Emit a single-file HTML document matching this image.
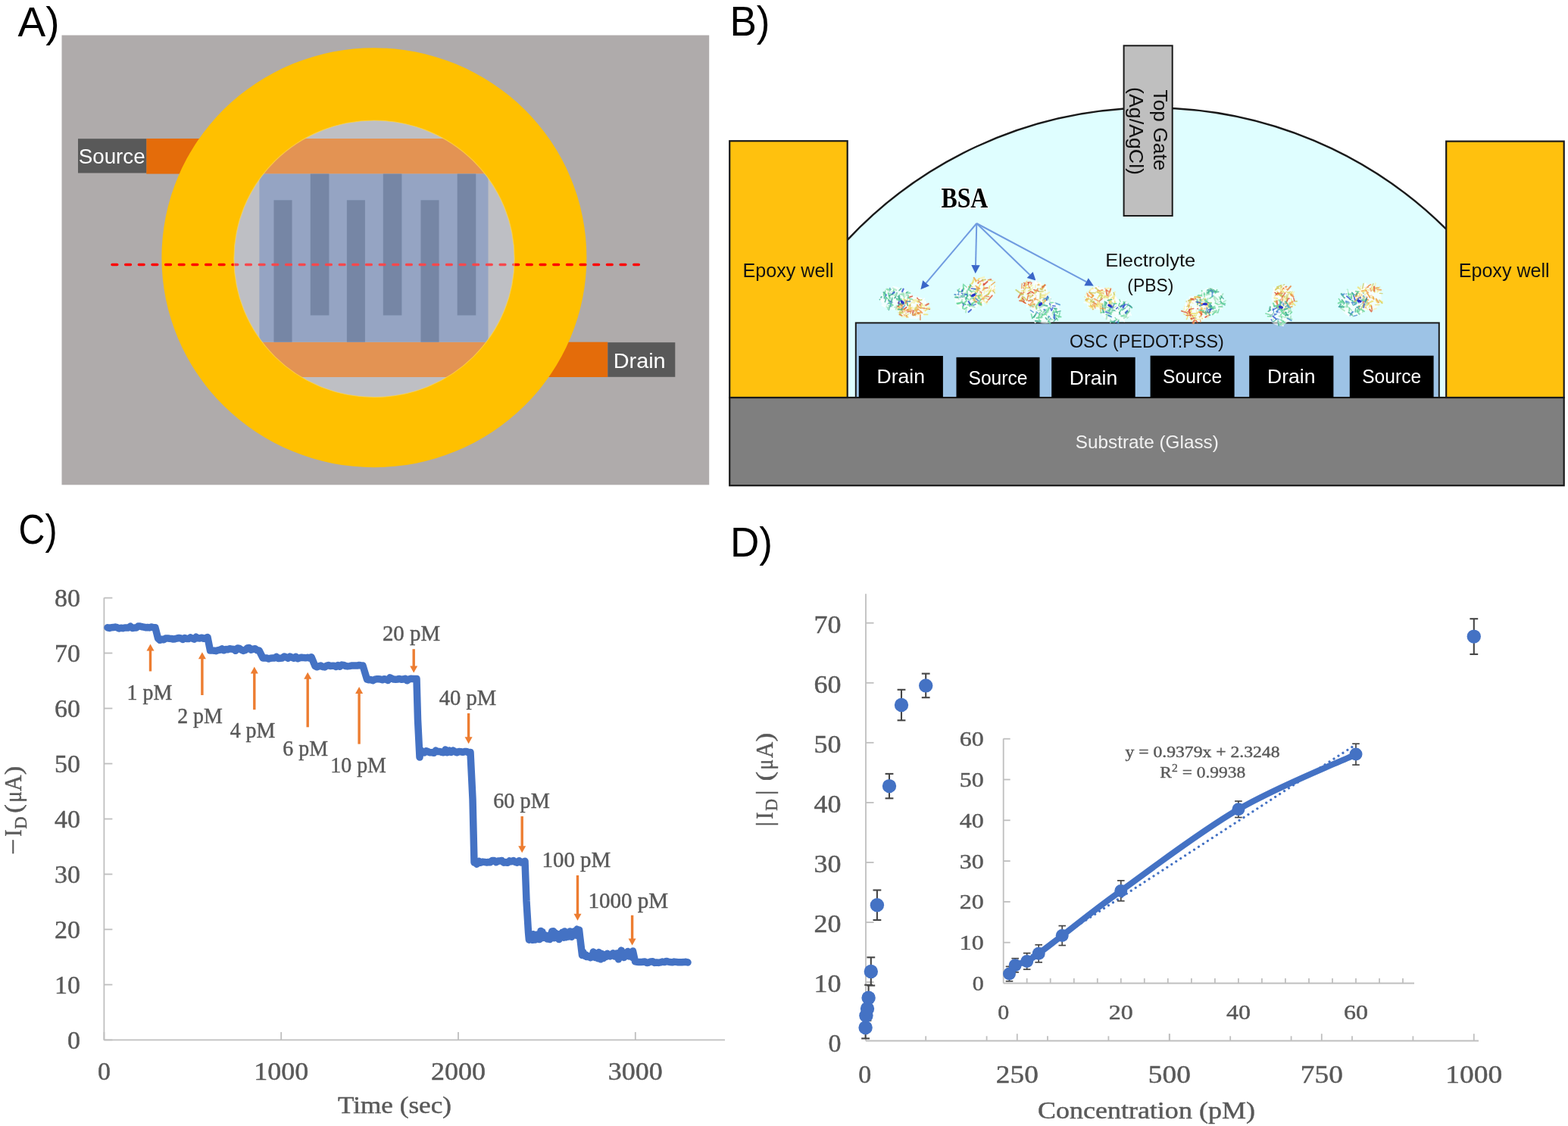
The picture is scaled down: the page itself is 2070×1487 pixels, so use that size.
<!DOCTYPE html>
<html><head><meta charset="utf-8"><title>Figure</title>
<style>html,body{margin:0;padding:0;background:#fff;overflow:hidden;} svg{display:block;}</style></head>
<body>
<svg width="2070" height="1487" viewBox="0 0 2070 1487">
<defs><filter id="pblur" x="-20%" y="-20%" width="140%" height="140%"><feGaussianBlur stdDeviation="0.6"/></filter></defs>
<rect width="2070" height="1487" fill="#fff"/>
<text x="23.5" y="47.6" font-family="'Liberation Sans', Arial, sans-serif" font-size="55" fill="#000" text-anchor="start" textLength="55" lengthAdjust="spacingAndGlyphs" >A)</text>
<text x="963.5" y="46.6" font-family="'Liberation Sans', Arial, sans-serif" font-size="55" fill="#000" text-anchor="start" textLength="53" lengthAdjust="spacingAndGlyphs" >B)</text>
<text x="24.5" y="717.6" font-family="'Liberation Sans', Arial, sans-serif" font-size="55" fill="#000" text-anchor="start" textLength="51" lengthAdjust="spacingAndGlyphs" >C)</text>
<text x="964.0" y="735.4" font-family="'Liberation Sans', Arial, sans-serif" font-size="55" fill="#000" text-anchor="start" textLength="56" lengthAdjust="spacingAndGlyphs" >D)</text>
<g id="panelA">
<rect x="81.5" y="46.5" width="854.7" height="593.8" fill="#AFABAB"/>
<rect x="193.2" y="183" width="510" height="46.6" fill="#E46C0A"/>
<rect x="290" y="451.7" width="512.3" height="46.3" fill="#E46C0A"/>
<rect x="103" y="183.2" width="90.2" height="45.3" fill="#595959"/>
<rect x="802.3" y="452.2" width="89" height="45.6" fill="#595959"/>
<text x="147.7" y="216.3" font-family="'Liberation Sans', Arial, sans-serif" font-size="28" fill="#fff" text-anchor="middle" textLength="88" lengthAdjust="spacingAndGlyphs" >Source</text>
<text x="844.2" y="485.6" font-family="'Liberation Sans', Arial, sans-serif" font-size="27" fill="#fff" text-anchor="middle" textLength="69" lengthAdjust="spacingAndGlyphs" >Drain</text>
<rect x="342.4" y="229.6" width="302.1" height="222.1" fill="#7485A9"/>
<rect x="409.8" y="229.6" width="24.6" height="186.8" fill="#48597F"/>
<rect x="505.8" y="229.6" width="24.6" height="186.8" fill="#48597F"/>
<rect x="603.7" y="229.6" width="24.6" height="186.8" fill="#48597F"/>
<rect x="361.5" y="264.3" width="24.0" height="187.4" fill="#48597F"/>
<rect x="457.9" y="264.3" width="24.0" height="187.4" fill="#48597F"/>
<rect x="555.5" y="264.3" width="24.0" height="187.4" fill="#48597F"/>
<path fill="#FFC000" fill-rule="evenodd" d="M 213.4 340.2 A 280.5 277 0 1 0 774.4 340.2 A 280.5 277 0 1 0 213.4 340.2 Z M 308.8 341.8 A 185.2 182.8 0 1 0 679.2 341.8 A 185.2 182.8 0 1 0 308.8 341.8 Z"/>
<line x1="148" y1="349.5" x2="843.3" y2="349.5" stroke="#FF0000" stroke-width="3.4" stroke-linecap="round" stroke-dasharray="6.8 10.86"/>
<ellipse cx="494" cy="341.8" rx="185.2" ry="182.8" fill="rgb(225,240,255)" fill-opacity="0.3"/>
<ellipse cx="494" cy="341.8" rx="185.2" ry="182.8" fill="none" stroke="#FFD54A" stroke-width="1.2" stroke-opacity="0.7"/>
</g>
<g id="panelB">
<path d="M 1118.7 316.9 A 550.8 550.8 0 0 1 1909.0 302.4 L 1909.0 525 L 1118.7 525 Z" fill="#DFFEFF"/>
<path d="M 1118.7 316.9 A 550.8 550.8 0 0 1 1909.0 302.4" fill="none" stroke="#1a1a1a" stroke-width="2.4"/>
<rect x="963.2" y="525" width="1101.5" height="116.2" fill="#7F7F7F" stroke="#1a1a1a" stroke-width="2.2"/>
<rect x="963.2" y="186.2" width="155.5" height="338.8" fill="#FFC10E" stroke="#1a1a1a" stroke-width="2.2"/>
<rect x="1909.2" y="186.6" width="155.5" height="338.4" fill="#FFC10E" stroke="#1a1a1a" stroke-width="2.2"/>
<rect x="1129.8" y="426.4" width="770" height="98.6" fill="#9DC3E6" stroke="#1a1a1a" stroke-width="2"/>
<rect x="1133.8" y="470" width="111.1" height="55.0" fill="#000"/>
<text x="1189.3" y="505.8" font-family="'Liberation Sans', Arial, sans-serif" font-size="25" fill="#fff" text-anchor="middle" textLength="63.5" lengthAdjust="spacingAndGlyphs" >Drain</text>
<rect x="1262.5" y="471.8" width="110.0" height="53.2" fill="#000"/>
<text x="1317.5" y="508" font-family="'Liberation Sans', Arial, sans-serif" font-size="25" fill="#fff" text-anchor="middle" textLength="78" lengthAdjust="spacingAndGlyphs" >Source</text>
<rect x="1388.2" y="471.8" width="110.5" height="53.2" fill="#000"/>
<text x="1443.5" y="508" font-family="'Liberation Sans', Arial, sans-serif" font-size="25" fill="#fff" text-anchor="middle" textLength="63.5" lengthAdjust="spacingAndGlyphs" >Drain</text>
<rect x="1518.6" y="469.7" width="111.0" height="55.3" fill="#000"/>
<text x="1574.1" y="505.5" font-family="'Liberation Sans', Arial, sans-serif" font-size="25" fill="#fff" text-anchor="middle" textLength="78" lengthAdjust="spacingAndGlyphs" >Source</text>
<rect x="1649.2" y="469.7" width="111.2" height="55.3" fill="#000"/>
<text x="1704.8" y="505.5" font-family="'Liberation Sans', Arial, sans-serif" font-size="25" fill="#fff" text-anchor="middle" textLength="63.5" lengthAdjust="spacingAndGlyphs" >Drain</text>
<rect x="1781.8" y="469.7" width="110.8" height="55.3" fill="#000"/>
<text x="1837.2" y="505.5" font-family="'Liberation Sans', Arial, sans-serif" font-size="25" fill="#fff" text-anchor="middle" textLength="78" lengthAdjust="spacingAndGlyphs" >Source</text>
<rect x="1483.6" y="60.3" width="64.1" height="224.7" fill="#BFBFBF" stroke="#1a1a1a" stroke-width="2"/>
<text transform="translate(1523,172) rotate(90)" font-family="'Liberation Sans', Arial, sans-serif" font-size="25" fill="#111" text-anchor="middle" textLength="107" lengthAdjust="spacingAndGlyphs">Top Gate</text>
<text transform="translate(1490.8,173) rotate(90)" font-family="'Liberation Sans', Arial, sans-serif" font-size="25" fill="#111" text-anchor="middle" textLength="116" lengthAdjust="spacingAndGlyphs">(Ag/AgCl)</text>
<text x="1040.6" y="366" font-family="'Liberation Sans', Arial, sans-serif" font-size="25.5" fill="#111" text-anchor="middle" textLength="120" lengthAdjust="spacingAndGlyphs" >Epoxy well</text>
<text x="1985.7" y="365.5" font-family="'Liberation Sans', Arial, sans-serif" font-size="25.5" fill="#111" text-anchor="middle" textLength="120" lengthAdjust="spacingAndGlyphs" >Epoxy well</text>
<text x="1518.7" y="351.7" font-family="'Liberation Sans', Arial, sans-serif" font-size="24" fill="#111" text-anchor="middle" textLength="119" lengthAdjust="spacingAndGlyphs" >Electrolyte</text>
<text x="1518.8" y="384.5" font-family="'Liberation Sans', Arial, sans-serif" font-size="24" fill="#111" text-anchor="middle" textLength="61" lengthAdjust="spacingAndGlyphs" >(PBS)</text>
<text x="1513.9" y="458.8" font-family="'Liberation Sans', Arial, sans-serif" font-size="24.5" fill="#111" text-anchor="middle" textLength="204" lengthAdjust="spacingAndGlyphs" >OSC (PEDOT:PSS)</text>
<text x="1514.3" y="592.3" font-family="'Liberation Sans', Arial, sans-serif" font-size="24.5" fill="#F2F2F2" text-anchor="middle" textLength="189" lengthAdjust="spacingAndGlyphs" >Substrate (Glass)</text>
<text x="1273.4" y="274" font-family="'Liberation Serif', 'Times New Roman', serif" font-size="37" fill="#000" text-anchor="middle" textLength="62" lengthAdjust="spacingAndGlyphs" font-weight="bold" stroke="#FFFFFF" stroke-width="4" stroke-opacity="0.55" stroke-linejoin="round" paint-order="stroke">BSA</text>
<line x1="1289.3" y1="295" x2="1222.5" y2="373.9" stroke="#6F9BE0" stroke-width="2"/>
<polygon points="1215.4,382.3 1218.2,370.2 1226.9,377.6" fill="#3A66C8"/>
<line x1="1289.3" y1="295" x2="1288.0" y2="350.2" stroke="#6F9BE0" stroke-width="2"/>
<polygon points="1287.7,361.2 1282.3,350.1 1293.7,350.3" fill="#3A66C8"/>
<line x1="1289.3" y1="295" x2="1359.6" y2="363.0" stroke="#6F9BE0" stroke-width="2"/>
<polygon points="1367.5,370.6 1355.6,367.1 1363.6,358.9" fill="#3A66C8"/>
<line x1="1289.3" y1="295" x2="1434.1" y2="372.2" stroke="#6F9BE0" stroke-width="2"/>
<polygon points="1443.8,377.4 1431.4,377.3 1436.8,367.2" fill="#3A66C8"/>
</g>
<g filter="url(#pblur)">
<ellipse cx="1181.9" cy="394.3" rx="19.8" ry="15.1" fill="#FFFFFF" fill-opacity="0.6"/>
<ellipse cx="1205.2" cy="406.1" rx="19.8" ry="15.1" fill="#FFFFFF" fill-opacity="0.6"/>
<line x1="1189.7" y1="406.6" x2="1190.7" y2="412.6" stroke="#CCCB62" stroke-width="2.2" stroke-linecap="round" stroke-opacity="0.8"/>
<line x1="1214.3" y1="417.5" x2="1210.0" y2="420.8" stroke="#FFFFFF" stroke-width="1.4" stroke-linecap="round" stroke-opacity="0.8"/>
<line x1="1204.5" y1="407.6" x2="1201.8" y2="413.6" stroke="#F29C5A" stroke-width="1.9" stroke-linecap="round" stroke-opacity="0.8"/>
<line x1="1191.6" y1="411.2" x2="1196.4" y2="413.8" stroke="#D9472F" stroke-width="1.3" stroke-linecap="round" stroke-opacity="0.8"/>
<line x1="1201.2" y1="402.4" x2="1199.2" y2="408.6" stroke="#EDE070" stroke-width="2.1" stroke-linecap="round" stroke-opacity="0.8"/>
<line x1="1198.9" y1="414.5" x2="1196.7" y2="419.1" stroke="#EDE070" stroke-width="1.8" stroke-linecap="round" stroke-opacity="0.8"/>
<line x1="1198.2" y1="394.9" x2="1197.4" y2="399.4" stroke="#EDE070" stroke-width="2.2" stroke-linecap="round" stroke-opacity="0.8"/>
<line x1="1213.2" y1="408.5" x2="1215.6" y2="411.6" stroke="#F29C5A" stroke-width="1.4" stroke-linecap="round" stroke-opacity="0.8"/>
<line x1="1204.5" y1="395.9" x2="1208.6" y2="396.8" stroke="#CCCB62" stroke-width="1.3" stroke-linecap="round" stroke-opacity="0.8"/>
<line x1="1201.0" y1="396.2" x2="1201.7" y2="402.8" stroke="#CCCB62" stroke-width="2.3" stroke-linecap="round" stroke-opacity="0.8"/>
<line x1="1201.7" y1="407.1" x2="1199.7" y2="410.3" stroke="#E8803A" stroke-width="1.6" stroke-linecap="round" stroke-opacity="0.8"/>
<line x1="1201.4" y1="406.8" x2="1207.1" y2="409.0" stroke="#FFFFFF" stroke-width="1.5" stroke-linecap="round" stroke-opacity="0.8"/>
<line x1="1210.7" y1="406.3" x2="1208.0" y2="410.5" stroke="#F29C5A" stroke-width="1.5" stroke-linecap="round" stroke-opacity="0.8"/>
<line x1="1185.2" y1="403.7" x2="1183.6" y2="406.9" stroke="#F29C5A" stroke-width="1.4" stroke-linecap="round" stroke-opacity="0.8"/>
<line x1="1199.9" y1="409.3" x2="1193.5" y2="409.8" stroke="#EDE070" stroke-width="1.9" stroke-linecap="round" stroke-opacity="0.8"/>
<line x1="1210.2" y1="405.1" x2="1206.1" y2="407.1" stroke="#F7F0B0" stroke-width="1.9" stroke-linecap="round" stroke-opacity="0.8"/>
<line x1="1219.7" y1="415.2" x2="1224.5" y2="415.4" stroke="#EDE070" stroke-width="1.9" stroke-linecap="round" stroke-opacity="0.8"/>
<line x1="1211.9" y1="396.0" x2="1211.1" y2="399.3" stroke="#F7F0B0" stroke-width="1.5" stroke-linecap="round" stroke-opacity="0.8"/>
<line x1="1195.4" y1="398.8" x2="1194.4" y2="402.2" stroke="#FFFFFF" stroke-width="2.1" stroke-linecap="round" stroke-opacity="0.8"/>
<line x1="1215.5" y1="412.9" x2="1212.1" y2="414.0" stroke="#E8803A" stroke-width="2.1" stroke-linecap="round" stroke-opacity="0.8"/>
<line x1="1205.7" y1="410.2" x2="1204.8" y2="415.7" stroke="#D9472F" stroke-width="2.0" stroke-linecap="round" stroke-opacity="0.8"/>
<line x1="1191.9" y1="412.4" x2="1196.3" y2="413.9" stroke="#F7F0B0" stroke-width="1.3" stroke-linecap="round" stroke-opacity="0.8"/>
<line x1="1214.6" y1="402.2" x2="1215.7" y2="406.6" stroke="#D9472F" stroke-width="2.2" stroke-linecap="round" stroke-opacity="0.8"/>
<line x1="1187.2" y1="406.2" x2="1193.0" y2="407.4" stroke="#CCCB62" stroke-width="1.5" stroke-linecap="round" stroke-opacity="0.8"/>
<line x1="1185.9" y1="399.9" x2="1188.5" y2="401.9" stroke="#E0603A" stroke-width="2.2" stroke-linecap="round" stroke-opacity="0.8"/>
<line x1="1202.8" y1="401.6" x2="1207.5" y2="402.5" stroke="#FFFFFF" stroke-width="1.5" stroke-linecap="round" stroke-opacity="0.8"/>
<line x1="1192.9" y1="414.1" x2="1196.0" y2="415.5" stroke="#F7F0B0" stroke-width="1.8" stroke-linecap="round" stroke-opacity="0.8"/>
<line x1="1194.0" y1="416.7" x2="1198.9" y2="419.0" stroke="#EFA040" stroke-width="1.3" stroke-linecap="round" stroke-opacity="0.8"/>
<line x1="1223.0" y1="407.6" x2="1227.2" y2="408.0" stroke="#D9472F" stroke-width="1.9" stroke-linecap="round" stroke-opacity="0.8"/>
<line x1="1212.2" y1="408.0" x2="1207.9" y2="408.0" stroke="#EDE070" stroke-width="1.4" stroke-linecap="round" stroke-opacity="0.8"/>
<line x1="1190.2" y1="399.8" x2="1185.7" y2="404.8" stroke="#CCCB62" stroke-width="1.4" stroke-linecap="round" stroke-opacity="0.8"/>
<line x1="1219.9" y1="403.2" x2="1214.4" y2="404.9" stroke="#F7F0B0" stroke-width="2.2" stroke-linecap="round" stroke-opacity="0.8"/>
<line x1="1186.5" y1="412.9" x2="1191.5" y2="413.2" stroke="#CCCB62" stroke-width="2.0" stroke-linecap="round" stroke-opacity="0.8"/>
<line x1="1204.2" y1="405.8" x2="1202.8" y2="408.8" stroke="#F7F0B0" stroke-width="2.3" stroke-linecap="round" stroke-opacity="0.8"/>
<line x1="1220.2" y1="394.3" x2="1216.3" y2="399.8" stroke="#FFFFFF" stroke-width="1.8" stroke-linecap="round" stroke-opacity="0.8"/>
<line x1="1187.2" y1="408.5" x2="1193.2" y2="409.1" stroke="#EFA040" stroke-width="1.9" stroke-linecap="round" stroke-opacity="0.8"/>
<line x1="1196.5" y1="405.9" x2="1193.9" y2="408.1" stroke="#D9472F" stroke-width="2.0" stroke-linecap="round" stroke-opacity="0.8"/>
<line x1="1186.5" y1="405.6" x2="1184.3" y2="409.2" stroke="#EDE070" stroke-width="1.5" stroke-linecap="round" stroke-opacity="0.8"/>
<line x1="1214.9" y1="415.8" x2="1214.9" y2="422.5" stroke="#E8803A" stroke-width="1.5" stroke-linecap="round" stroke-opacity="0.8"/>
<line x1="1198.5" y1="409.2" x2="1194.6" y2="411.9" stroke="#E8803A" stroke-width="2.2" stroke-linecap="round" stroke-opacity="0.8"/>
<line x1="1212.1" y1="397.5" x2="1217.4" y2="401.6" stroke="#E0603A" stroke-width="1.4" stroke-linecap="round" stroke-opacity="0.8"/>
<line x1="1196.3" y1="417.6" x2="1190.6" y2="418.5" stroke="#F7F0B0" stroke-width="1.6" stroke-linecap="round" stroke-opacity="0.8"/>
<line x1="1215.0" y1="413.6" x2="1209.2" y2="417.0" stroke="#EDE070" stroke-width="1.7" stroke-linecap="round" stroke-opacity="0.8"/>
<line x1="1191.3" y1="404.4" x2="1185.0" y2="404.7" stroke="#D9472F" stroke-width="1.8" stroke-linecap="round" stroke-opacity="0.8"/>
<line x1="1210.0" y1="405.1" x2="1207.1" y2="409.7" stroke="#CCCB62" stroke-width="1.6" stroke-linecap="round" stroke-opacity="0.8"/>
<line x1="1193.5" y1="415.5" x2="1196.3" y2="416.8" stroke="#E0603A" stroke-width="1.8" stroke-linecap="round" stroke-opacity="0.8"/>
<line x1="1226.6" y1="406.5" x2="1221.6" y2="410.2" stroke="#EDE070" stroke-width="2.3" stroke-linecap="round" stroke-opacity="0.8"/>
<line x1="1212.7" y1="408.0" x2="1208.1" y2="411.2" stroke="#EFA040" stroke-width="2.3" stroke-linecap="round" stroke-opacity="0.8"/>
<line x1="1202.7" y1="398.2" x2="1200.2" y2="401.3" stroke="#FFFFFF" stroke-width="2.1" stroke-linecap="round" stroke-opacity="0.8"/>
<line x1="1200.4" y1="403.7" x2="1202.3" y2="407.3" stroke="#EDE070" stroke-width="2.0" stroke-linecap="round" stroke-opacity="0.8"/>
<line x1="1190.5" y1="403.7" x2="1187.3" y2="405.4" stroke="#F29C5A" stroke-width="2.0" stroke-linecap="round" stroke-opacity="0.8"/>
<line x1="1204.7" y1="414.8" x2="1210.1" y2="417.2" stroke="#CCCB62" stroke-width="1.8" stroke-linecap="round" stroke-opacity="0.8"/>
<line x1="1192.3" y1="393.3" x2="1189.9" y2="397.9" stroke="#FFFFFF" stroke-width="1.8" stroke-linecap="round" stroke-opacity="0.8"/>
<line x1="1208.2" y1="396.2" x2="1212.6" y2="399.5" stroke="#EDE070" stroke-width="2.0" stroke-linecap="round" stroke-opacity="0.8"/>
<line x1="1210.9" y1="393.6" x2="1213.5" y2="396.0" stroke="#D9472F" stroke-width="1.7" stroke-linecap="round" stroke-opacity="0.8"/>
<line x1="1212.9" y1="408.2" x2="1217.4" y2="413.2" stroke="#F29C5A" stroke-width="2.0" stroke-linecap="round" stroke-opacity="0.8"/>
<line x1="1220.4" y1="404.9" x2="1219.7" y2="409.6" stroke="#F7F0B0" stroke-width="2.1" stroke-linecap="round" stroke-opacity="0.8"/>
<line x1="1201.0" y1="403.2" x2="1202.4" y2="409.5" stroke="#F29C5A" stroke-width="1.3" stroke-linecap="round" stroke-opacity="0.8"/>
<line x1="1186.6" y1="402.7" x2="1189.8" y2="404.3" stroke="#CCCB62" stroke-width="1.8" stroke-linecap="round" stroke-opacity="0.8"/>
<line x1="1204.2" y1="391.2" x2="1199.8" y2="392.9" stroke="#D9472F" stroke-width="1.9" stroke-linecap="round" stroke-opacity="0.8"/>
<line x1="1196.8" y1="391.5" x2="1199.9" y2="395.6" stroke="#FFFFFF" stroke-width="2.0" stroke-linecap="round" stroke-opacity="0.8"/>
<line x1="1193.2" y1="395.1" x2="1197.7" y2="399.9" stroke="#CCCB62" stroke-width="2.0" stroke-linecap="round" stroke-opacity="0.8"/>
<line x1="1225.7" y1="401.2" x2="1222.3" y2="402.9" stroke="#E0603A" stroke-width="2.3" stroke-linecap="round" stroke-opacity="0.8"/>
<line x1="1187.3" y1="403.5" x2="1191.7" y2="405.2" stroke="#EDE070" stroke-width="1.3" stroke-linecap="round" stroke-opacity="0.8"/>
<line x1="1193.4" y1="411.7" x2="1195.0" y2="416.5" stroke="#F7F0B0" stroke-width="2.1" stroke-linecap="round" stroke-opacity="0.8"/>
<line x1="1193.4" y1="401.5" x2="1189.8" y2="402.3" stroke="#D9472F" stroke-width="1.8" stroke-linecap="round" stroke-opacity="0.8"/>
<line x1="1221.5" y1="397.4" x2="1221.9" y2="401.5" stroke="#FFFFFF" stroke-width="1.4" stroke-linecap="round" stroke-opacity="0.8"/>
<line x1="1188.1" y1="408.5" x2="1187.6" y2="415.2" stroke="#CCCB62" stroke-width="1.4" stroke-linecap="round" stroke-opacity="0.8"/>
<line x1="1203.4" y1="406.3" x2="1200.7" y2="408.6" stroke="#EDE070" stroke-width="1.3" stroke-linecap="round" stroke-opacity="0.8"/>
<line x1="1210.0" y1="411.6" x2="1207.3" y2="414.7" stroke="#E8803A" stroke-width="1.5" stroke-linecap="round" stroke-opacity="0.8"/>
<line x1="1190.4" y1="404.5" x2="1190.3" y2="408.0" stroke="#E0603A" stroke-width="1.6" stroke-linecap="round" stroke-opacity="0.8"/>
<line x1="1210.8" y1="415.5" x2="1209.5" y2="418.3" stroke="#FFFFFF" stroke-width="2.1" stroke-linecap="round" stroke-opacity="0.8"/>
<line x1="1194.9" y1="396.0" x2="1192.5" y2="401.0" stroke="#CCCB62" stroke-width="1.8" stroke-linecap="round" stroke-opacity="0.8"/>
<line x1="1216.7" y1="395.9" x2="1213.3" y2="396.8" stroke="#CCCB62" stroke-width="1.9" stroke-linecap="round" stroke-opacity="0.8"/>
<line x1="1202.1" y1="411.1" x2="1198.0" y2="412.1" stroke="#E0603A" stroke-width="1.5" stroke-linecap="round" stroke-opacity="0.8"/>
<line x1="1222.0" y1="404.7" x2="1228.0" y2="407.3" stroke="#F7F0B0" stroke-width="1.4" stroke-linecap="round" stroke-opacity="0.8"/>
<line x1="1196.2" y1="410.7" x2="1193.1" y2="414.9" stroke="#FFFFFF" stroke-width="1.5" stroke-linecap="round" stroke-opacity="0.8"/>
<line x1="1193.2" y1="394.5" x2="1191.2" y2="397.7" stroke="#F7F0B0" stroke-width="2.2" stroke-linecap="round" stroke-opacity="0.8"/>
<line x1="1210.9" y1="402.7" x2="1213.5" y2="407.5" stroke="#EFA040" stroke-width="2.3" stroke-linecap="round" stroke-opacity="0.8"/>
<line x1="1212.9" y1="393.8" x2="1216.3" y2="394.2" stroke="#FFFFFF" stroke-width="1.9" stroke-linecap="round" stroke-opacity="0.8"/>
<line x1="1187.7" y1="404.4" x2="1191.2" y2="405.7" stroke="#F7F0B0" stroke-width="1.5" stroke-linecap="round" stroke-opacity="0.8"/>
<line x1="1209.7" y1="412.8" x2="1213.0" y2="413.4" stroke="#E8803A" stroke-width="2.3" stroke-linecap="round" stroke-opacity="0.8"/>
<line x1="1186.9" y1="407.1" x2="1187.9" y2="411.6" stroke="#EDE070" stroke-width="1.7" stroke-linecap="round" stroke-opacity="0.8"/>
<line x1="1211.0" y1="414.0" x2="1205.8" y2="416.7" stroke="#E8803A" stroke-width="1.5" stroke-linecap="round" stroke-opacity="0.8"/>
<line x1="1189.0" y1="406.8" x2="1186.8" y2="413.1" stroke="#FFFFFF" stroke-width="1.4" stroke-linecap="round" stroke-opacity="0.8"/>
<line x1="1210.2" y1="395.1" x2="1206.5" y2="400.1" stroke="#F7F0B0" stroke-width="2.2" stroke-linecap="round" stroke-opacity="0.8"/>
<line x1="1196.5" y1="397.1" x2="1195.5" y2="400.8" stroke="#E0603A" stroke-width="1.6" stroke-linecap="round" stroke-opacity="0.8"/>
<line x1="1208.4" y1="396.0" x2="1203.8" y2="399.8" stroke="#F7F0B0" stroke-width="2.1" stroke-linecap="round" stroke-opacity="0.8"/>
<line x1="1187.7" y1="412.0" x2="1189.8" y2="416.8" stroke="#CCCB62" stroke-width="1.7" stroke-linecap="round" stroke-opacity="0.8"/>
<line x1="1208.4" y1="411.2" x2="1210.0" y2="414.0" stroke="#F7F0B0" stroke-width="1.8" stroke-linecap="round" stroke-opacity="0.8"/>
<line x1="1214.4" y1="406.3" x2="1221.0" y2="407.3" stroke="#E8803A" stroke-width="1.6" stroke-linecap="round" stroke-opacity="0.8"/>
<line x1="1217.0" y1="401.3" x2="1215.7" y2="406.8" stroke="#EDE070" stroke-width="1.8" stroke-linecap="round" stroke-opacity="0.8"/>
<line x1="1187.3" y1="415.4" x2="1190.9" y2="416.8" stroke="#E8803A" stroke-width="1.7" stroke-linecap="round" stroke-opacity="0.8"/>
<line x1="1196.8" y1="401.6" x2="1200.9" y2="405.9" stroke="#F7F0B0" stroke-width="1.7" stroke-linecap="round" stroke-opacity="0.8"/>
<line x1="1213.0" y1="407.2" x2="1215.1" y2="409.4" stroke="#FFFFFF" stroke-width="1.6" stroke-linecap="round" stroke-opacity="0.8"/>
<line x1="1174.3" y1="400.6" x2="1172.8" y2="407.3" stroke="#FFFFFF" stroke-width="2.3" stroke-linecap="round" stroke-opacity="0.8"/>
<line x1="1171.0" y1="381.4" x2="1168.4" y2="385.9" stroke="#66D69A" stroke-width="2.3" stroke-linecap="round" stroke-opacity="0.8"/>
<line x1="1164.4" y1="403.0" x2="1168.6" y2="405.5" stroke="#FFFFFF" stroke-width="1.8" stroke-linecap="round" stroke-opacity="0.8"/>
<line x1="1178.2" y1="389.6" x2="1177.8" y2="394.2" stroke="#A6E3BE" stroke-width="1.9" stroke-linecap="round" stroke-opacity="0.8"/>
<line x1="1176.4" y1="400.1" x2="1172.5" y2="401.0" stroke="#4A8ED0" stroke-width="2.0" stroke-linecap="round" stroke-opacity="0.8"/>
<line x1="1182.9" y1="389.3" x2="1180.8" y2="394.2" stroke="#3FAE90" stroke-width="1.7" stroke-linecap="round" stroke-opacity="0.8"/>
<line x1="1177.0" y1="390.6" x2="1182.9" y2="391.5" stroke="#FFFFFF" stroke-width="2.3" stroke-linecap="round" stroke-opacity="0.8"/>
<line x1="1187.1" y1="390.5" x2="1187.4" y2="395.2" stroke="#3FAE90" stroke-width="2.3" stroke-linecap="round" stroke-opacity="0.8"/>
<line x1="1184.3" y1="405.4" x2="1180.7" y2="405.8" stroke="#A6E3BE" stroke-width="1.5" stroke-linecap="round" stroke-opacity="0.8"/>
<line x1="1178.7" y1="389.5" x2="1182.5" y2="392.4" stroke="#FFFFFF" stroke-width="1.4" stroke-linecap="round" stroke-opacity="0.8"/>
<line x1="1174.1" y1="391.6" x2="1175.1" y2="395.1" stroke="#A6E3BE" stroke-width="1.9" stroke-linecap="round" stroke-opacity="0.8"/>
<line x1="1171.1" y1="381.4" x2="1170.5" y2="387.5" stroke="#FFFFFF" stroke-width="2.3" stroke-linecap="round" stroke-opacity="0.8"/>
<line x1="1199.1" y1="387.9" x2="1199.1" y2="392.9" stroke="#3FAE90" stroke-width="1.6" stroke-linecap="round" stroke-opacity="0.8"/>
<line x1="1163.7" y1="391.9" x2="1161.5" y2="395.4" stroke="#3FAE90" stroke-width="1.9" stroke-linecap="round" stroke-opacity="0.8"/>
<line x1="1166.6" y1="386.2" x2="1169.2" y2="388.9" stroke="#3FAE90" stroke-width="2.3" stroke-linecap="round" stroke-opacity="0.8"/>
<line x1="1196.1" y1="386.8" x2="1201.6" y2="387.0" stroke="#66D69A" stroke-width="1.6" stroke-linecap="round" stroke-opacity="0.8"/>
<line x1="1183.4" y1="394.2" x2="1188.4" y2="395.4" stroke="#3FAE90" stroke-width="1.4" stroke-linecap="round" stroke-opacity="0.8"/>
<line x1="1174.8" y1="380.5" x2="1175.1" y2="387.4" stroke="#4A8ED0" stroke-width="1.7" stroke-linecap="round" stroke-opacity="0.8"/>
<line x1="1171.0" y1="402.9" x2="1177.2" y2="404.4" stroke="#66D69A" stroke-width="1.4" stroke-linecap="round" stroke-opacity="0.8"/>
<line x1="1189.6" y1="381.1" x2="1186.2" y2="384.5" stroke="#3FAE90" stroke-width="1.7" stroke-linecap="round" stroke-opacity="0.8"/>
<line x1="1187.0" y1="397.2" x2="1186.4" y2="401.4" stroke="#3050D0" stroke-width="2.0" stroke-linecap="round" stroke-opacity="0.8"/>
<line x1="1193.6" y1="386.8" x2="1194.3" y2="392.1" stroke="#FFFFFF" stroke-width="1.6" stroke-linecap="round" stroke-opacity="0.8"/>
<line x1="1170.0" y1="389.5" x2="1167.3" y2="393.6" stroke="#3050D0" stroke-width="1.6" stroke-linecap="round" stroke-opacity="0.8"/>
<line x1="1183.9" y1="386.9" x2="1181.8" y2="393.2" stroke="#3FAE90" stroke-width="2.0" stroke-linecap="round" stroke-opacity="0.8"/>
<line x1="1161.7" y1="393.9" x2="1165.4" y2="395.7" stroke="#FFFFFF" stroke-width="1.7" stroke-linecap="round" stroke-opacity="0.8"/>
<line x1="1179.6" y1="382.9" x2="1180.4" y2="387.1" stroke="#66D69A" stroke-width="1.9" stroke-linecap="round" stroke-opacity="0.8"/>
<line x1="1198.1" y1="385.5" x2="1194.2" y2="388.3" stroke="#3FAE90" stroke-width="1.6" stroke-linecap="round" stroke-opacity="0.8"/>
<line x1="1175.6" y1="401.5" x2="1177.3" y2="405.1" stroke="#A6E3BE" stroke-width="1.7" stroke-linecap="round" stroke-opacity="0.8"/>
<line x1="1175.4" y1="399.5" x2="1171.2" y2="404.0" stroke="#FFFFFF" stroke-width="1.7" stroke-linecap="round" stroke-opacity="0.8"/>
<line x1="1173.3" y1="396.8" x2="1177.8" y2="399.6" stroke="#3050D0" stroke-width="2.1" stroke-linecap="round" stroke-opacity="0.8"/>
<line x1="1188.1" y1="388.3" x2="1192.0" y2="389.0" stroke="#66D69A" stroke-width="1.5" stroke-linecap="round" stroke-opacity="0.8"/>
<line x1="1181.2" y1="394.9" x2="1180.8" y2="398.2" stroke="#FFFFFF" stroke-width="2.1" stroke-linecap="round" stroke-opacity="0.8"/>
<line x1="1183.9" y1="395.7" x2="1190.3" y2="397.4" stroke="#66D69A" stroke-width="1.9" stroke-linecap="round" stroke-opacity="0.8"/>
<line x1="1194.5" y1="403.1" x2="1191.7" y2="406.8" stroke="#4A8ED0" stroke-width="1.8" stroke-linecap="round" stroke-opacity="0.8"/>
<line x1="1191.0" y1="387.3" x2="1193.2" y2="391.3" stroke="#A6E3BE" stroke-width="2.3" stroke-linecap="round" stroke-opacity="0.8"/>
<line x1="1172.0" y1="383.9" x2="1178.0" y2="385.3" stroke="#A6E3BE" stroke-width="1.9" stroke-linecap="round" stroke-opacity="0.8"/>
<line x1="1197.2" y1="398.2" x2="1201.6" y2="398.2" stroke="#4A8ED0" stroke-width="1.7" stroke-linecap="round" stroke-opacity="0.8"/>
<line x1="1194.2" y1="397.2" x2="1193.8" y2="402.8" stroke="#A6E3BE" stroke-width="2.0" stroke-linecap="round" stroke-opacity="0.8"/>
<line x1="1183.9" y1="382.4" x2="1188.7" y2="387.0" stroke="#FFFFFF" stroke-width="1.5" stroke-linecap="round" stroke-opacity="0.8"/>
<line x1="1170.0" y1="382.8" x2="1170.9" y2="386.5" stroke="#FFFFFF" stroke-width="1.6" stroke-linecap="round" stroke-opacity="0.8"/>
<line x1="1185.2" y1="391.2" x2="1188.6" y2="396.0" stroke="#3FAE90" stroke-width="1.5" stroke-linecap="round" stroke-opacity="0.8"/>
<line x1="1199.3" y1="385.6" x2="1199.5" y2="388.6" stroke="#A6E3BE" stroke-width="2.1" stroke-linecap="round" stroke-opacity="0.8"/>
<line x1="1176.9" y1="399.4" x2="1179.7" y2="402.0" stroke="#FFFFFF" stroke-width="2.0" stroke-linecap="round" stroke-opacity="0.8"/>
<line x1="1172.7" y1="387.0" x2="1174.7" y2="393.3" stroke="#66D69A" stroke-width="2.2" stroke-linecap="round" stroke-opacity="0.8"/>
<line x1="1195.6" y1="387.8" x2="1198.9" y2="391.4" stroke="#A6E3BE" stroke-width="2.2" stroke-linecap="round" stroke-opacity="0.8"/>
<line x1="1189.5" y1="388.8" x2="1195.3" y2="390.5" stroke="#A6E3BE" stroke-width="2.2" stroke-linecap="round" stroke-opacity="0.8"/>
<line x1="1172.9" y1="395.7" x2="1175.1" y2="401.5" stroke="#66D69A" stroke-width="1.8" stroke-linecap="round" stroke-opacity="0.8"/>
<line x1="1168.9" y1="391.6" x2="1173.0" y2="395.4" stroke="#66D69A" stroke-width="1.3" stroke-linecap="round" stroke-opacity="0.8"/>
<line x1="1170.2" y1="393.2" x2="1168.3" y2="398.7" stroke="#3FAE90" stroke-width="1.5" stroke-linecap="round" stroke-opacity="0.8"/>
<line x1="1191.2" y1="399.8" x2="1185.7" y2="403.6" stroke="#3FAE90" stroke-width="1.4" stroke-linecap="round" stroke-opacity="0.8"/>
<line x1="1178.7" y1="380.9" x2="1183.3" y2="383.2" stroke="#A6E3BE" stroke-width="2.1" stroke-linecap="round" stroke-opacity="0.8"/>
<line x1="1197.9" y1="393.6" x2="1204.0" y2="395.2" stroke="#66D69A" stroke-width="1.6" stroke-linecap="round" stroke-opacity="0.8"/>
<line x1="1177.7" y1="388.8" x2="1183.3" y2="390.3" stroke="#A6E3BE" stroke-width="2.0" stroke-linecap="round" stroke-opacity="0.8"/>
<line x1="1166.7" y1="388.4" x2="1168.3" y2="394.3" stroke="#66D69A" stroke-width="2.2" stroke-linecap="round" stroke-opacity="0.8"/>
<line x1="1197.5" y1="400.5" x2="1198.4" y2="403.5" stroke="#3FAE90" stroke-width="1.8" stroke-linecap="round" stroke-opacity="0.8"/>
<line x1="1199.3" y1="388.8" x2="1203.4" y2="389.8" stroke="#FFFFFF" stroke-width="1.6" stroke-linecap="round" stroke-opacity="0.8"/>
<line x1="1163.0" y1="396.3" x2="1166.0" y2="397.7" stroke="#FFFFFF" stroke-width="2.0" stroke-linecap="round" stroke-opacity="0.8"/>
<line x1="1170.9" y1="382.2" x2="1176.5" y2="382.4" stroke="#66D69A" stroke-width="1.7" stroke-linecap="round" stroke-opacity="0.8"/>
<line x1="1180.6" y1="385.8" x2="1178.0" y2="388.1" stroke="#3050D0" stroke-width="2.2" stroke-linecap="round" stroke-opacity="0.8"/>
<line x1="1192.6" y1="381.7" x2="1191.1" y2="385.0" stroke="#3050D0" stroke-width="2.2" stroke-linecap="round" stroke-opacity="0.8"/>
<line x1="1179.3" y1="378.4" x2="1184.4" y2="379.8" stroke="#FFFFFF" stroke-width="1.5" stroke-linecap="round" stroke-opacity="0.8"/>
<line x1="1177.6" y1="394.6" x2="1176.3" y2="401.3" stroke="#3FAE90" stroke-width="2.0" stroke-linecap="round" stroke-opacity="0.8"/>
<line x1="1173.2" y1="405.1" x2="1171.9" y2="408.3" stroke="#66D69A" stroke-width="1.4" stroke-linecap="round" stroke-opacity="0.8"/>
<line x1="1177.8" y1="388.4" x2="1173.8" y2="390.6" stroke="#3FAE90" stroke-width="1.9" stroke-linecap="round" stroke-opacity="0.8"/>
<line x1="1189.6" y1="394.9" x2="1191.0" y2="401.7" stroke="#66D69A" stroke-width="2.1" stroke-linecap="round" stroke-opacity="0.8"/>
<line x1="1170.1" y1="405.1" x2="1172.9" y2="407.3" stroke="#A6E3BE" stroke-width="1.4" stroke-linecap="round" stroke-opacity="0.8"/>
<line x1="1178.4" y1="382.1" x2="1174.8" y2="386.3" stroke="#FFFFFF" stroke-width="1.9" stroke-linecap="round" stroke-opacity="0.8"/>
<line x1="1175.1" y1="404.3" x2="1173.3" y2="409.6" stroke="#3FAE90" stroke-width="1.3" stroke-linecap="round" stroke-opacity="0.8"/>
<line x1="1176.3" y1="399.9" x2="1175.5" y2="404.6" stroke="#4A8ED0" stroke-width="1.5" stroke-linecap="round" stroke-opacity="0.8"/>
<line x1="1173.8" y1="400.4" x2="1178.6" y2="403.0" stroke="#66D69A" stroke-width="2.1" stroke-linecap="round" stroke-opacity="0.8"/>
<line x1="1194.7" y1="385.0" x2="1194.5" y2="390.4" stroke="#FFFFFF" stroke-width="1.9" stroke-linecap="round" stroke-opacity="0.8"/>
<line x1="1185.8" y1="408.4" x2="1191.0" y2="408.8" stroke="#3FAE90" stroke-width="2.0" stroke-linecap="round" stroke-opacity="0.8"/>
<line x1="1184.7" y1="386.5" x2="1181.6" y2="390.8" stroke="#A6E3BE" stroke-width="1.6" stroke-linecap="round" stroke-opacity="0.8"/>
<line x1="1192.8" y1="387.0" x2="1193.8" y2="393.5" stroke="#A6E3BE" stroke-width="2.0" stroke-linecap="round" stroke-opacity="0.8"/>
<line x1="1183.5" y1="403.5" x2="1182.5" y2="408.6" stroke="#A6E3BE" stroke-width="1.6" stroke-linecap="round" stroke-opacity="0.8"/>
<ellipse cx="1191.2" cy="399.0" rx="3.2" ry="1.8" fill="#2A35CC" transform="rotate(49 1191.2 399.0)"/>
</g>
<g filter="url(#pblur)">
<ellipse cx="1277.4" cy="394.0" rx="17.0" ry="16.8" fill="#FFFFFF" fill-opacity="0.6"/>
<ellipse cx="1296.3" cy="383.5" rx="17.0" ry="16.8" fill="#FFFFFF" fill-opacity="0.6"/>
<line x1="1281.2" y1="383.7" x2="1282.8" y2="387.8" stroke="#E8803A" stroke-width="2.3" stroke-linecap="round" stroke-opacity="0.8"/>
<line x1="1282.9" y1="382.3" x2="1281.1" y2="387.8" stroke="#FFFFFF" stroke-width="1.9" stroke-linecap="round" stroke-opacity="0.8"/>
<line x1="1291.6" y1="376.0" x2="1293.8" y2="379.9" stroke="#FFFFFF" stroke-width="1.5" stroke-linecap="round" stroke-opacity="0.8"/>
<line x1="1287.8" y1="377.5" x2="1290.6" y2="382.5" stroke="#EFA040" stroke-width="1.7" stroke-linecap="round" stroke-opacity="0.8"/>
<line x1="1299.2" y1="378.8" x2="1296.1" y2="384.3" stroke="#F7F0B0" stroke-width="1.5" stroke-linecap="round" stroke-opacity="0.8"/>
<line x1="1307.6" y1="381.1" x2="1308.4" y2="384.5" stroke="#FFFFFF" stroke-width="1.4" stroke-linecap="round" stroke-opacity="0.8"/>
<line x1="1294.1" y1="394.9" x2="1287.7" y2="397.3" stroke="#F7F0B0" stroke-width="1.9" stroke-linecap="round" stroke-opacity="0.8"/>
<line x1="1291.8" y1="381.1" x2="1290.4" y2="385.5" stroke="#E0603A" stroke-width="1.8" stroke-linecap="round" stroke-opacity="0.8"/>
<line x1="1292.6" y1="384.6" x2="1295.4" y2="386.5" stroke="#D9472F" stroke-width="2.1" stroke-linecap="round" stroke-opacity="0.8"/>
<line x1="1296.6" y1="397.8" x2="1293.6" y2="402.7" stroke="#CCCB62" stroke-width="1.4" stroke-linecap="round" stroke-opacity="0.8"/>
<line x1="1299.3" y1="392.1" x2="1295.4" y2="395.7" stroke="#EFA040" stroke-width="1.5" stroke-linecap="round" stroke-opacity="0.8"/>
<line x1="1282.2" y1="392.8" x2="1286.1" y2="396.1" stroke="#F7F0B0" stroke-width="1.7" stroke-linecap="round" stroke-opacity="0.8"/>
<line x1="1282.0" y1="391.4" x2="1286.6" y2="395.3" stroke="#F7F0B0" stroke-width="1.4" stroke-linecap="round" stroke-opacity="0.8"/>
<line x1="1295.5" y1="392.8" x2="1293.7" y2="396.8" stroke="#FFFFFF" stroke-width="1.4" stroke-linecap="round" stroke-opacity="0.8"/>
<line x1="1289.8" y1="383.6" x2="1287.0" y2="387.5" stroke="#EDE070" stroke-width="2.2" stroke-linecap="round" stroke-opacity="0.8"/>
<line x1="1296.1" y1="397.6" x2="1298.8" y2="403.7" stroke="#FFFFFF" stroke-width="1.5" stroke-linecap="round" stroke-opacity="0.8"/>
<line x1="1299.4" y1="366.1" x2="1292.9" y2="367.9" stroke="#F7F0B0" stroke-width="2.1" stroke-linecap="round" stroke-opacity="0.8"/>
<line x1="1303.8" y1="396.0" x2="1302.6" y2="398.9" stroke="#EFA040" stroke-width="2.3" stroke-linecap="round" stroke-opacity="0.8"/>
<line x1="1312.2" y1="382.2" x2="1306.0" y2="384.6" stroke="#F7F0B0" stroke-width="2.0" stroke-linecap="round" stroke-opacity="0.8"/>
<line x1="1295.0" y1="386.8" x2="1295.4" y2="391.9" stroke="#F29C5A" stroke-width="1.9" stroke-linecap="round" stroke-opacity="0.8"/>
<line x1="1294.5" y1="397.4" x2="1295.4" y2="403.3" stroke="#CCCB62" stroke-width="1.9" stroke-linecap="round" stroke-opacity="0.8"/>
<line x1="1307.7" y1="384.3" x2="1304.8" y2="388.4" stroke="#CCCB62" stroke-width="2.0" stroke-linecap="round" stroke-opacity="0.8"/>
<line x1="1296.9" y1="392.5" x2="1300.0" y2="392.6" stroke="#EDE070" stroke-width="1.3" stroke-linecap="round" stroke-opacity="0.8"/>
<line x1="1287.3" y1="378.4" x2="1288.1" y2="382.3" stroke="#F7F0B0" stroke-width="2.3" stroke-linecap="round" stroke-opacity="0.8"/>
<line x1="1280.8" y1="376.1" x2="1285.5" y2="381.0" stroke="#CCCB62" stroke-width="1.3" stroke-linecap="round" stroke-opacity="0.8"/>
<line x1="1292.1" y1="382.8" x2="1290.6" y2="388.7" stroke="#FFFFFF" stroke-width="1.6" stroke-linecap="round" stroke-opacity="0.8"/>
<line x1="1286.9" y1="392.9" x2="1284.9" y2="396.0" stroke="#E0603A" stroke-width="1.5" stroke-linecap="round" stroke-opacity="0.8"/>
<line x1="1300.1" y1="380.9" x2="1299.4" y2="387.5" stroke="#F7F0B0" stroke-width="2.1" stroke-linecap="round" stroke-opacity="0.8"/>
<line x1="1291.0" y1="385.9" x2="1293.5" y2="388.7" stroke="#EDE070" stroke-width="2.1" stroke-linecap="round" stroke-opacity="0.8"/>
<line x1="1291.6" y1="370.6" x2="1291.3" y2="374.1" stroke="#E0603A" stroke-width="2.0" stroke-linecap="round" stroke-opacity="0.8"/>
<line x1="1287.2" y1="388.3" x2="1291.5" y2="389.4" stroke="#FFFFFF" stroke-width="1.6" stroke-linecap="round" stroke-opacity="0.8"/>
<line x1="1292.5" y1="368.0" x2="1288.3" y2="372.0" stroke="#EDE070" stroke-width="2.0" stroke-linecap="round" stroke-opacity="0.8"/>
<line x1="1307.0" y1="377.6" x2="1305.6" y2="381.1" stroke="#F7F0B0" stroke-width="1.8" stroke-linecap="round" stroke-opacity="0.8"/>
<line x1="1308.3" y1="386.5" x2="1310.3" y2="389.9" stroke="#FFFFFF" stroke-width="2.2" stroke-linecap="round" stroke-opacity="0.8"/>
<line x1="1308.9" y1="381.4" x2="1305.3" y2="386.7" stroke="#EDE070" stroke-width="1.6" stroke-linecap="round" stroke-opacity="0.8"/>
<line x1="1287.0" y1="381.4" x2="1292.0" y2="384.3" stroke="#CCCB62" stroke-width="1.8" stroke-linecap="round" stroke-opacity="0.8"/>
<line x1="1285.3" y1="372.2" x2="1281.5" y2="375.2" stroke="#EDE070" stroke-width="1.3" stroke-linecap="round" stroke-opacity="0.8"/>
<line x1="1297.0" y1="369.7" x2="1298.9" y2="375.5" stroke="#D9472F" stroke-width="2.0" stroke-linecap="round" stroke-opacity="0.8"/>
<line x1="1285.7" y1="366.8" x2="1288.6" y2="371.2" stroke="#EFA040" stroke-width="2.1" stroke-linecap="round" stroke-opacity="0.8"/>
<line x1="1310.8" y1="383.3" x2="1313.3" y2="387.0" stroke="#CCCB62" stroke-width="1.4" stroke-linecap="round" stroke-opacity="0.8"/>
<line x1="1297.8" y1="393.7" x2="1298.9" y2="398.6" stroke="#EDE070" stroke-width="1.7" stroke-linecap="round" stroke-opacity="0.8"/>
<line x1="1286.5" y1="390.1" x2="1282.3" y2="391.9" stroke="#EDE070" stroke-width="2.2" stroke-linecap="round" stroke-opacity="0.8"/>
<line x1="1294.3" y1="387.7" x2="1292.8" y2="390.5" stroke="#E8803A" stroke-width="2.1" stroke-linecap="round" stroke-opacity="0.8"/>
<line x1="1287.3" y1="389.4" x2="1288.5" y2="393.3" stroke="#E8803A" stroke-width="1.7" stroke-linecap="round" stroke-opacity="0.8"/>
<line x1="1289.3" y1="389.6" x2="1286.4" y2="391.9" stroke="#F29C5A" stroke-width="2.1" stroke-linecap="round" stroke-opacity="0.8"/>
<line x1="1304.9" y1="388.4" x2="1302.1" y2="390.0" stroke="#CCCB62" stroke-width="2.2" stroke-linecap="round" stroke-opacity="0.8"/>
<line x1="1303.5" y1="372.0" x2="1298.5" y2="376.4" stroke="#D9472F" stroke-width="2.2" stroke-linecap="round" stroke-opacity="0.8"/>
<line x1="1286.8" y1="398.3" x2="1293.3" y2="398.8" stroke="#D9472F" stroke-width="1.6" stroke-linecap="round" stroke-opacity="0.8"/>
<line x1="1305.3" y1="383.1" x2="1302.2" y2="385.2" stroke="#F7F0B0" stroke-width="2.2" stroke-linecap="round" stroke-opacity="0.8"/>
<line x1="1313.1" y1="378.7" x2="1311.0" y2="384.8" stroke="#EFA040" stroke-width="1.4" stroke-linecap="round" stroke-opacity="0.8"/>
<line x1="1289.4" y1="371.9" x2="1292.8" y2="372.0" stroke="#FFFFFF" stroke-width="1.4" stroke-linecap="round" stroke-opacity="0.8"/>
<line x1="1287.5" y1="388.8" x2="1285.5" y2="393.3" stroke="#EDE070" stroke-width="1.7" stroke-linecap="round" stroke-opacity="0.8"/>
<line x1="1282.0" y1="389.7" x2="1288.4" y2="390.1" stroke="#D9472F" stroke-width="1.5" stroke-linecap="round" stroke-opacity="0.8"/>
<line x1="1298.7" y1="370.2" x2="1295.0" y2="376.0" stroke="#F7F0B0" stroke-width="1.7" stroke-linecap="round" stroke-opacity="0.8"/>
<line x1="1286.3" y1="390.6" x2="1283.1" y2="391.5" stroke="#F29C5A" stroke-width="1.6" stroke-linecap="round" stroke-opacity="0.8"/>
<line x1="1296.1" y1="394.7" x2="1299.3" y2="394.8" stroke="#F29C5A" stroke-width="1.5" stroke-linecap="round" stroke-opacity="0.8"/>
<line x1="1309.8" y1="390.3" x2="1305.4" y2="395.4" stroke="#E0603A" stroke-width="2.0" stroke-linecap="round" stroke-opacity="0.8"/>
<line x1="1308.3" y1="369.0" x2="1304.5" y2="369.9" stroke="#E0603A" stroke-width="1.8" stroke-linecap="round" stroke-opacity="0.8"/>
<line x1="1303.0" y1="396.6" x2="1298.1" y2="399.4" stroke="#FFFFFF" stroke-width="2.1" stroke-linecap="round" stroke-opacity="0.8"/>
<line x1="1288.5" y1="392.3" x2="1281.7" y2="392.6" stroke="#EDE070" stroke-width="2.1" stroke-linecap="round" stroke-opacity="0.8"/>
<line x1="1306.1" y1="377.6" x2="1306.3" y2="381.1" stroke="#EDE070" stroke-width="1.4" stroke-linecap="round" stroke-opacity="0.8"/>
<line x1="1296.6" y1="389.3" x2="1293.3" y2="393.0" stroke="#F7F0B0" stroke-width="2.1" stroke-linecap="round" stroke-opacity="0.8"/>
<line x1="1299.6" y1="372.4" x2="1294.0" y2="374.6" stroke="#FFFFFF" stroke-width="2.1" stroke-linecap="round" stroke-opacity="0.8"/>
<line x1="1285.9" y1="394.8" x2="1288.1" y2="399.5" stroke="#E8803A" stroke-width="1.5" stroke-linecap="round" stroke-opacity="0.8"/>
<line x1="1287.4" y1="389.7" x2="1284.2" y2="395.2" stroke="#F7F0B0" stroke-width="1.7" stroke-linecap="round" stroke-opacity="0.8"/>
<line x1="1294.9" y1="391.8" x2="1294.0" y2="395.2" stroke="#F7F0B0" stroke-width="1.8" stroke-linecap="round" stroke-opacity="0.8"/>
<line x1="1290.7" y1="386.3" x2="1292.7" y2="391.2" stroke="#E0603A" stroke-width="1.6" stroke-linecap="round" stroke-opacity="0.8"/>
<line x1="1286.4" y1="394.0" x2="1284.3" y2="400.4" stroke="#EDE070" stroke-width="1.4" stroke-linecap="round" stroke-opacity="0.8"/>
<line x1="1285.3" y1="369.5" x2="1283.4" y2="374.6" stroke="#EDE070" stroke-width="2.2" stroke-linecap="round" stroke-opacity="0.8"/>
<line x1="1300.1" y1="391.0" x2="1305.6" y2="391.7" stroke="#E8803A" stroke-width="1.6" stroke-linecap="round" stroke-opacity="0.8"/>
<line x1="1279.2" y1="378.7" x2="1281.6" y2="381.1" stroke="#EFA040" stroke-width="2.1" stroke-linecap="round" stroke-opacity="0.8"/>
<line x1="1308.7" y1="380.6" x2="1313.4" y2="384.6" stroke="#F7F0B0" stroke-width="1.4" stroke-linecap="round" stroke-opacity="0.8"/>
<line x1="1294.5" y1="374.1" x2="1292.2" y2="379.1" stroke="#EDE070" stroke-width="1.9" stroke-linecap="round" stroke-opacity="0.8"/>
<line x1="1278.8" y1="384.0" x2="1279.0" y2="387.5" stroke="#FFFFFF" stroke-width="1.7" stroke-linecap="round" stroke-opacity="0.8"/>
<line x1="1287.0" y1="387.3" x2="1291.3" y2="391.4" stroke="#CCCB62" stroke-width="1.8" stroke-linecap="round" stroke-opacity="0.8"/>
<line x1="1297.1" y1="370.1" x2="1291.9" y2="372.8" stroke="#E8803A" stroke-width="1.6" stroke-linecap="round" stroke-opacity="0.8"/>
<line x1="1293.6" y1="385.3" x2="1288.4" y2="389.3" stroke="#F7F0B0" stroke-width="1.7" stroke-linecap="round" stroke-opacity="0.8"/>
<line x1="1313.2" y1="377.3" x2="1312.9" y2="383.1" stroke="#F7F0B0" stroke-width="1.9" stroke-linecap="round" stroke-opacity="0.8"/>
<line x1="1299.8" y1="393.4" x2="1302.9" y2="393.9" stroke="#CCCB62" stroke-width="1.4" stroke-linecap="round" stroke-opacity="0.8"/>
<line x1="1294.3" y1="387.0" x2="1293.3" y2="393.0" stroke="#F7F0B0" stroke-width="1.8" stroke-linecap="round" stroke-opacity="0.8"/>
<line x1="1293.0" y1="387.3" x2="1295.7" y2="389.7" stroke="#EDE070" stroke-width="2.2" stroke-linecap="round" stroke-opacity="0.8"/>
<line x1="1313.4" y1="372.6" x2="1308.5" y2="376.5" stroke="#EFA040" stroke-width="1.4" stroke-linecap="round" stroke-opacity="0.8"/>
<line x1="1298.6" y1="396.6" x2="1302.8" y2="401.1" stroke="#F7F0B0" stroke-width="1.8" stroke-linecap="round" stroke-opacity="0.8"/>
<line x1="1303.8" y1="380.1" x2="1298.7" y2="380.7" stroke="#E0603A" stroke-width="1.9" stroke-linecap="round" stroke-opacity="0.8"/>
<line x1="1298.8" y1="378.6" x2="1298.8" y2="381.7" stroke="#EDE070" stroke-width="1.7" stroke-linecap="round" stroke-opacity="0.8"/>
<line x1="1291.8" y1="383.1" x2="1292.7" y2="389.7" stroke="#CCCB62" stroke-width="2.1" stroke-linecap="round" stroke-opacity="0.8"/>
<line x1="1314.0" y1="379.7" x2="1309.4" y2="382.1" stroke="#FFFFFF" stroke-width="1.7" stroke-linecap="round" stroke-opacity="0.8"/>
<line x1="1299.5" y1="380.6" x2="1297.7" y2="383.4" stroke="#F29C5A" stroke-width="1.6" stroke-linecap="round" stroke-opacity="0.8"/>
<line x1="1294.8" y1="390.1" x2="1290.4" y2="394.5" stroke="#EDE070" stroke-width="1.8" stroke-linecap="round" stroke-opacity="0.8"/>
<line x1="1300.9" y1="369.3" x2="1296.8" y2="369.8" stroke="#CCCB62" stroke-width="2.0" stroke-linecap="round" stroke-opacity="0.8"/>
<line x1="1289.6" y1="394.9" x2="1286.5" y2="395.1" stroke="#CCCB62" stroke-width="1.4" stroke-linecap="round" stroke-opacity="0.8"/>
<line x1="1288.9" y1="378.4" x2="1293.3" y2="381.1" stroke="#EFA040" stroke-width="2.1" stroke-linecap="round" stroke-opacity="0.8"/>
<line x1="1304.5" y1="370.2" x2="1310.8" y2="370.6" stroke="#EDE070" stroke-width="1.4" stroke-linecap="round" stroke-opacity="0.8"/>
<line x1="1287.2" y1="385.0" x2="1282.1" y2="388.2" stroke="#EDE070" stroke-width="2.1" stroke-linecap="round" stroke-opacity="0.8"/>
<line x1="1294.8" y1="397.9" x2="1291.0" y2="398.5" stroke="#FFFFFF" stroke-width="2.2" stroke-linecap="round" stroke-opacity="0.8"/>
<line x1="1270.8" y1="399.0" x2="1272.1" y2="403.8" stroke="#3050D0" stroke-width="1.6" stroke-linecap="round" stroke-opacity="0.8"/>
<line x1="1265.8" y1="386.2" x2="1264.8" y2="391.6" stroke="#A6E3BE" stroke-width="1.3" stroke-linecap="round" stroke-opacity="0.8"/>
<line x1="1264.5" y1="384.3" x2="1271.1" y2="385.6" stroke="#66D69A" stroke-width="1.6" stroke-linecap="round" stroke-opacity="0.8"/>
<line x1="1287.5" y1="387.3" x2="1293.8" y2="389.1" stroke="#3FAE90" stroke-width="2.3" stroke-linecap="round" stroke-opacity="0.8"/>
<line x1="1264.0" y1="382.9" x2="1266.9" y2="386.2" stroke="#4A8ED0" stroke-width="1.3" stroke-linecap="round" stroke-opacity="0.8"/>
<line x1="1281.1" y1="404.2" x2="1277.9" y2="404.6" stroke="#FFFFFF" stroke-width="2.2" stroke-linecap="round" stroke-opacity="0.8"/>
<line x1="1271.9" y1="380.9" x2="1269.5" y2="386.9" stroke="#3FAE90" stroke-width="2.1" stroke-linecap="round" stroke-opacity="0.8"/>
<line x1="1272.5" y1="381.3" x2="1269.9" y2="385.6" stroke="#66D69A" stroke-width="1.8" stroke-linecap="round" stroke-opacity="0.8"/>
<line x1="1281.5" y1="377.0" x2="1278.2" y2="382.4" stroke="#3FAE90" stroke-width="1.9" stroke-linecap="round" stroke-opacity="0.8"/>
<line x1="1280.2" y1="403.2" x2="1286.7" y2="405.6" stroke="#A6E3BE" stroke-width="2.0" stroke-linecap="round" stroke-opacity="0.8"/>
<line x1="1281.6" y1="402.5" x2="1277.3" y2="402.6" stroke="#66D69A" stroke-width="2.0" stroke-linecap="round" stroke-opacity="0.8"/>
<line x1="1262.7" y1="391.2" x2="1268.5" y2="394.5" stroke="#FFFFFF" stroke-width="2.1" stroke-linecap="round" stroke-opacity="0.8"/>
<line x1="1270.7" y1="389.1" x2="1270.3" y2="392.6" stroke="#3050D0" stroke-width="1.5" stroke-linecap="round" stroke-opacity="0.8"/>
<line x1="1271.0" y1="404.3" x2="1271.3" y2="407.4" stroke="#66D69A" stroke-width="2.2" stroke-linecap="round" stroke-opacity="0.8"/>
<line x1="1276.6" y1="384.4" x2="1277.4" y2="390.8" stroke="#66D69A" stroke-width="2.3" stroke-linecap="round" stroke-opacity="0.8"/>
<line x1="1272.5" y1="390.6" x2="1266.3" y2="391.2" stroke="#A6E3BE" stroke-width="2.2" stroke-linecap="round" stroke-opacity="0.8"/>
<line x1="1261.4" y1="390.3" x2="1265.8" y2="395.0" stroke="#A6E3BE" stroke-width="1.4" stroke-linecap="round" stroke-opacity="0.8"/>
<line x1="1283.9" y1="398.9" x2="1280.6" y2="404.5" stroke="#A6E3BE" stroke-width="1.7" stroke-linecap="round" stroke-opacity="0.8"/>
<line x1="1294.6" y1="394.9" x2="1291.8" y2="401.2" stroke="#66D69A" stroke-width="2.1" stroke-linecap="round" stroke-opacity="0.8"/>
<line x1="1260.3" y1="389.0" x2="1266.9" y2="389.1" stroke="#4A8ED0" stroke-width="2.0" stroke-linecap="round" stroke-opacity="0.8"/>
<line x1="1284.4" y1="399.8" x2="1282.8" y2="402.8" stroke="#3FAE90" stroke-width="2.0" stroke-linecap="round" stroke-opacity="0.8"/>
<line x1="1284.9" y1="379.3" x2="1287.2" y2="382.3" stroke="#A6E3BE" stroke-width="2.1" stroke-linecap="round" stroke-opacity="0.8"/>
<line x1="1276.4" y1="392.5" x2="1283.3" y2="392.7" stroke="#FFFFFF" stroke-width="1.4" stroke-linecap="round" stroke-opacity="0.8"/>
<line x1="1294.3" y1="393.4" x2="1291.7" y2="396.5" stroke="#FFFFFF" stroke-width="1.4" stroke-linecap="round" stroke-opacity="0.8"/>
<line x1="1270.4" y1="387.1" x2="1276.3" y2="389.0" stroke="#3050D0" stroke-width="2.0" stroke-linecap="round" stroke-opacity="0.8"/>
<line x1="1287.7" y1="379.4" x2="1281.2" y2="381.2" stroke="#FFFFFF" stroke-width="2.3" stroke-linecap="round" stroke-opacity="0.8"/>
<line x1="1282.5" y1="397.2" x2="1287.0" y2="402.0" stroke="#FFFFFF" stroke-width="2.1" stroke-linecap="round" stroke-opacity="0.8"/>
<line x1="1274.2" y1="393.1" x2="1278.3" y2="395.3" stroke="#66D69A" stroke-width="1.7" stroke-linecap="round" stroke-opacity="0.8"/>
<line x1="1266.6" y1="391.9" x2="1261.8" y2="396.3" stroke="#FFFFFF" stroke-width="1.7" stroke-linecap="round" stroke-opacity="0.8"/>
<line x1="1290.5" y1="399.4" x2="1295.2" y2="402.1" stroke="#66D69A" stroke-width="2.3" stroke-linecap="round" stroke-opacity="0.8"/>
<line x1="1285.5" y1="382.9" x2="1282.8" y2="386.0" stroke="#A6E3BE" stroke-width="1.3" stroke-linecap="round" stroke-opacity="0.8"/>
<line x1="1286.3" y1="385.3" x2="1282.5" y2="388.9" stroke="#FFFFFF" stroke-width="2.3" stroke-linecap="round" stroke-opacity="0.8"/>
<line x1="1292.2" y1="385.1" x2="1290.9" y2="388.3" stroke="#FFFFFF" stroke-width="2.3" stroke-linecap="round" stroke-opacity="0.8"/>
<line x1="1288.8" y1="393.0" x2="1290.4" y2="395.9" stroke="#FFFFFF" stroke-width="1.3" stroke-linecap="round" stroke-opacity="0.8"/>
<line x1="1271.4" y1="400.5" x2="1274.3" y2="401.9" stroke="#3FAE90" stroke-width="2.2" stroke-linecap="round" stroke-opacity="0.8"/>
<line x1="1271.6" y1="375.3" x2="1276.1" y2="379.2" stroke="#66D69A" stroke-width="1.4" stroke-linecap="round" stroke-opacity="0.8"/>
<line x1="1291.5" y1="391.2" x2="1292.8" y2="394.0" stroke="#66D69A" stroke-width="2.2" stroke-linecap="round" stroke-opacity="0.8"/>
<line x1="1269.7" y1="398.5" x2="1275.0" y2="400.1" stroke="#FFFFFF" stroke-width="1.4" stroke-linecap="round" stroke-opacity="0.8"/>
<line x1="1278.1" y1="382.0" x2="1276.7" y2="385.5" stroke="#A6E3BE" stroke-width="2.0" stroke-linecap="round" stroke-opacity="0.8"/>
<line x1="1275.9" y1="397.2" x2="1272.9" y2="400.2" stroke="#66D69A" stroke-width="2.2" stroke-linecap="round" stroke-opacity="0.8"/>
<line x1="1283.8" y1="392.8" x2="1279.4" y2="396.7" stroke="#A6E3BE" stroke-width="2.0" stroke-linecap="round" stroke-opacity="0.8"/>
<line x1="1286.9" y1="390.8" x2="1281.8" y2="393.0" stroke="#FFFFFF" stroke-width="1.6" stroke-linecap="round" stroke-opacity="0.8"/>
<line x1="1287.9" y1="401.9" x2="1284.7" y2="403.1" stroke="#4A8ED0" stroke-width="1.8" stroke-linecap="round" stroke-opacity="0.8"/>
<line x1="1270.2" y1="383.2" x2="1269.8" y2="387.4" stroke="#3050D0" stroke-width="1.8" stroke-linecap="round" stroke-opacity="0.8"/>
<line x1="1270.3" y1="395.6" x2="1268.5" y2="399.9" stroke="#A6E3BE" stroke-width="1.9" stroke-linecap="round" stroke-opacity="0.8"/>
<line x1="1293.9" y1="388.3" x2="1290.2" y2="388.6" stroke="#FFFFFF" stroke-width="2.1" stroke-linecap="round" stroke-opacity="0.8"/>
<line x1="1276.3" y1="406.1" x2="1273.1" y2="408.1" stroke="#66D69A" stroke-width="2.1" stroke-linecap="round" stroke-opacity="0.8"/>
<line x1="1288.1" y1="394.2" x2="1291.7" y2="397.2" stroke="#4A8ED0" stroke-width="1.9" stroke-linecap="round" stroke-opacity="0.8"/>
<line x1="1270.4" y1="399.0" x2="1264.2" y2="401.2" stroke="#66D69A" stroke-width="2.2" stroke-linecap="round" stroke-opacity="0.8"/>
<line x1="1271.1" y1="390.8" x2="1264.4" y2="391.2" stroke="#66D69A" stroke-width="1.3" stroke-linecap="round" stroke-opacity="0.8"/>
<line x1="1280.4" y1="389.4" x2="1284.7" y2="393.8" stroke="#3FAE90" stroke-width="2.0" stroke-linecap="round" stroke-opacity="0.8"/>
<line x1="1265.5" y1="386.2" x2="1266.9" y2="392.8" stroke="#4A8ED0" stroke-width="1.4" stroke-linecap="round" stroke-opacity="0.8"/>
<line x1="1275.6" y1="388.6" x2="1270.2" y2="391.0" stroke="#4A8ED0" stroke-width="1.8" stroke-linecap="round" stroke-opacity="0.8"/>
<line x1="1273.2" y1="391.7" x2="1268.3" y2="393.0" stroke="#3FAE90" stroke-width="1.3" stroke-linecap="round" stroke-opacity="0.8"/>
<line x1="1281.2" y1="384.3" x2="1286.7" y2="384.8" stroke="#A6E3BE" stroke-width="1.7" stroke-linecap="round" stroke-opacity="0.8"/>
<line x1="1278.9" y1="382.5" x2="1282.5" y2="385.1" stroke="#66D69A" stroke-width="1.7" stroke-linecap="round" stroke-opacity="0.8"/>
<line x1="1275.6" y1="408.5" x2="1274.9" y2="412.6" stroke="#A6E3BE" stroke-width="2.0" stroke-linecap="round" stroke-opacity="0.8"/>
<line x1="1279.6" y1="400.4" x2="1279.8" y2="404.2" stroke="#66D69A" stroke-width="1.8" stroke-linecap="round" stroke-opacity="0.8"/>
<line x1="1280.6" y1="375.5" x2="1279.9" y2="381.0" stroke="#66D69A" stroke-width="1.4" stroke-linecap="round" stroke-opacity="0.8"/>
<line x1="1266.8" y1="386.7" x2="1266.8" y2="391.2" stroke="#FFFFFF" stroke-width="1.9" stroke-linecap="round" stroke-opacity="0.8"/>
<line x1="1262.8" y1="388.8" x2="1265.3" y2="390.9" stroke="#FFFFFF" stroke-width="1.6" stroke-linecap="round" stroke-opacity="0.8"/>
<line x1="1269.5" y1="393.4" x2="1272.9" y2="395.8" stroke="#FFFFFF" stroke-width="2.0" stroke-linecap="round" stroke-opacity="0.8"/>
<line x1="1266.7" y1="400.4" x2="1263.4" y2="400.7" stroke="#66D69A" stroke-width="2.2" stroke-linecap="round" stroke-opacity="0.8"/>
<line x1="1261.0" y1="392.5" x2="1264.9" y2="393.0" stroke="#3FAE90" stroke-width="1.9" stroke-linecap="round" stroke-opacity="0.8"/>
<line x1="1282.3" y1="381.0" x2="1287.7" y2="381.8" stroke="#3050D0" stroke-width="1.6" stroke-linecap="round" stroke-opacity="0.8"/>
<line x1="1277.2" y1="390.2" x2="1275.1" y2="395.2" stroke="#3FAE90" stroke-width="2.1" stroke-linecap="round" stroke-opacity="0.8"/>
<line x1="1272.1" y1="387.0" x2="1271.2" y2="391.4" stroke="#A6E3BE" stroke-width="2.1" stroke-linecap="round" stroke-opacity="0.8"/>
<line x1="1284.8" y1="391.7" x2="1281.4" y2="394.7" stroke="#A6E3BE" stroke-width="2.2" stroke-linecap="round" stroke-opacity="0.8"/>
<line x1="1282.0" y1="408.9" x2="1278.6" y2="412.1" stroke="#3050D0" stroke-width="2.0" stroke-linecap="round" stroke-opacity="0.8"/>
<line x1="1287.2" y1="398.2" x2="1282.1" y2="402.5" stroke="#66D69A" stroke-width="2.1" stroke-linecap="round" stroke-opacity="0.8"/>
<line x1="1266.8" y1="381.2" x2="1264.5" y2="383.5" stroke="#66D69A" stroke-width="1.4" stroke-linecap="round" stroke-opacity="0.8"/>
<line x1="1278.6" y1="398.1" x2="1281.2" y2="402.0" stroke="#3050D0" stroke-width="2.2" stroke-linecap="round" stroke-opacity="0.8"/>
<line x1="1271.7" y1="377.1" x2="1272.0" y2="381.2" stroke="#66D69A" stroke-width="2.0" stroke-linecap="round" stroke-opacity="0.8"/>
<line x1="1273.0" y1="385.9" x2="1269.3" y2="386.5" stroke="#FFFFFF" stroke-width="1.7" stroke-linecap="round" stroke-opacity="0.8"/>
<line x1="1276.8" y1="386.3" x2="1271.7" y2="388.1" stroke="#A6E3BE" stroke-width="1.6" stroke-linecap="round" stroke-opacity="0.8"/>
<ellipse cx="1285.0" cy="389.8" rx="3.2" ry="1.8" fill="#2A35CC" transform="rotate(-25 1285.0 389.8)"/>
</g>
<g filter="url(#pblur)">
<ellipse cx="1379.8" cy="410.7" rx="19.2" ry="16.5" fill="#FFFFFF" fill-opacity="0.6"/>
<ellipse cx="1364.0" cy="388.5" rx="19.2" ry="16.5" fill="#FFFFFF" fill-opacity="0.6"/>
<line x1="1365.9" y1="401.5" x2="1360.1" y2="403.6" stroke="#E8803A" stroke-width="2.0" stroke-linecap="round" stroke-opacity="0.8"/>
<line x1="1351.7" y1="373.6" x2="1357.2" y2="376.0" stroke="#E8803A" stroke-width="1.8" stroke-linecap="round" stroke-opacity="0.8"/>
<line x1="1367.4" y1="396.1" x2="1365.5" y2="399.0" stroke="#FFFFFF" stroke-width="2.3" stroke-linecap="round" stroke-opacity="0.8"/>
<line x1="1385.3" y1="386.0" x2="1379.9" y2="389.7" stroke="#F7F0B0" stroke-width="2.1" stroke-linecap="round" stroke-opacity="0.8"/>
<line x1="1370.0" y1="373.2" x2="1374.2" y2="377.7" stroke="#F7F0B0" stroke-width="2.1" stroke-linecap="round" stroke-opacity="0.8"/>
<line x1="1348.1" y1="386.8" x2="1344.6" y2="392.7" stroke="#E0603A" stroke-width="2.2" stroke-linecap="round" stroke-opacity="0.8"/>
<line x1="1355.9" y1="376.1" x2="1350.8" y2="379.8" stroke="#EDE070" stroke-width="2.3" stroke-linecap="round" stroke-opacity="0.8"/>
<line x1="1357.8" y1="373.3" x2="1359.1" y2="380.1" stroke="#D9472F" stroke-width="2.0" stroke-linecap="round" stroke-opacity="0.8"/>
<line x1="1351.4" y1="384.6" x2="1355.0" y2="388.3" stroke="#F7F0B0" stroke-width="1.8" stroke-linecap="round" stroke-opacity="0.8"/>
<line x1="1354.3" y1="379.3" x2="1353.5" y2="384.5" stroke="#F7F0B0" stroke-width="1.9" stroke-linecap="round" stroke-opacity="0.8"/>
<line x1="1377.6" y1="377.7" x2="1376.1" y2="380.7" stroke="#F7F0B0" stroke-width="2.3" stroke-linecap="round" stroke-opacity="0.8"/>
<line x1="1348.2" y1="395.6" x2="1353.2" y2="399.8" stroke="#CCCB62" stroke-width="1.8" stroke-linecap="round" stroke-opacity="0.8"/>
<line x1="1359.1" y1="376.0" x2="1360.1" y2="379.5" stroke="#EDE070" stroke-width="2.2" stroke-linecap="round" stroke-opacity="0.8"/>
<line x1="1378.9" y1="375.8" x2="1376.6" y2="381.2" stroke="#EDE070" stroke-width="1.8" stroke-linecap="round" stroke-opacity="0.8"/>
<line x1="1355.0" y1="373.0" x2="1351.6" y2="377.1" stroke="#D9472F" stroke-width="1.5" stroke-linecap="round" stroke-opacity="0.8"/>
<line x1="1352.9" y1="378.3" x2="1352.1" y2="381.3" stroke="#E0603A" stroke-width="1.9" stroke-linecap="round" stroke-opacity="0.8"/>
<line x1="1365.0" y1="394.3" x2="1370.4" y2="396.3" stroke="#F29C5A" stroke-width="1.5" stroke-linecap="round" stroke-opacity="0.8"/>
<line x1="1380.6" y1="391.7" x2="1377.0" y2="396.8" stroke="#EFA040" stroke-width="2.3" stroke-linecap="round" stroke-opacity="0.8"/>
<line x1="1372.9" y1="376.3" x2="1369.9" y2="376.3" stroke="#EFA040" stroke-width="1.4" stroke-linecap="round" stroke-opacity="0.8"/>
<line x1="1363.5" y1="396.3" x2="1357.8" y2="397.4" stroke="#E0603A" stroke-width="1.8" stroke-linecap="round" stroke-opacity="0.8"/>
<line x1="1366.3" y1="383.8" x2="1366.3" y2="388.1" stroke="#EDE070" stroke-width="2.3" stroke-linecap="round" stroke-opacity="0.8"/>
<line x1="1351.6" y1="386.2" x2="1348.5" y2="388.4" stroke="#E8803A" stroke-width="1.7" stroke-linecap="round" stroke-opacity="0.8"/>
<line x1="1363.3" y1="380.2" x2="1361.1" y2="383.6" stroke="#F7F0B0" stroke-width="2.1" stroke-linecap="round" stroke-opacity="0.8"/>
<line x1="1364.0" y1="398.6" x2="1362.3" y2="404.5" stroke="#EDE070" stroke-width="1.7" stroke-linecap="round" stroke-opacity="0.8"/>
<line x1="1353.3" y1="379.3" x2="1357.8" y2="380.5" stroke="#EDE070" stroke-width="2.1" stroke-linecap="round" stroke-opacity="0.8"/>
<line x1="1362.6" y1="385.8" x2="1363.3" y2="390.0" stroke="#F29C5A" stroke-width="2.3" stroke-linecap="round" stroke-opacity="0.8"/>
<line x1="1357.9" y1="390.2" x2="1362.3" y2="392.2" stroke="#EFA040" stroke-width="2.2" stroke-linecap="round" stroke-opacity="0.8"/>
<line x1="1378.8" y1="396.5" x2="1377.4" y2="400.5" stroke="#EDE070" stroke-width="1.6" stroke-linecap="round" stroke-opacity="0.8"/>
<line x1="1362.5" y1="392.0" x2="1358.1" y2="393.8" stroke="#FFFFFF" stroke-width="2.3" stroke-linecap="round" stroke-opacity="0.8"/>
<line x1="1374.9" y1="391.4" x2="1381.7" y2="392.4" stroke="#F7F0B0" stroke-width="1.5" stroke-linecap="round" stroke-opacity="0.8"/>
<line x1="1376.2" y1="377.9" x2="1378.4" y2="380.0" stroke="#CCCB62" stroke-width="2.2" stroke-linecap="round" stroke-opacity="0.8"/>
<line x1="1371.2" y1="396.8" x2="1373.4" y2="399.2" stroke="#EDE070" stroke-width="2.1" stroke-linecap="round" stroke-opacity="0.8"/>
<line x1="1373.7" y1="387.6" x2="1373.3" y2="394.3" stroke="#CCCB62" stroke-width="2.2" stroke-linecap="round" stroke-opacity="0.8"/>
<line x1="1349.9" y1="391.6" x2="1349.4" y2="394.8" stroke="#E0603A" stroke-width="1.4" stroke-linecap="round" stroke-opacity="0.8"/>
<line x1="1349.3" y1="374.6" x2="1348.7" y2="380.8" stroke="#F29C5A" stroke-width="1.6" stroke-linecap="round" stroke-opacity="0.8"/>
<line x1="1377.0" y1="385.8" x2="1372.6" y2="386.8" stroke="#F7F0B0" stroke-width="1.5" stroke-linecap="round" stroke-opacity="0.8"/>
<line x1="1381.9" y1="389.7" x2="1375.4" y2="389.7" stroke="#EDE070" stroke-width="2.1" stroke-linecap="round" stroke-opacity="0.8"/>
<line x1="1351.4" y1="392.4" x2="1348.0" y2="397.0" stroke="#CCCB62" stroke-width="2.2" stroke-linecap="round" stroke-opacity="0.8"/>
<line x1="1369.7" y1="386.4" x2="1370.4" y2="393.3" stroke="#FFFFFF" stroke-width="1.6" stroke-linecap="round" stroke-opacity="0.8"/>
<line x1="1367.2" y1="374.8" x2="1366.7" y2="379.9" stroke="#F7F0B0" stroke-width="1.6" stroke-linecap="round" stroke-opacity="0.8"/>
<line x1="1365.7" y1="402.1" x2="1368.3" y2="408.4" stroke="#CCCB62" stroke-width="1.5" stroke-linecap="round" stroke-opacity="0.8"/>
<line x1="1373.1" y1="373.4" x2="1373.6" y2="377.5" stroke="#FFFFFF" stroke-width="2.2" stroke-linecap="round" stroke-opacity="0.8"/>
<line x1="1357.8" y1="385.3" x2="1352.7" y2="388.3" stroke="#FFFFFF" stroke-width="1.3" stroke-linecap="round" stroke-opacity="0.8"/>
<line x1="1374.0" y1="381.3" x2="1377.5" y2="382.5" stroke="#EFA040" stroke-width="1.9" stroke-linecap="round" stroke-opacity="0.8"/>
<line x1="1358.9" y1="401.5" x2="1355.5" y2="405.5" stroke="#FFFFFF" stroke-width="1.4" stroke-linecap="round" stroke-opacity="0.8"/>
<line x1="1360.9" y1="372.6" x2="1356.3" y2="373.2" stroke="#D9472F" stroke-width="1.3" stroke-linecap="round" stroke-opacity="0.8"/>
<line x1="1370.2" y1="381.2" x2="1367.7" y2="386.0" stroke="#CCCB62" stroke-width="2.0" stroke-linecap="round" stroke-opacity="0.8"/>
<line x1="1348.9" y1="392.6" x2="1347.3" y2="397.3" stroke="#EDE070" stroke-width="1.5" stroke-linecap="round" stroke-opacity="0.8"/>
<line x1="1365.2" y1="387.3" x2="1358.9" y2="389.1" stroke="#FFFFFF" stroke-width="2.0" stroke-linecap="round" stroke-opacity="0.8"/>
<line x1="1352.6" y1="378.8" x2="1352.4" y2="382.7" stroke="#FFFFFF" stroke-width="1.3" stroke-linecap="round" stroke-opacity="0.8"/>
<line x1="1361.3" y1="391.7" x2="1355.9" y2="394.9" stroke="#FFFFFF" stroke-width="2.0" stroke-linecap="round" stroke-opacity="0.8"/>
<line x1="1362.0" y1="373.5" x2="1359.9" y2="376.2" stroke="#E0603A" stroke-width="1.4" stroke-linecap="round" stroke-opacity="0.8"/>
<line x1="1367.8" y1="390.9" x2="1365.9" y2="396.1" stroke="#EFA040" stroke-width="1.8" stroke-linecap="round" stroke-opacity="0.8"/>
<line x1="1367.6" y1="370.2" x2="1366.4" y2="375.4" stroke="#FFFFFF" stroke-width="2.1" stroke-linecap="round" stroke-opacity="0.8"/>
<line x1="1361.1" y1="387.8" x2="1356.3" y2="388.5" stroke="#CCCB62" stroke-width="1.6" stroke-linecap="round" stroke-opacity="0.8"/>
<line x1="1355.4" y1="372.1" x2="1354.3" y2="376.2" stroke="#E8803A" stroke-width="2.1" stroke-linecap="round" stroke-opacity="0.8"/>
<line x1="1377.2" y1="384.5" x2="1371.1" y2="384.8" stroke="#CCCB62" stroke-width="1.7" stroke-linecap="round" stroke-opacity="0.8"/>
<line x1="1349.9" y1="394.2" x2="1352.2" y2="396.5" stroke="#D9472F" stroke-width="1.3" stroke-linecap="round" stroke-opacity="0.8"/>
<line x1="1341.4" y1="383.0" x2="1346.9" y2="387.2" stroke="#CCCB62" stroke-width="2.2" stroke-linecap="round" stroke-opacity="0.8"/>
<line x1="1359.9" y1="395.3" x2="1363.0" y2="396.5" stroke="#CCCB62" stroke-width="1.4" stroke-linecap="round" stroke-opacity="0.8"/>
<line x1="1377.7" y1="392.8" x2="1373.4" y2="392.9" stroke="#EDE070" stroke-width="1.5" stroke-linecap="round" stroke-opacity="0.8"/>
<line x1="1368.3" y1="391.3" x2="1363.4" y2="393.1" stroke="#FFFFFF" stroke-width="2.0" stroke-linecap="round" stroke-opacity="0.8"/>
<line x1="1359.7" y1="372.3" x2="1359.5" y2="377.2" stroke="#F29C5A" stroke-width="1.4" stroke-linecap="round" stroke-opacity="0.8"/>
<line x1="1363.3" y1="390.1" x2="1359.3" y2="393.3" stroke="#CCCB62" stroke-width="1.5" stroke-linecap="round" stroke-opacity="0.8"/>
<line x1="1358.9" y1="376.3" x2="1361.8" y2="379.3" stroke="#FFFFFF" stroke-width="2.1" stroke-linecap="round" stroke-opacity="0.8"/>
<line x1="1362.4" y1="376.2" x2="1359.8" y2="379.4" stroke="#EDE070" stroke-width="1.4" stroke-linecap="round" stroke-opacity="0.8"/>
<line x1="1360.5" y1="381.7" x2="1358.0" y2="384.2" stroke="#CCCB62" stroke-width="1.4" stroke-linecap="round" stroke-opacity="0.8"/>
<line x1="1379.8" y1="386.6" x2="1380.4" y2="389.9" stroke="#F7F0B0" stroke-width="1.4" stroke-linecap="round" stroke-opacity="0.8"/>
<line x1="1359.5" y1="374.4" x2="1359.7" y2="377.9" stroke="#FFFFFF" stroke-width="1.8" stroke-linecap="round" stroke-opacity="0.8"/>
<line x1="1364.7" y1="382.6" x2="1371.0" y2="384.4" stroke="#D9472F" stroke-width="1.4" stroke-linecap="round" stroke-opacity="0.8"/>
<line x1="1370.9" y1="373.4" x2="1368.0" y2="374.2" stroke="#FFFFFF" stroke-width="2.0" stroke-linecap="round" stroke-opacity="0.8"/>
<line x1="1360.6" y1="383.3" x2="1357.1" y2="384.3" stroke="#EDE070" stroke-width="1.3" stroke-linecap="round" stroke-opacity="0.8"/>
<line x1="1350.8" y1="398.9" x2="1354.2" y2="400.6" stroke="#D9472F" stroke-width="1.5" stroke-linecap="round" stroke-opacity="0.8"/>
<line x1="1371.4" y1="395.3" x2="1369.5" y2="401.2" stroke="#F7F0B0" stroke-width="2.1" stroke-linecap="round" stroke-opacity="0.8"/>
<line x1="1350.7" y1="388.9" x2="1347.1" y2="389.4" stroke="#CCCB62" stroke-width="2.1" stroke-linecap="round" stroke-opacity="0.8"/>
<line x1="1352.3" y1="393.0" x2="1355.2" y2="396.7" stroke="#CCCB62" stroke-width="1.9" stroke-linecap="round" stroke-opacity="0.8"/>
<line x1="1345.9" y1="397.1" x2="1351.8" y2="398.0" stroke="#E0603A" stroke-width="1.8" stroke-linecap="round" stroke-opacity="0.8"/>
<line x1="1381.0" y1="395.9" x2="1377.0" y2="400.1" stroke="#EFA040" stroke-width="2.2" stroke-linecap="round" stroke-opacity="0.8"/>
<line x1="1351.3" y1="383.9" x2="1348.2" y2="384.1" stroke="#EDE070" stroke-width="1.3" stroke-linecap="round" stroke-opacity="0.8"/>
<line x1="1363.6" y1="397.9" x2="1360.6" y2="401.1" stroke="#F29C5A" stroke-width="1.8" stroke-linecap="round" stroke-opacity="0.8"/>
<line x1="1370.1" y1="381.6" x2="1367.3" y2="384.3" stroke="#F29C5A" stroke-width="1.7" stroke-linecap="round" stroke-opacity="0.8"/>
<line x1="1357.2" y1="390.7" x2="1356.0" y2="396.5" stroke="#E8803A" stroke-width="1.7" stroke-linecap="round" stroke-opacity="0.8"/>
<line x1="1381.9" y1="389.8" x2="1379.1" y2="394.1" stroke="#FFFFFF" stroke-width="1.7" stroke-linecap="round" stroke-opacity="0.8"/>
<line x1="1373.2" y1="381.5" x2="1379.8" y2="383.3" stroke="#CCCB62" stroke-width="2.3" stroke-linecap="round" stroke-opacity="0.8"/>
<line x1="1353.8" y1="380.5" x2="1350.9" y2="384.7" stroke="#CCCB62" stroke-width="1.3" stroke-linecap="round" stroke-opacity="0.8"/>
<line x1="1358.7" y1="376.3" x2="1362.4" y2="377.7" stroke="#F7F0B0" stroke-width="1.7" stroke-linecap="round" stroke-opacity="0.8"/>
<line x1="1380.8" y1="379.8" x2="1382.1" y2="384.6" stroke="#FFFFFF" stroke-width="1.3" stroke-linecap="round" stroke-opacity="0.8"/>
<line x1="1357.8" y1="402.0" x2="1364.0" y2="405.1" stroke="#EFA040" stroke-width="2.1" stroke-linecap="round" stroke-opacity="0.8"/>
<line x1="1362.1" y1="385.5" x2="1364.9" y2="387.1" stroke="#E0603A" stroke-width="1.8" stroke-linecap="round" stroke-opacity="0.8"/>
<line x1="1369.0" y1="402.5" x2="1372.9" y2="406.4" stroke="#F7F0B0" stroke-width="1.8" stroke-linecap="round" stroke-opacity="0.8"/>
<line x1="1378.2" y1="396.3" x2="1375.5" y2="400.0" stroke="#F7F0B0" stroke-width="1.5" stroke-linecap="round" stroke-opacity="0.8"/>
<line x1="1380.7" y1="379.0" x2="1377.2" y2="383.2" stroke="#FFFFFF" stroke-width="2.2" stroke-linecap="round" stroke-opacity="0.8"/>
<line x1="1355.8" y1="371.0" x2="1354.3" y2="375.5" stroke="#F7F0B0" stroke-width="2.1" stroke-linecap="round" stroke-opacity="0.8"/>
<line x1="1379.8" y1="376.4" x2="1375.8" y2="379.6" stroke="#E0603A" stroke-width="2.0" stroke-linecap="round" stroke-opacity="0.8"/>
<line x1="1360.8" y1="385.1" x2="1356.9" y2="387.8" stroke="#D9472F" stroke-width="1.7" stroke-linecap="round" stroke-opacity="0.8"/>
<line x1="1366.1" y1="416.8" x2="1362.7" y2="420.1" stroke="#3FAE90" stroke-width="1.4" stroke-linecap="round" stroke-opacity="0.8"/>
<line x1="1368.0" y1="411.9" x2="1373.2" y2="415.3" stroke="#4A8ED0" stroke-width="1.3" stroke-linecap="round" stroke-opacity="0.8"/>
<line x1="1382.6" y1="392.1" x2="1382.1" y2="396.2" stroke="#A6E3BE" stroke-width="2.1" stroke-linecap="round" stroke-opacity="0.8"/>
<line x1="1378.6" y1="409.0" x2="1380.3" y2="412.0" stroke="#3050D0" stroke-width="2.3" stroke-linecap="round" stroke-opacity="0.8"/>
<line x1="1394.3" y1="411.3" x2="1391.0" y2="412.6" stroke="#66D69A" stroke-width="1.7" stroke-linecap="round" stroke-opacity="0.8"/>
<line x1="1393.9" y1="416.7" x2="1400.5" y2="418.5" stroke="#66D69A" stroke-width="2.1" stroke-linecap="round" stroke-opacity="0.8"/>
<line x1="1383.0" y1="391.5" x2="1381.9" y2="396.3" stroke="#3050D0" stroke-width="1.9" stroke-linecap="round" stroke-opacity="0.8"/>
<line x1="1392.8" y1="407.8" x2="1396.0" y2="413.7" stroke="#66D69A" stroke-width="2.0" stroke-linecap="round" stroke-opacity="0.8"/>
<line x1="1372.0" y1="422.7" x2="1366.1" y2="425.2" stroke="#FFFFFF" stroke-width="1.9" stroke-linecap="round" stroke-opacity="0.8"/>
<line x1="1386.9" y1="406.9" x2="1388.1" y2="410.3" stroke="#3050D0" stroke-width="1.6" stroke-linecap="round" stroke-opacity="0.8"/>
<line x1="1360.4" y1="409.7" x2="1364.2" y2="412.4" stroke="#4A8ED0" stroke-width="1.5" stroke-linecap="round" stroke-opacity="0.8"/>
<line x1="1368.4" y1="404.1" x2="1368.9" y2="407.4" stroke="#66D69A" stroke-width="1.5" stroke-linecap="round" stroke-opacity="0.8"/>
<line x1="1384.8" y1="409.3" x2="1383.7" y2="412.4" stroke="#A6E3BE" stroke-width="1.5" stroke-linecap="round" stroke-opacity="0.8"/>
<line x1="1390.1" y1="418.2" x2="1392.6" y2="421.7" stroke="#4A8ED0" stroke-width="1.8" stroke-linecap="round" stroke-opacity="0.8"/>
<line x1="1373.2" y1="398.5" x2="1368.9" y2="403.0" stroke="#66D69A" stroke-width="2.0" stroke-linecap="round" stroke-opacity="0.8"/>
<line x1="1361.5" y1="414.9" x2="1362.9" y2="420.4" stroke="#66D69A" stroke-width="1.7" stroke-linecap="round" stroke-opacity="0.8"/>
<line x1="1384.7" y1="417.8" x2="1387.3" y2="421.4" stroke="#4A8ED0" stroke-width="2.0" stroke-linecap="round" stroke-opacity="0.8"/>
<line x1="1373.3" y1="410.4" x2="1380.2" y2="411.6" stroke="#FFFFFF" stroke-width="1.5" stroke-linecap="round" stroke-opacity="0.8"/>
<line x1="1369.2" y1="420.4" x2="1366.6" y2="426.3" stroke="#FFFFFF" stroke-width="1.3" stroke-linecap="round" stroke-opacity="0.8"/>
<line x1="1375.8" y1="402.6" x2="1382.5" y2="404.0" stroke="#3FAE90" stroke-width="2.0" stroke-linecap="round" stroke-opacity="0.8"/>
<line x1="1378.7" y1="414.3" x2="1381.6" y2="418.1" stroke="#FFFFFF" stroke-width="1.9" stroke-linecap="round" stroke-opacity="0.8"/>
<line x1="1391.6" y1="413.2" x2="1392.4" y2="417.0" stroke="#4A8ED0" stroke-width="1.8" stroke-linecap="round" stroke-opacity="0.8"/>
<line x1="1378.1" y1="414.0" x2="1381.8" y2="416.2" stroke="#66D69A" stroke-width="1.4" stroke-linecap="round" stroke-opacity="0.8"/>
<line x1="1371.2" y1="399.5" x2="1374.1" y2="404.1" stroke="#3FAE90" stroke-width="1.4" stroke-linecap="round" stroke-opacity="0.8"/>
<line x1="1371.5" y1="419.8" x2="1375.9" y2="420.9" stroke="#FFFFFF" stroke-width="1.9" stroke-linecap="round" stroke-opacity="0.8"/>
<line x1="1367.0" y1="409.7" x2="1371.8" y2="410.8" stroke="#FFFFFF" stroke-width="1.4" stroke-linecap="round" stroke-opacity="0.8"/>
<line x1="1385.6" y1="400.9" x2="1387.1" y2="403.5" stroke="#3050D0" stroke-width="1.7" stroke-linecap="round" stroke-opacity="0.8"/>
<line x1="1389.7" y1="399.7" x2="1396.1" y2="402.0" stroke="#FFFFFF" stroke-width="1.5" stroke-linecap="round" stroke-opacity="0.8"/>
<line x1="1392.9" y1="400.3" x2="1399.0" y2="402.4" stroke="#4A8ED0" stroke-width="2.0" stroke-linecap="round" stroke-opacity="0.8"/>
<line x1="1394.3" y1="419.8" x2="1392.0" y2="423.7" stroke="#FFFFFF" stroke-width="2.2" stroke-linecap="round" stroke-opacity="0.8"/>
<line x1="1374.9" y1="411.0" x2="1375.8" y2="415.7" stroke="#3FAE90" stroke-width="1.7" stroke-linecap="round" stroke-opacity="0.8"/>
<line x1="1382.5" y1="416.0" x2="1385.1" y2="422.3" stroke="#3FAE90" stroke-width="1.6" stroke-linecap="round" stroke-opacity="0.8"/>
<line x1="1366.9" y1="423.8" x2="1373.1" y2="424.6" stroke="#3FAE90" stroke-width="2.2" stroke-linecap="round" stroke-opacity="0.8"/>
<line x1="1384.0" y1="393.0" x2="1377.9" y2="395.0" stroke="#4A8ED0" stroke-width="2.2" stroke-linecap="round" stroke-opacity="0.8"/>
<line x1="1388.2" y1="401.2" x2="1387.4" y2="404.5" stroke="#A6E3BE" stroke-width="1.8" stroke-linecap="round" stroke-opacity="0.8"/>
<line x1="1375.4" y1="419.2" x2="1368.6" y2="419.9" stroke="#66D69A" stroke-width="2.3" stroke-linecap="round" stroke-opacity="0.8"/>
<line x1="1384.4" y1="394.1" x2="1385.2" y2="397.1" stroke="#66D69A" stroke-width="1.5" stroke-linecap="round" stroke-opacity="0.8"/>
<line x1="1383.2" y1="422.0" x2="1386.7" y2="427.9" stroke="#66D69A" stroke-width="1.8" stroke-linecap="round" stroke-opacity="0.8"/>
<line x1="1377.1" y1="411.9" x2="1372.1" y2="413.5" stroke="#FFFFFF" stroke-width="2.1" stroke-linecap="round" stroke-opacity="0.8"/>
<line x1="1399.1" y1="413.0" x2="1397.7" y2="419.4" stroke="#66D69A" stroke-width="1.6" stroke-linecap="round" stroke-opacity="0.8"/>
<line x1="1389.8" y1="403.8" x2="1393.1" y2="404.2" stroke="#3050D0" stroke-width="1.6" stroke-linecap="round" stroke-opacity="0.8"/>
<line x1="1377.2" y1="403.8" x2="1371.8" y2="406.8" stroke="#A6E3BE" stroke-width="1.9" stroke-linecap="round" stroke-opacity="0.8"/>
<line x1="1392.8" y1="400.5" x2="1387.5" y2="403.1" stroke="#FFFFFF" stroke-width="1.7" stroke-linecap="round" stroke-opacity="0.8"/>
<line x1="1371.4" y1="421.8" x2="1374.0" y2="423.9" stroke="#66D69A" stroke-width="1.7" stroke-linecap="round" stroke-opacity="0.8"/>
<line x1="1387.1" y1="393.9" x2="1385.6" y2="398.0" stroke="#3FAE90" stroke-width="1.5" stroke-linecap="round" stroke-opacity="0.8"/>
<line x1="1364.5" y1="403.3" x2="1360.2" y2="404.9" stroke="#A6E3BE" stroke-width="1.9" stroke-linecap="round" stroke-opacity="0.8"/>
<line x1="1400.1" y1="410.7" x2="1393.8" y2="412.4" stroke="#3FAE90" stroke-width="1.4" stroke-linecap="round" stroke-opacity="0.8"/>
<line x1="1367.9" y1="413.9" x2="1364.9" y2="419.0" stroke="#3FAE90" stroke-width="2.0" stroke-linecap="round" stroke-opacity="0.8"/>
<line x1="1394.3" y1="415.5" x2="1389.5" y2="416.0" stroke="#66D69A" stroke-width="1.3" stroke-linecap="round" stroke-opacity="0.8"/>
<line x1="1393.4" y1="418.8" x2="1396.4" y2="422.8" stroke="#66D69A" stroke-width="1.6" stroke-linecap="round" stroke-opacity="0.8"/>
<line x1="1377.6" y1="394.4" x2="1378.8" y2="401.2" stroke="#A6E3BE" stroke-width="1.6" stroke-linecap="round" stroke-opacity="0.8"/>
<line x1="1382.2" y1="412.4" x2="1378.3" y2="415.5" stroke="#66D69A" stroke-width="2.2" stroke-linecap="round" stroke-opacity="0.8"/>
<line x1="1373.7" y1="409.5" x2="1370.7" y2="410.2" stroke="#66D69A" stroke-width="1.8" stroke-linecap="round" stroke-opacity="0.8"/>
<line x1="1391.1" y1="410.3" x2="1389.4" y2="414.1" stroke="#66D69A" stroke-width="1.9" stroke-linecap="round" stroke-opacity="0.8"/>
<line x1="1373.0" y1="415.2" x2="1375.1" y2="418.5" stroke="#A6E3BE" stroke-width="1.7" stroke-linecap="round" stroke-opacity="0.8"/>
<line x1="1386.7" y1="405.7" x2="1383.0" y2="406.6" stroke="#A6E3BE" stroke-width="1.9" stroke-linecap="round" stroke-opacity="0.8"/>
<line x1="1391.7" y1="407.3" x2="1394.8" y2="407.8" stroke="#3FAE90" stroke-width="2.0" stroke-linecap="round" stroke-opacity="0.8"/>
<line x1="1390.0" y1="413.0" x2="1388.5" y2="416.1" stroke="#A6E3BE" stroke-width="2.0" stroke-linecap="round" stroke-opacity="0.8"/>
<line x1="1389.8" y1="406.1" x2="1388.9" y2="409.1" stroke="#3050D0" stroke-width="1.6" stroke-linecap="round" stroke-opacity="0.8"/>
<line x1="1370.9" y1="407.9" x2="1371.9" y2="411.8" stroke="#FFFFFF" stroke-width="1.8" stroke-linecap="round" stroke-opacity="0.8"/>
<line x1="1382.4" y1="412.5" x2="1382.2" y2="416.4" stroke="#A6E3BE" stroke-width="1.7" stroke-linecap="round" stroke-opacity="0.8"/>
<line x1="1390.6" y1="399.5" x2="1386.3" y2="399.5" stroke="#66D69A" stroke-width="1.6" stroke-linecap="round" stroke-opacity="0.8"/>
<line x1="1391.6" y1="415.5" x2="1392.5" y2="421.2" stroke="#3050D0" stroke-width="1.6" stroke-linecap="round" stroke-opacity="0.8"/>
<line x1="1381.0" y1="408.6" x2="1377.3" y2="412.4" stroke="#66D69A" stroke-width="1.8" stroke-linecap="round" stroke-opacity="0.8"/>
<line x1="1372.9" y1="412.8" x2="1371.0" y2="419.5" stroke="#66D69A" stroke-width="2.0" stroke-linecap="round" stroke-opacity="0.8"/>
<line x1="1377.3" y1="415.4" x2="1375.0" y2="418.0" stroke="#66D69A" stroke-width="1.8" stroke-linecap="round" stroke-opacity="0.8"/>
<line x1="1383.5" y1="414.3" x2="1382.7" y2="417.8" stroke="#FFFFFF" stroke-width="2.0" stroke-linecap="round" stroke-opacity="0.8"/>
<line x1="1386.8" y1="424.2" x2="1380.9" y2="425.8" stroke="#A6E3BE" stroke-width="1.3" stroke-linecap="round" stroke-opacity="0.8"/>
<line x1="1380.5" y1="419.8" x2="1384.4" y2="424.4" stroke="#3FAE90" stroke-width="1.8" stroke-linecap="round" stroke-opacity="0.8"/>
<line x1="1386.0" y1="419.5" x2="1381.7" y2="424.8" stroke="#FFFFFF" stroke-width="1.6" stroke-linecap="round" stroke-opacity="0.8"/>
<line x1="1388.6" y1="414.6" x2="1389.5" y2="420.1" stroke="#FFFFFF" stroke-width="1.6" stroke-linecap="round" stroke-opacity="0.8"/>
<line x1="1395.2" y1="420.3" x2="1391.2" y2="424.2" stroke="#3FAE90" stroke-width="1.6" stroke-linecap="round" stroke-opacity="0.8"/>
<line x1="1383.2" y1="421.4" x2="1389.7" y2="422.2" stroke="#A6E3BE" stroke-width="1.8" stroke-linecap="round" stroke-opacity="0.8"/>
<line x1="1386.9" y1="392.7" x2="1385.4" y2="397.7" stroke="#FFFFFF" stroke-width="2.2" stroke-linecap="round" stroke-opacity="0.8"/>
<line x1="1385.1" y1="406.9" x2="1382.1" y2="411.0" stroke="#66D69A" stroke-width="2.2" stroke-linecap="round" stroke-opacity="0.8"/>
<ellipse cx="1373.5" cy="401.8" rx="3.2" ry="1.8" fill="#2A35CC" transform="rotate(-48 1373.5 401.8)"/>
</g>
<g filter="url(#pblur)">
<ellipse cx="1473.2" cy="410.1" rx="19.6" ry="15.1" fill="#FFFFFF" fill-opacity="0.6"/>
<ellipse cx="1453.0" cy="394.5" rx="19.6" ry="15.1" fill="#FFFFFF" fill-opacity="0.6"/>
<line x1="1464.8" y1="400.8" x2="1468.5" y2="404.4" stroke="#E8803A" stroke-width="2.0" stroke-linecap="round" stroke-opacity="0.8"/>
<line x1="1452.8" y1="396.8" x2="1450.5" y2="400.3" stroke="#FFFFFF" stroke-width="1.7" stroke-linecap="round" stroke-opacity="0.8"/>
<line x1="1452.5" y1="386.5" x2="1456.0" y2="391.9" stroke="#EDE070" stroke-width="2.1" stroke-linecap="round" stroke-opacity="0.8"/>
<line x1="1442.8" y1="402.2" x2="1442.2" y2="405.8" stroke="#EFA040" stroke-width="2.0" stroke-linecap="round" stroke-opacity="0.8"/>
<line x1="1458.9" y1="405.1" x2="1464.2" y2="405.5" stroke="#F7F0B0" stroke-width="1.6" stroke-linecap="round" stroke-opacity="0.8"/>
<line x1="1460.2" y1="383.4" x2="1461.5" y2="390.2" stroke="#E0603A" stroke-width="1.9" stroke-linecap="round" stroke-opacity="0.8"/>
<line x1="1466.1" y1="382.8" x2="1463.9" y2="387.6" stroke="#F7F0B0" stroke-width="1.7" stroke-linecap="round" stroke-opacity="0.8"/>
<line x1="1462.8" y1="382.9" x2="1466.9" y2="385.8" stroke="#FFFFFF" stroke-width="1.8" stroke-linecap="round" stroke-opacity="0.8"/>
<line x1="1454.9" y1="407.4" x2="1458.6" y2="408.9" stroke="#EFA040" stroke-width="2.3" stroke-linecap="round" stroke-opacity="0.8"/>
<line x1="1449.0" y1="398.7" x2="1454.6" y2="400.8" stroke="#F7F0B0" stroke-width="1.8" stroke-linecap="round" stroke-opacity="0.8"/>
<line x1="1464.4" y1="398.7" x2="1465.7" y2="402.1" stroke="#E8803A" stroke-width="1.6" stroke-linecap="round" stroke-opacity="0.8"/>
<line x1="1440.0" y1="395.3" x2="1440.2" y2="398.7" stroke="#CCCB62" stroke-width="1.5" stroke-linecap="round" stroke-opacity="0.8"/>
<line x1="1466.3" y1="380.5" x2="1466.4" y2="385.8" stroke="#F7F0B0" stroke-width="1.6" stroke-linecap="round" stroke-opacity="0.8"/>
<line x1="1434.7" y1="396.3" x2="1436.3" y2="402.8" stroke="#FFFFFF" stroke-width="1.6" stroke-linecap="round" stroke-opacity="0.8"/>
<line x1="1435.1" y1="385.9" x2="1434.7" y2="390.3" stroke="#EDE070" stroke-width="1.3" stroke-linecap="round" stroke-opacity="0.8"/>
<line x1="1433.6" y1="389.1" x2="1438.1" y2="389.6" stroke="#F7F0B0" stroke-width="1.6" stroke-linecap="round" stroke-opacity="0.8"/>
<line x1="1470.9" y1="391.7" x2="1466.7" y2="394.6" stroke="#EDE070" stroke-width="2.3" stroke-linecap="round" stroke-opacity="0.8"/>
<line x1="1466.9" y1="403.2" x2="1469.8" y2="405.7" stroke="#F29C5A" stroke-width="2.2" stroke-linecap="round" stroke-opacity="0.8"/>
<line x1="1450.7" y1="399.7" x2="1453.5" y2="404.7" stroke="#E0603A" stroke-width="2.0" stroke-linecap="round" stroke-opacity="0.8"/>
<line x1="1458.6" y1="392.3" x2="1453.3" y2="393.2" stroke="#CCCB62" stroke-width="2.1" stroke-linecap="round" stroke-opacity="0.8"/>
<line x1="1432.3" y1="392.0" x2="1435.9" y2="395.4" stroke="#EDE070" stroke-width="1.7" stroke-linecap="round" stroke-opacity="0.8"/>
<line x1="1435.6" y1="386.4" x2="1433.3" y2="392.7" stroke="#FFFFFF" stroke-width="1.5" stroke-linecap="round" stroke-opacity="0.8"/>
<line x1="1467.4" y1="389.2" x2="1464.6" y2="391.1" stroke="#EDE070" stroke-width="1.4" stroke-linecap="round" stroke-opacity="0.8"/>
<line x1="1471.5" y1="397.5" x2="1472.2" y2="401.5" stroke="#EDE070" stroke-width="1.8" stroke-linecap="round" stroke-opacity="0.8"/>
<line x1="1440.0" y1="401.0" x2="1439.3" y2="406.8" stroke="#EDE070" stroke-width="1.7" stroke-linecap="round" stroke-opacity="0.8"/>
<line x1="1444.6" y1="394.7" x2="1449.8" y2="397.4" stroke="#F29C5A" stroke-width="2.0" stroke-linecap="round" stroke-opacity="0.8"/>
<line x1="1459.1" y1="406.8" x2="1452.8" y2="406.9" stroke="#E8803A" stroke-width="1.9" stroke-linecap="round" stroke-opacity="0.8"/>
<line x1="1459.2" y1="381.0" x2="1462.3" y2="384.4" stroke="#E0603A" stroke-width="1.8" stroke-linecap="round" stroke-opacity="0.8"/>
<line x1="1472.1" y1="385.4" x2="1469.1" y2="391.7" stroke="#F7F0B0" stroke-width="1.9" stroke-linecap="round" stroke-opacity="0.8"/>
<line x1="1464.2" y1="380.9" x2="1459.5" y2="381.2" stroke="#F7F0B0" stroke-width="2.2" stroke-linecap="round" stroke-opacity="0.8"/>
<line x1="1463.3" y1="379.9" x2="1461.8" y2="382.5" stroke="#F7F0B0" stroke-width="1.3" stroke-linecap="round" stroke-opacity="0.8"/>
<line x1="1472.2" y1="391.5" x2="1472.7" y2="394.5" stroke="#F7F0B0" stroke-width="2.1" stroke-linecap="round" stroke-opacity="0.8"/>
<line x1="1436.9" y1="393.5" x2="1439.1" y2="396.0" stroke="#EDE070" stroke-width="1.6" stroke-linecap="round" stroke-opacity="0.8"/>
<line x1="1438.2" y1="385.9" x2="1443.3" y2="390.7" stroke="#EFA040" stroke-width="2.3" stroke-linecap="round" stroke-opacity="0.8"/>
<line x1="1470.1" y1="386.4" x2="1471.4" y2="389.6" stroke="#CCCB62" stroke-width="1.6" stroke-linecap="round" stroke-opacity="0.8"/>
<line x1="1452.9" y1="385.3" x2="1449.4" y2="385.8" stroke="#EDE070" stroke-width="2.1" stroke-linecap="round" stroke-opacity="0.8"/>
<line x1="1450.0" y1="378.8" x2="1445.0" y2="380.5" stroke="#EFA040" stroke-width="1.3" stroke-linecap="round" stroke-opacity="0.8"/>
<line x1="1442.6" y1="380.5" x2="1438.4" y2="383.7" stroke="#EDE070" stroke-width="1.7" stroke-linecap="round" stroke-opacity="0.8"/>
<line x1="1447.1" y1="378.4" x2="1441.8" y2="382.7" stroke="#FFFFFF" stroke-width="1.7" stroke-linecap="round" stroke-opacity="0.8"/>
<line x1="1448.5" y1="386.0" x2="1453.2" y2="387.9" stroke="#CCCB62" stroke-width="1.5" stroke-linecap="round" stroke-opacity="0.8"/>
<line x1="1455.3" y1="401.3" x2="1452.7" y2="403.3" stroke="#CCCB62" stroke-width="1.8" stroke-linecap="round" stroke-opacity="0.8"/>
<line x1="1452.2" y1="389.1" x2="1449.0" y2="393.9" stroke="#EDE070" stroke-width="1.9" stroke-linecap="round" stroke-opacity="0.8"/>
<line x1="1451.9" y1="383.7" x2="1458.3" y2="385.1" stroke="#EDE070" stroke-width="1.4" stroke-linecap="round" stroke-opacity="0.8"/>
<line x1="1448.5" y1="378.8" x2="1450.6" y2="384.2" stroke="#FFFFFF" stroke-width="1.9" stroke-linecap="round" stroke-opacity="0.8"/>
<line x1="1435.6" y1="394.6" x2="1435.1" y2="398.9" stroke="#EDE070" stroke-width="2.3" stroke-linecap="round" stroke-opacity="0.8"/>
<line x1="1470.0" y1="397.4" x2="1466.8" y2="399.0" stroke="#FFFFFF" stroke-width="1.6" stroke-linecap="round" stroke-opacity="0.8"/>
<line x1="1463.9" y1="387.8" x2="1467.1" y2="388.1" stroke="#F7F0B0" stroke-width="1.6" stroke-linecap="round" stroke-opacity="0.8"/>
<line x1="1442.7" y1="399.0" x2="1448.5" y2="402.6" stroke="#E8803A" stroke-width="2.1" stroke-linecap="round" stroke-opacity="0.8"/>
<line x1="1470.9" y1="394.8" x2="1464.4" y2="397.4" stroke="#F7F0B0" stroke-width="1.5" stroke-linecap="round" stroke-opacity="0.8"/>
<line x1="1466.4" y1="381.3" x2="1464.8" y2="385.9" stroke="#E0603A" stroke-width="1.7" stroke-linecap="round" stroke-opacity="0.8"/>
<line x1="1440.3" y1="403.6" x2="1443.0" y2="408.5" stroke="#EFA040" stroke-width="1.8" stroke-linecap="round" stroke-opacity="0.8"/>
<line x1="1461.9" y1="393.1" x2="1457.9" y2="394.4" stroke="#F7F0B0" stroke-width="1.5" stroke-linecap="round" stroke-opacity="0.8"/>
<line x1="1460.6" y1="405.8" x2="1457.2" y2="409.5" stroke="#F7F0B0" stroke-width="2.2" stroke-linecap="round" stroke-opacity="0.8"/>
<line x1="1449.8" y1="401.6" x2="1450.9" y2="407.6" stroke="#FFFFFF" stroke-width="2.1" stroke-linecap="round" stroke-opacity="0.8"/>
<line x1="1456.1" y1="389.6" x2="1451.0" y2="390.7" stroke="#CCCB62" stroke-width="1.4" stroke-linecap="round" stroke-opacity="0.8"/>
<line x1="1436.2" y1="389.8" x2="1440.6" y2="392.9" stroke="#F29C5A" stroke-width="1.4" stroke-linecap="round" stroke-opacity="0.8"/>
<line x1="1436.5" y1="405.4" x2="1442.6" y2="407.0" stroke="#FFFFFF" stroke-width="2.0" stroke-linecap="round" stroke-opacity="0.8"/>
<line x1="1468.0" y1="400.4" x2="1464.1" y2="401.0" stroke="#EDE070" stroke-width="1.4" stroke-linecap="round" stroke-opacity="0.8"/>
<line x1="1442.9" y1="390.1" x2="1441.3" y2="392.9" stroke="#EFA040" stroke-width="2.3" stroke-linecap="round" stroke-opacity="0.8"/>
<line x1="1437.7" y1="404.2" x2="1443.2" y2="407.4" stroke="#EDE070" stroke-width="1.8" stroke-linecap="round" stroke-opacity="0.8"/>
<line x1="1451.5" y1="388.1" x2="1452.0" y2="391.2" stroke="#EDE070" stroke-width="1.3" stroke-linecap="round" stroke-opacity="0.8"/>
<line x1="1463.7" y1="395.8" x2="1465.9" y2="400.4" stroke="#EDE070" stroke-width="2.0" stroke-linecap="round" stroke-opacity="0.8"/>
<line x1="1458.8" y1="390.7" x2="1462.8" y2="393.2" stroke="#EDE070" stroke-width="2.3" stroke-linecap="round" stroke-opacity="0.8"/>
<line x1="1444.1" y1="398.0" x2="1440.6" y2="399.4" stroke="#CCCB62" stroke-width="2.2" stroke-linecap="round" stroke-opacity="0.8"/>
<line x1="1464.0" y1="384.5" x2="1463.1" y2="391.2" stroke="#F29C5A" stroke-width="2.0" stroke-linecap="round" stroke-opacity="0.8"/>
<line x1="1450.9" y1="400.2" x2="1448.7" y2="403.4" stroke="#EDE070" stroke-width="2.0" stroke-linecap="round" stroke-opacity="0.8"/>
<line x1="1451.1" y1="404.4" x2="1454.1" y2="406.8" stroke="#F7F0B0" stroke-width="1.6" stroke-linecap="round" stroke-opacity="0.8"/>
<line x1="1455.4" y1="394.2" x2="1451.1" y2="397.9" stroke="#D9472F" stroke-width="1.3" stroke-linecap="round" stroke-opacity="0.8"/>
<line x1="1448.8" y1="399.8" x2="1454.0" y2="404.3" stroke="#EDE070" stroke-width="2.1" stroke-linecap="round" stroke-opacity="0.8"/>
<line x1="1454.8" y1="390.8" x2="1452.2" y2="396.5" stroke="#CCCB62" stroke-width="1.6" stroke-linecap="round" stroke-opacity="0.8"/>
<line x1="1436.5" y1="394.9" x2="1433.5" y2="396.1" stroke="#D9472F" stroke-width="1.8" stroke-linecap="round" stroke-opacity="0.8"/>
<line x1="1446.3" y1="380.3" x2="1451.8" y2="384.4" stroke="#CCCB62" stroke-width="1.9" stroke-linecap="round" stroke-opacity="0.8"/>
<line x1="1439.2" y1="381.8" x2="1444.8" y2="382.3" stroke="#FFFFFF" stroke-width="2.3" stroke-linecap="round" stroke-opacity="0.8"/>
<line x1="1449.2" y1="402.2" x2="1444.7" y2="404.8" stroke="#EDE070" stroke-width="1.4" stroke-linecap="round" stroke-opacity="0.8"/>
<line x1="1443.5" y1="381.3" x2="1439.6" y2="381.9" stroke="#F7F0B0" stroke-width="1.7" stroke-linecap="round" stroke-opacity="0.8"/>
<line x1="1431.2" y1="399.6" x2="1437.2" y2="399.7" stroke="#FFFFFF" stroke-width="1.9" stroke-linecap="round" stroke-opacity="0.8"/>
<line x1="1457.0" y1="388.5" x2="1455.9" y2="393.4" stroke="#F7F0B0" stroke-width="2.1" stroke-linecap="round" stroke-opacity="0.8"/>
<line x1="1455.5" y1="383.0" x2="1448.8" y2="384.3" stroke="#F29C5A" stroke-width="2.0" stroke-linecap="round" stroke-opacity="0.8"/>
<line x1="1442.7" y1="395.0" x2="1439.6" y2="399.2" stroke="#CCCB62" stroke-width="1.6" stroke-linecap="round" stroke-opacity="0.8"/>
<line x1="1449.5" y1="398.7" x2="1453.2" y2="403.4" stroke="#F7F0B0" stroke-width="1.8" stroke-linecap="round" stroke-opacity="0.8"/>
<line x1="1448.1" y1="378.5" x2="1452.3" y2="382.3" stroke="#FFFFFF" stroke-width="2.2" stroke-linecap="round" stroke-opacity="0.8"/>
<line x1="1463.0" y1="396.2" x2="1468.2" y2="399.4" stroke="#CCCB62" stroke-width="1.5" stroke-linecap="round" stroke-opacity="0.8"/>
<line x1="1450.5" y1="385.0" x2="1446.4" y2="385.9" stroke="#EDE070" stroke-width="1.3" stroke-linecap="round" stroke-opacity="0.8"/>
<line x1="1443.0" y1="404.2" x2="1449.7" y2="404.5" stroke="#EDE070" stroke-width="2.0" stroke-linecap="round" stroke-opacity="0.8"/>
<line x1="1435.5" y1="387.8" x2="1436.6" y2="391.5" stroke="#F29C5A" stroke-width="2.2" stroke-linecap="round" stroke-opacity="0.8"/>
<line x1="1444.4" y1="402.3" x2="1445.7" y2="406.8" stroke="#F29C5A" stroke-width="1.9" stroke-linecap="round" stroke-opacity="0.8"/>
<line x1="1439.7" y1="386.5" x2="1446.1" y2="387.0" stroke="#CCCB62" stroke-width="1.4" stroke-linecap="round" stroke-opacity="0.8"/>
<line x1="1435.5" y1="398.6" x2="1441.2" y2="400.9" stroke="#F7F0B0" stroke-width="1.6" stroke-linecap="round" stroke-opacity="0.8"/>
<line x1="1470.6" y1="393.8" x2="1465.8" y2="398.0" stroke="#EDE070" stroke-width="1.6" stroke-linecap="round" stroke-opacity="0.8"/>
<line x1="1452.8" y1="406.4" x2="1453.3" y2="413.1" stroke="#CCCB62" stroke-width="1.5" stroke-linecap="round" stroke-opacity="0.8"/>
<line x1="1437.2" y1="394.0" x2="1433.3" y2="397.2" stroke="#EDE070" stroke-width="1.8" stroke-linecap="round" stroke-opacity="0.8"/>
<line x1="1450.4" y1="403.6" x2="1451.6" y2="406.7" stroke="#F7F0B0" stroke-width="1.8" stroke-linecap="round" stroke-opacity="0.8"/>
<line x1="1461.7" y1="404.8" x2="1457.6" y2="405.8" stroke="#FFFFFF" stroke-width="2.2" stroke-linecap="round" stroke-opacity="0.8"/>
<line x1="1437.8" y1="399.5" x2="1441.0" y2="399.9" stroke="#F7F0B0" stroke-width="1.8" stroke-linecap="round" stroke-opacity="0.8"/>
<line x1="1454.0" y1="386.6" x2="1457.0" y2="387.2" stroke="#EFA040" stroke-width="1.4" stroke-linecap="round" stroke-opacity="0.8"/>
<line x1="1472.8" y1="392.0" x2="1474.8" y2="397.1" stroke="#FFFFFF" stroke-width="1.7" stroke-linecap="round" stroke-opacity="0.8"/>
<line x1="1483.8" y1="417.2" x2="1480.3" y2="417.3" stroke="#66D69A" stroke-width="2.2" stroke-linecap="round" stroke-opacity="0.8"/>
<line x1="1467.8" y1="411.6" x2="1463.7" y2="416.7" stroke="#66D69A" stroke-width="1.9" stroke-linecap="round" stroke-opacity="0.8"/>
<line x1="1460.2" y1="399.7" x2="1458.9" y2="406.5" stroke="#3FAE90" stroke-width="2.3" stroke-linecap="round" stroke-opacity="0.8"/>
<line x1="1471.2" y1="424.1" x2="1476.4" y2="426.0" stroke="#3050D0" stroke-width="2.2" stroke-linecap="round" stroke-opacity="0.8"/>
<line x1="1465.3" y1="414.8" x2="1463.8" y2="417.8" stroke="#FFFFFF" stroke-width="1.5" stroke-linecap="round" stroke-opacity="0.8"/>
<line x1="1481.0" y1="403.0" x2="1478.5" y2="406.5" stroke="#66D69A" stroke-width="2.2" stroke-linecap="round" stroke-opacity="0.8"/>
<line x1="1488.0" y1="412.0" x2="1487.3" y2="416.2" stroke="#A6E3BE" stroke-width="1.4" stroke-linecap="round" stroke-opacity="0.8"/>
<line x1="1455.7" y1="402.8" x2="1455.9" y2="406.8" stroke="#3FAE90" stroke-width="1.4" stroke-linecap="round" stroke-opacity="0.8"/>
<line x1="1457.5" y1="412.1" x2="1453.4" y2="412.9" stroke="#66D69A" stroke-width="1.7" stroke-linecap="round" stroke-opacity="0.8"/>
<line x1="1483.2" y1="398.6" x2="1485.6" y2="401.3" stroke="#66D69A" stroke-width="1.9" stroke-linecap="round" stroke-opacity="0.8"/>
<line x1="1465.7" y1="406.5" x2="1463.8" y2="412.2" stroke="#3FAE90" stroke-width="2.2" stroke-linecap="round" stroke-opacity="0.8"/>
<line x1="1468.1" y1="394.5" x2="1469.2" y2="398.4" stroke="#FFFFFF" stroke-width="2.1" stroke-linecap="round" stroke-opacity="0.8"/>
<line x1="1483.8" y1="415.6" x2="1487.0" y2="418.4" stroke="#A6E3BE" stroke-width="2.3" stroke-linecap="round" stroke-opacity="0.8"/>
<line x1="1486.1" y1="401.4" x2="1482.3" y2="406.0" stroke="#3050D0" stroke-width="2.0" stroke-linecap="round" stroke-opacity="0.8"/>
<line x1="1472.3" y1="393.4" x2="1475.4" y2="397.9" stroke="#FFFFFF" stroke-width="1.7" stroke-linecap="round" stroke-opacity="0.8"/>
<line x1="1485.7" y1="406.6" x2="1481.7" y2="409.5" stroke="#3FAE90" stroke-width="1.5" stroke-linecap="round" stroke-opacity="0.8"/>
<line x1="1474.8" y1="403.0" x2="1468.9" y2="403.0" stroke="#FFFFFF" stroke-width="1.9" stroke-linecap="round" stroke-opacity="0.8"/>
<line x1="1462.7" y1="409.7" x2="1466.7" y2="414.8" stroke="#66D69A" stroke-width="2.3" stroke-linecap="round" stroke-opacity="0.8"/>
<line x1="1466.4" y1="408.2" x2="1472.3" y2="411.7" stroke="#66D69A" stroke-width="2.2" stroke-linecap="round" stroke-opacity="0.8"/>
<line x1="1487.2" y1="401.9" x2="1493.2" y2="404.8" stroke="#3050D0" stroke-width="1.4" stroke-linecap="round" stroke-opacity="0.8"/>
<line x1="1476.2" y1="422.3" x2="1472.8" y2="423.8" stroke="#3050D0" stroke-width="1.3" stroke-linecap="round" stroke-opacity="0.8"/>
<line x1="1479.8" y1="403.9" x2="1476.7" y2="408.2" stroke="#66D69A" stroke-width="1.7" stroke-linecap="round" stroke-opacity="0.8"/>
<line x1="1478.5" y1="411.5" x2="1477.4" y2="415.0" stroke="#3FAE90" stroke-width="1.6" stroke-linecap="round" stroke-opacity="0.8"/>
<line x1="1472.1" y1="402.3" x2="1474.8" y2="405.3" stroke="#FFFFFF" stroke-width="1.8" stroke-linecap="round" stroke-opacity="0.8"/>
<line x1="1476.5" y1="422.2" x2="1476.3" y2="426.2" stroke="#3FAE90" stroke-width="2.0" stroke-linecap="round" stroke-opacity="0.8"/>
<line x1="1469.6" y1="407.7" x2="1468.7" y2="412.2" stroke="#A6E3BE" stroke-width="1.4" stroke-linecap="round" stroke-opacity="0.8"/>
<line x1="1491.1" y1="410.8" x2="1485.7" y2="412.4" stroke="#66D69A" stroke-width="2.1" stroke-linecap="round" stroke-opacity="0.8"/>
<line x1="1455.8" y1="409.1" x2="1457.3" y2="412.6" stroke="#3FAE90" stroke-width="2.2" stroke-linecap="round" stroke-opacity="0.8"/>
<line x1="1473.5" y1="407.1" x2="1477.1" y2="411.7" stroke="#FFFFFF" stroke-width="2.2" stroke-linecap="round" stroke-opacity="0.8"/>
<line x1="1477.9" y1="395.5" x2="1479.0" y2="398.3" stroke="#66D69A" stroke-width="1.4" stroke-linecap="round" stroke-opacity="0.8"/>
<line x1="1472.1" y1="419.6" x2="1475.6" y2="423.6" stroke="#66D69A" stroke-width="1.4" stroke-linecap="round" stroke-opacity="0.8"/>
<line x1="1486.7" y1="418.0" x2="1483.9" y2="420.0" stroke="#A6E3BE" stroke-width="2.2" stroke-linecap="round" stroke-opacity="0.8"/>
<line x1="1477.2" y1="404.6" x2="1473.7" y2="407.6" stroke="#3050D0" stroke-width="1.8" stroke-linecap="round" stroke-opacity="0.8"/>
<line x1="1460.2" y1="411.8" x2="1464.7" y2="413.2" stroke="#3050D0" stroke-width="2.3" stroke-linecap="round" stroke-opacity="0.8"/>
<line x1="1478.0" y1="400.6" x2="1476.7" y2="404.1" stroke="#66D69A" stroke-width="2.0" stroke-linecap="round" stroke-opacity="0.8"/>
<line x1="1462.4" y1="400.9" x2="1461.7" y2="407.1" stroke="#FFFFFF" stroke-width="1.9" stroke-linecap="round" stroke-opacity="0.8"/>
<line x1="1484.4" y1="400.5" x2="1482.8" y2="407.1" stroke="#3050D0" stroke-width="1.4" stroke-linecap="round" stroke-opacity="0.8"/>
<line x1="1490.9" y1="403.3" x2="1494.2" y2="406.3" stroke="#3FAE90" stroke-width="2.2" stroke-linecap="round" stroke-opacity="0.8"/>
<line x1="1458.3" y1="398.1" x2="1461.4" y2="400.4" stroke="#3FAE90" stroke-width="1.5" stroke-linecap="round" stroke-opacity="0.8"/>
<line x1="1466.2" y1="424.5" x2="1471.5" y2="425.3" stroke="#3FAE90" stroke-width="2.3" stroke-linecap="round" stroke-opacity="0.8"/>
<line x1="1460.4" y1="415.3" x2="1465.9" y2="417.5" stroke="#3FAE90" stroke-width="1.7" stroke-linecap="round" stroke-opacity="0.8"/>
<line x1="1467.8" y1="408.4" x2="1472.9" y2="413.1" stroke="#FFFFFF" stroke-width="2.1" stroke-linecap="round" stroke-opacity="0.8"/>
<line x1="1489.6" y1="410.4" x2="1493.3" y2="416.3" stroke="#FFFFFF" stroke-width="1.7" stroke-linecap="round" stroke-opacity="0.8"/>
<line x1="1468.2" y1="409.5" x2="1471.7" y2="410.1" stroke="#3FAE90" stroke-width="1.5" stroke-linecap="round" stroke-opacity="0.8"/>
<line x1="1490.9" y1="417.7" x2="1488.0" y2="420.3" stroke="#A6E3BE" stroke-width="1.4" stroke-linecap="round" stroke-opacity="0.8"/>
<line x1="1464.0" y1="403.0" x2="1468.3" y2="406.4" stroke="#3050D0" stroke-width="2.0" stroke-linecap="round" stroke-opacity="0.8"/>
<line x1="1489.7" y1="400.9" x2="1487.5" y2="405.3" stroke="#66D69A" stroke-width="1.4" stroke-linecap="round" stroke-opacity="0.8"/>
<line x1="1470.2" y1="401.0" x2="1473.7" y2="401.0" stroke="#66D69A" stroke-width="2.2" stroke-linecap="round" stroke-opacity="0.8"/>
<line x1="1488.3" y1="410.4" x2="1486.0" y2="413.3" stroke="#3050D0" stroke-width="2.2" stroke-linecap="round" stroke-opacity="0.8"/>
<line x1="1486.7" y1="397.7" x2="1483.3" y2="400.7" stroke="#66D69A" stroke-width="1.6" stroke-linecap="round" stroke-opacity="0.8"/>
<line x1="1480.7" y1="420.7" x2="1484.3" y2="424.3" stroke="#FFFFFF" stroke-width="1.9" stroke-linecap="round" stroke-opacity="0.8"/>
<line x1="1458.4" y1="398.9" x2="1457.8" y2="404.8" stroke="#66D69A" stroke-width="1.8" stroke-linecap="round" stroke-opacity="0.8"/>
<line x1="1491.2" y1="413.0" x2="1490.4" y2="418.0" stroke="#FFFFFF" stroke-width="1.8" stroke-linecap="round" stroke-opacity="0.8"/>
<line x1="1461.8" y1="414.8" x2="1460.7" y2="421.1" stroke="#A6E3BE" stroke-width="2.3" stroke-linecap="round" stroke-opacity="0.8"/>
<line x1="1482.4" y1="403.4" x2="1479.5" y2="404.7" stroke="#3050D0" stroke-width="1.8" stroke-linecap="round" stroke-opacity="0.8"/>
<line x1="1458.2" y1="405.0" x2="1464.8" y2="406.8" stroke="#A6E3BE" stroke-width="2.1" stroke-linecap="round" stroke-opacity="0.8"/>
<line x1="1473.7" y1="404.0" x2="1468.6" y2="407.7" stroke="#A6E3BE" stroke-width="1.4" stroke-linecap="round" stroke-opacity="0.8"/>
<line x1="1475.9" y1="421.8" x2="1471.4" y2="423.7" stroke="#66D69A" stroke-width="1.8" stroke-linecap="round" stroke-opacity="0.8"/>
<line x1="1471.9" y1="412.4" x2="1476.5" y2="414.7" stroke="#FFFFFF" stroke-width="2.0" stroke-linecap="round" stroke-opacity="0.8"/>
<line x1="1486.3" y1="398.4" x2="1482.4" y2="402.2" stroke="#3FAE90" stroke-width="1.7" stroke-linecap="round" stroke-opacity="0.8"/>
<line x1="1470.8" y1="402.2" x2="1468.1" y2="406.4" stroke="#4A8ED0" stroke-width="2.0" stroke-linecap="round" stroke-opacity="0.8"/>
<line x1="1460.3" y1="410.1" x2="1465.6" y2="412.9" stroke="#A6E3BE" stroke-width="1.8" stroke-linecap="round" stroke-opacity="0.8"/>
<line x1="1463.5" y1="416.8" x2="1467.1" y2="418.4" stroke="#4A8ED0" stroke-width="2.1" stroke-linecap="round" stroke-opacity="0.8"/>
<line x1="1491.4" y1="406.6" x2="1490.2" y2="411.0" stroke="#A6E3BE" stroke-width="1.8" stroke-linecap="round" stroke-opacity="0.8"/>
<line x1="1481.1" y1="408.1" x2="1478.9" y2="410.5" stroke="#66D69A" stroke-width="1.9" stroke-linecap="round" stroke-opacity="0.8"/>
<line x1="1477.0" y1="421.0" x2="1473.0" y2="424.9" stroke="#FFFFFF" stroke-width="1.6" stroke-linecap="round" stroke-opacity="0.8"/>
<line x1="1489.8" y1="412.2" x2="1487.0" y2="414.6" stroke="#3FAE90" stroke-width="2.2" stroke-linecap="round" stroke-opacity="0.8"/>
<line x1="1486.5" y1="396.9" x2="1486.3" y2="400.9" stroke="#FFFFFF" stroke-width="2.1" stroke-linecap="round" stroke-opacity="0.8"/>
<line x1="1469.2" y1="400.4" x2="1466.1" y2="402.3" stroke="#A6E3BE" stroke-width="2.3" stroke-linecap="round" stroke-opacity="0.8"/>
<line x1="1475.8" y1="404.4" x2="1478.2" y2="406.9" stroke="#FFFFFF" stroke-width="1.9" stroke-linecap="round" stroke-opacity="0.8"/>
<line x1="1489.0" y1="413.2" x2="1485.9" y2="418.8" stroke="#A6E3BE" stroke-width="1.6" stroke-linecap="round" stroke-opacity="0.8"/>
<line x1="1477.4" y1="412.1" x2="1479.1" y2="415.2" stroke="#3FAE90" stroke-width="1.3" stroke-linecap="round" stroke-opacity="0.8"/>
<line x1="1466.1" y1="421.7" x2="1465.9" y2="426.4" stroke="#A6E3BE" stroke-width="1.5" stroke-linecap="round" stroke-opacity="0.8"/>
<line x1="1467.6" y1="395.4" x2="1462.3" y2="396.8" stroke="#3FAE90" stroke-width="1.5" stroke-linecap="round" stroke-opacity="0.8"/>
<ellipse cx="1465.1" cy="403.8" rx="3.2" ry="1.8" fill="#2A35CC" transform="rotate(29 1465.1 403.8)"/>
</g>
<g filter="url(#pblur)">
<ellipse cx="1597.9" cy="397.2" rx="17.0" ry="17.2" fill="#FFFFFF" fill-opacity="0.6"/>
<ellipse cx="1580.3" cy="407.9" rx="17.0" ry="17.2" fill="#FFFFFF" fill-opacity="0.6"/>
<line x1="1583.7" y1="407.1" x2="1580.7" y2="407.9" stroke="#D9472F" stroke-width="1.5" stroke-linecap="round" stroke-opacity="0.8"/>
<line x1="1598.8" y1="413.3" x2="1592.3" y2="413.3" stroke="#F7F0B0" stroke-width="1.5" stroke-linecap="round" stroke-opacity="0.8"/>
<line x1="1571.3" y1="418.6" x2="1573.4" y2="422.6" stroke="#EDE070" stroke-width="2.2" stroke-linecap="round" stroke-opacity="0.8"/>
<line x1="1585.1" y1="417.6" x2="1581.4" y2="418.5" stroke="#EDE070" stroke-width="1.8" stroke-linecap="round" stroke-opacity="0.8"/>
<line x1="1581.5" y1="417.3" x2="1582.1" y2="422.2" stroke="#FFFFFF" stroke-width="2.1" stroke-linecap="round" stroke-opacity="0.8"/>
<line x1="1570.1" y1="408.9" x2="1571.8" y2="414.3" stroke="#D9472F" stroke-width="2.2" stroke-linecap="round" stroke-opacity="0.8"/>
<line x1="1591.6" y1="406.9" x2="1594.3" y2="408.2" stroke="#CCCB62" stroke-width="1.5" stroke-linecap="round" stroke-opacity="0.8"/>
<line x1="1594.3" y1="400.8" x2="1594.1" y2="403.8" stroke="#D9472F" stroke-width="1.5" stroke-linecap="round" stroke-opacity="0.8"/>
<line x1="1590.7" y1="393.1" x2="1591.0" y2="396.3" stroke="#FFFFFF" stroke-width="2.1" stroke-linecap="round" stroke-opacity="0.8"/>
<line x1="1569.9" y1="402.2" x2="1569.3" y2="406.0" stroke="#EFA040" stroke-width="1.8" stroke-linecap="round" stroke-opacity="0.8"/>
<line x1="1587.5" y1="409.9" x2="1590.9" y2="415.2" stroke="#F7F0B0" stroke-width="2.2" stroke-linecap="round" stroke-opacity="0.8"/>
<line x1="1576.8" y1="416.5" x2="1571.5" y2="419.5" stroke="#F7F0B0" stroke-width="1.6" stroke-linecap="round" stroke-opacity="0.8"/>
<line x1="1591.6" y1="418.2" x2="1587.7" y2="420.3" stroke="#FFFFFF" stroke-width="2.2" stroke-linecap="round" stroke-opacity="0.8"/>
<line x1="1577.4" y1="398.0" x2="1582.2" y2="398.9" stroke="#F7F0B0" stroke-width="1.6" stroke-linecap="round" stroke-opacity="0.8"/>
<line x1="1582.9" y1="395.5" x2="1589.7" y2="396.4" stroke="#CCCB62" stroke-width="1.4" stroke-linecap="round" stroke-opacity="0.8"/>
<line x1="1589.3" y1="395.4" x2="1586.5" y2="398.2" stroke="#FFFFFF" stroke-width="1.7" stroke-linecap="round" stroke-opacity="0.8"/>
<line x1="1576.9" y1="392.2" x2="1578.4" y2="394.9" stroke="#E0603A" stroke-width="1.9" stroke-linecap="round" stroke-opacity="0.8"/>
<line x1="1570.6" y1="412.3" x2="1574.6" y2="417.8" stroke="#E0603A" stroke-width="1.7" stroke-linecap="round" stroke-opacity="0.8"/>
<line x1="1580.4" y1="405.9" x2="1574.2" y2="408.1" stroke="#FFFFFF" stroke-width="1.3" stroke-linecap="round" stroke-opacity="0.8"/>
<line x1="1571.8" y1="398.7" x2="1578.5" y2="398.8" stroke="#FFFFFF" stroke-width="1.6" stroke-linecap="round" stroke-opacity="0.8"/>
<line x1="1569.2" y1="405.2" x2="1565.6" y2="410.8" stroke="#EDE070" stroke-width="1.6" stroke-linecap="round" stroke-opacity="0.8"/>
<line x1="1576.4" y1="420.0" x2="1572.6" y2="420.9" stroke="#D9472F" stroke-width="2.2" stroke-linecap="round" stroke-opacity="0.8"/>
<line x1="1574.5" y1="395.5" x2="1570.0" y2="400.8" stroke="#F7F0B0" stroke-width="1.7" stroke-linecap="round" stroke-opacity="0.8"/>
<line x1="1591.3" y1="394.8" x2="1592.9" y2="397.8" stroke="#EDE070" stroke-width="2.0" stroke-linecap="round" stroke-opacity="0.8"/>
<line x1="1570.0" y1="403.9" x2="1566.6" y2="404.7" stroke="#CCCB62" stroke-width="1.9" stroke-linecap="round" stroke-opacity="0.8"/>
<line x1="1596.2" y1="416.1" x2="1591.3" y2="418.9" stroke="#D9472F" stroke-width="2.0" stroke-linecap="round" stroke-opacity="0.8"/>
<line x1="1567.9" y1="399.6" x2="1569.2" y2="403.7" stroke="#F29C5A" stroke-width="2.3" stroke-linecap="round" stroke-opacity="0.8"/>
<line x1="1572.5" y1="393.9" x2="1570.9" y2="399.6" stroke="#EFA040" stroke-width="2.1" stroke-linecap="round" stroke-opacity="0.8"/>
<line x1="1576.7" y1="392.2" x2="1570.3" y2="392.4" stroke="#FFFFFF" stroke-width="2.0" stroke-linecap="round" stroke-opacity="0.8"/>
<line x1="1571.1" y1="410.2" x2="1573.8" y2="415.7" stroke="#F7F0B0" stroke-width="1.5" stroke-linecap="round" stroke-opacity="0.8"/>
<line x1="1559.8" y1="410.7" x2="1565.7" y2="412.6" stroke="#E0603A" stroke-width="1.9" stroke-linecap="round" stroke-opacity="0.8"/>
<line x1="1583.9" y1="418.7" x2="1585.0" y2="425.1" stroke="#F29C5A" stroke-width="1.5" stroke-linecap="round" stroke-opacity="0.8"/>
<line x1="1585.0" y1="400.9" x2="1591.4" y2="402.1" stroke="#E0603A" stroke-width="1.7" stroke-linecap="round" stroke-opacity="0.8"/>
<line x1="1562.8" y1="414.6" x2="1568.2" y2="417.2" stroke="#EDE070" stroke-width="1.5" stroke-linecap="round" stroke-opacity="0.8"/>
<line x1="1597.1" y1="404.9" x2="1598.2" y2="410.2" stroke="#FFFFFF" stroke-width="1.7" stroke-linecap="round" stroke-opacity="0.8"/>
<line x1="1599.0" y1="399.7" x2="1593.4" y2="400.1" stroke="#EDE070" stroke-width="1.8" stroke-linecap="round" stroke-opacity="0.8"/>
<line x1="1571.1" y1="415.9" x2="1565.5" y2="416.0" stroke="#F7F0B0" stroke-width="1.9" stroke-linecap="round" stroke-opacity="0.8"/>
<line x1="1578.3" y1="405.6" x2="1576.3" y2="411.8" stroke="#FFFFFF" stroke-width="1.6" stroke-linecap="round" stroke-opacity="0.8"/>
<line x1="1570.8" y1="409.3" x2="1566.8" y2="413.1" stroke="#D9472F" stroke-width="1.5" stroke-linecap="round" stroke-opacity="0.8"/>
<line x1="1593.2" y1="402.8" x2="1590.6" y2="406.2" stroke="#FFFFFF" stroke-width="1.8" stroke-linecap="round" stroke-opacity="0.8"/>
<line x1="1594.7" y1="413.2" x2="1594.6" y2="419.2" stroke="#F7F0B0" stroke-width="2.0" stroke-linecap="round" stroke-opacity="0.8"/>
<line x1="1578.3" y1="392.8" x2="1572.3" y2="395.5" stroke="#EDE070" stroke-width="1.6" stroke-linecap="round" stroke-opacity="0.8"/>
<line x1="1590.5" y1="403.6" x2="1587.3" y2="404.8" stroke="#FFFFFF" stroke-width="2.0" stroke-linecap="round" stroke-opacity="0.8"/>
<line x1="1578.3" y1="419.2" x2="1579.0" y2="423.3" stroke="#CCCB62" stroke-width="1.8" stroke-linecap="round" stroke-opacity="0.8"/>
<line x1="1594.0" y1="401.4" x2="1590.7" y2="407.6" stroke="#EFA040" stroke-width="2.1" stroke-linecap="round" stroke-opacity="0.8"/>
<line x1="1570.4" y1="413.0" x2="1571.6" y2="417.0" stroke="#E0603A" stroke-width="1.9" stroke-linecap="round" stroke-opacity="0.8"/>
<line x1="1574.4" y1="394.9" x2="1568.7" y2="397.4" stroke="#D9472F" stroke-width="2.1" stroke-linecap="round" stroke-opacity="0.8"/>
<line x1="1576.6" y1="415.8" x2="1574.4" y2="419.7" stroke="#EDE070" stroke-width="1.4" stroke-linecap="round" stroke-opacity="0.8"/>
<line x1="1586.8" y1="411.2" x2="1585.5" y2="417.0" stroke="#E8803A" stroke-width="2.1" stroke-linecap="round" stroke-opacity="0.8"/>
<line x1="1584.5" y1="418.2" x2="1587.5" y2="420.9" stroke="#EDE070" stroke-width="1.6" stroke-linecap="round" stroke-opacity="0.8"/>
<line x1="1572.4" y1="405.0" x2="1572.7" y2="411.4" stroke="#EDE070" stroke-width="1.7" stroke-linecap="round" stroke-opacity="0.8"/>
<line x1="1591.2" y1="394.5" x2="1590.0" y2="401.2" stroke="#EDE070" stroke-width="1.8" stroke-linecap="round" stroke-opacity="0.8"/>
<line x1="1580.5" y1="391.6" x2="1584.5" y2="393.1" stroke="#D9472F" stroke-width="1.9" stroke-linecap="round" stroke-opacity="0.8"/>
<line x1="1579.3" y1="410.2" x2="1580.7" y2="414.3" stroke="#F7F0B0" stroke-width="1.8" stroke-linecap="round" stroke-opacity="0.8"/>
<line x1="1568.2" y1="398.5" x2="1569.2" y2="402.7" stroke="#EDE070" stroke-width="1.9" stroke-linecap="round" stroke-opacity="0.8"/>
<line x1="1572.5" y1="395.7" x2="1566.5" y2="397.9" stroke="#CCCB62" stroke-width="2.1" stroke-linecap="round" stroke-opacity="0.8"/>
<line x1="1570.2" y1="397.8" x2="1575.1" y2="400.7" stroke="#F7F0B0" stroke-width="1.4" stroke-linecap="round" stroke-opacity="0.8"/>
<line x1="1586.0" y1="407.8" x2="1584.6" y2="412.1" stroke="#E8803A" stroke-width="2.1" stroke-linecap="round" stroke-opacity="0.8"/>
<line x1="1578.6" y1="414.0" x2="1572.0" y2="414.0" stroke="#EDE070" stroke-width="2.2" stroke-linecap="round" stroke-opacity="0.8"/>
<line x1="1595.9" y1="411.8" x2="1589.4" y2="412.5" stroke="#EDE070" stroke-width="1.3" stroke-linecap="round" stroke-opacity="0.8"/>
<line x1="1575.8" y1="407.5" x2="1571.1" y2="408.2" stroke="#E0603A" stroke-width="1.5" stroke-linecap="round" stroke-opacity="0.8"/>
<line x1="1583.2" y1="412.1" x2="1586.6" y2="415.2" stroke="#E0603A" stroke-width="2.0" stroke-linecap="round" stroke-opacity="0.8"/>
<line x1="1596.8" y1="403.8" x2="1599.1" y2="407.9" stroke="#CCCB62" stroke-width="2.1" stroke-linecap="round" stroke-opacity="0.8"/>
<line x1="1597.3" y1="412.1" x2="1593.6" y2="412.9" stroke="#EFA040" stroke-width="2.2" stroke-linecap="round" stroke-opacity="0.8"/>
<line x1="1578.0" y1="421.6" x2="1575.6" y2="427.2" stroke="#F29C5A" stroke-width="2.2" stroke-linecap="round" stroke-opacity="0.8"/>
<line x1="1592.7" y1="403.4" x2="1593.4" y2="407.4" stroke="#F7F0B0" stroke-width="2.1" stroke-linecap="round" stroke-opacity="0.8"/>
<line x1="1571.4" y1="416.3" x2="1566.3" y2="416.5" stroke="#E0603A" stroke-width="1.5" stroke-linecap="round" stroke-opacity="0.8"/>
<line x1="1580.1" y1="403.0" x2="1584.8" y2="405.8" stroke="#FFFFFF" stroke-width="2.2" stroke-linecap="round" stroke-opacity="0.8"/>
<line x1="1583.6" y1="403.9" x2="1587.8" y2="407.9" stroke="#EDE070" stroke-width="2.2" stroke-linecap="round" stroke-opacity="0.8"/>
<line x1="1576.8" y1="422.5" x2="1574.0" y2="426.5" stroke="#E0603A" stroke-width="1.4" stroke-linecap="round" stroke-opacity="0.8"/>
<line x1="1572.7" y1="395.5" x2="1570.2" y2="397.5" stroke="#CCCB62" stroke-width="2.1" stroke-linecap="round" stroke-opacity="0.8"/>
<line x1="1570.8" y1="412.6" x2="1567.5" y2="414.2" stroke="#E0603A" stroke-width="1.7" stroke-linecap="round" stroke-opacity="0.8"/>
<line x1="1566.0" y1="400.7" x2="1566.1" y2="403.9" stroke="#FFFFFF" stroke-width="1.6" stroke-linecap="round" stroke-opacity="0.8"/>
<line x1="1567.2" y1="395.6" x2="1568.2" y2="401.2" stroke="#FFFFFF" stroke-width="1.9" stroke-linecap="round" stroke-opacity="0.8"/>
<line x1="1589.8" y1="394.7" x2="1592.4" y2="401.0" stroke="#CCCB62" stroke-width="1.4" stroke-linecap="round" stroke-opacity="0.8"/>
<line x1="1572.6" y1="394.9" x2="1576.0" y2="395.6" stroke="#E0603A" stroke-width="2.3" stroke-linecap="round" stroke-opacity="0.8"/>
<line x1="1583.3" y1="411.6" x2="1579.9" y2="413.6" stroke="#EDE070" stroke-width="1.7" stroke-linecap="round" stroke-opacity="0.8"/>
<line x1="1585.7" y1="419.5" x2="1583.2" y2="421.3" stroke="#FFFFFF" stroke-width="1.9" stroke-linecap="round" stroke-opacity="0.8"/>
<line x1="1580.2" y1="397.8" x2="1580.7" y2="404.7" stroke="#F7F0B0" stroke-width="1.6" stroke-linecap="round" stroke-opacity="0.8"/>
<line x1="1562.3" y1="405.9" x2="1568.1" y2="406.8" stroke="#FFFFFF" stroke-width="1.4" stroke-linecap="round" stroke-opacity="0.8"/>
<line x1="1583.0" y1="411.8" x2="1589.1" y2="412.2" stroke="#F29C5A" stroke-width="1.8" stroke-linecap="round" stroke-opacity="0.8"/>
<line x1="1579.4" y1="416.2" x2="1575.0" y2="418.1" stroke="#EDE070" stroke-width="1.8" stroke-linecap="round" stroke-opacity="0.8"/>
<line x1="1595.6" y1="400.2" x2="1595.0" y2="404.6" stroke="#EDE070" stroke-width="1.8" stroke-linecap="round" stroke-opacity="0.8"/>
<line x1="1567.2" y1="411.7" x2="1570.0" y2="415.6" stroke="#EDE070" stroke-width="1.3" stroke-linecap="round" stroke-opacity="0.8"/>
<line x1="1568.4" y1="417.5" x2="1566.5" y2="421.7" stroke="#EDE070" stroke-width="1.6" stroke-linecap="round" stroke-opacity="0.8"/>
<line x1="1599.9" y1="407.9" x2="1596.2" y2="410.3" stroke="#F7F0B0" stroke-width="2.0" stroke-linecap="round" stroke-opacity="0.8"/>
<line x1="1582.9" y1="398.0" x2="1586.5" y2="403.0" stroke="#E8803A" stroke-width="1.3" stroke-linecap="round" stroke-opacity="0.8"/>
<line x1="1577.6" y1="392.0" x2="1583.7" y2="393.2" stroke="#CCCB62" stroke-width="1.9" stroke-linecap="round" stroke-opacity="0.8"/>
<line x1="1584.1" y1="389.9" x2="1578.7" y2="392.7" stroke="#EDE070" stroke-width="1.4" stroke-linecap="round" stroke-opacity="0.8"/>
<line x1="1596.6" y1="405.2" x2="1592.0" y2="408.4" stroke="#CCCB62" stroke-width="1.3" stroke-linecap="round" stroke-opacity="0.8"/>
<line x1="1581.2" y1="400.3" x2="1587.8" y2="400.8" stroke="#EFA040" stroke-width="1.4" stroke-linecap="round" stroke-opacity="0.8"/>
<line x1="1578.6" y1="423.0" x2="1580.9" y2="426.0" stroke="#D9472F" stroke-width="1.4" stroke-linecap="round" stroke-opacity="0.8"/>
<line x1="1584.4" y1="421.8" x2="1578.4" y2="421.9" stroke="#F7F0B0" stroke-width="2.1" stroke-linecap="round" stroke-opacity="0.8"/>
<line x1="1563.7" y1="404.1" x2="1562.9" y2="410.8" stroke="#F7F0B0" stroke-width="1.4" stroke-linecap="round" stroke-opacity="0.8"/>
<line x1="1585.7" y1="396.1" x2="1590.4" y2="398.1" stroke="#EDE070" stroke-width="1.5" stroke-linecap="round" stroke-opacity="0.8"/>
<line x1="1596.1" y1="384.8" x2="1595.3" y2="387.9" stroke="#66D69A" stroke-width="2.2" stroke-linecap="round" stroke-opacity="0.8"/>
<line x1="1599.1" y1="404.0" x2="1598.0" y2="409.0" stroke="#3050D0" stroke-width="2.1" stroke-linecap="round" stroke-opacity="0.8"/>
<line x1="1601.1" y1="411.9" x2="1607.5" y2="413.0" stroke="#A6E3BE" stroke-width="2.2" stroke-linecap="round" stroke-opacity="0.8"/>
<line x1="1584.4" y1="402.2" x2="1583.0" y2="407.3" stroke="#FFFFFF" stroke-width="2.3" stroke-linecap="round" stroke-opacity="0.8"/>
<line x1="1583.8" y1="395.9" x2="1581.4" y2="399.0" stroke="#A6E3BE" stroke-width="1.6" stroke-linecap="round" stroke-opacity="0.8"/>
<line x1="1597.2" y1="401.6" x2="1600.3" y2="405.9" stroke="#3FAE90" stroke-width="1.9" stroke-linecap="round" stroke-opacity="0.8"/>
<line x1="1597.3" y1="388.4" x2="1593.0" y2="389.5" stroke="#A6E3BE" stroke-width="1.7" stroke-linecap="round" stroke-opacity="0.8"/>
<line x1="1588.3" y1="402.5" x2="1583.6" y2="403.5" stroke="#3050D0" stroke-width="1.7" stroke-linecap="round" stroke-opacity="0.8"/>
<line x1="1597.6" y1="383.0" x2="1601.0" y2="386.4" stroke="#3050D0" stroke-width="1.9" stroke-linecap="round" stroke-opacity="0.8"/>
<line x1="1610.3" y1="401.7" x2="1606.4" y2="402.9" stroke="#A6E3BE" stroke-width="2.0" stroke-linecap="round" stroke-opacity="0.8"/>
<line x1="1587.1" y1="387.6" x2="1588.2" y2="391.0" stroke="#66D69A" stroke-width="2.1" stroke-linecap="round" stroke-opacity="0.8"/>
<line x1="1614.6" y1="388.0" x2="1610.9" y2="393.7" stroke="#A6E3BE" stroke-width="1.9" stroke-linecap="round" stroke-opacity="0.8"/>
<line x1="1580.3" y1="395.6" x2="1581.1" y2="402.3" stroke="#3FAE90" stroke-width="1.5" stroke-linecap="round" stroke-opacity="0.8"/>
<line x1="1601.8" y1="390.7" x2="1597.2" y2="394.1" stroke="#66D69A" stroke-width="1.9" stroke-linecap="round" stroke-opacity="0.8"/>
<line x1="1589.6" y1="387.0" x2="1589.9" y2="392.0" stroke="#66D69A" stroke-width="1.8" stroke-linecap="round" stroke-opacity="0.8"/>
<line x1="1582.0" y1="390.2" x2="1588.1" y2="390.7" stroke="#66D69A" stroke-width="2.2" stroke-linecap="round" stroke-opacity="0.8"/>
<line x1="1596.2" y1="404.7" x2="1601.7" y2="407.8" stroke="#3FAE90" stroke-width="2.2" stroke-linecap="round" stroke-opacity="0.8"/>
<line x1="1595.7" y1="410.3" x2="1598.4" y2="412.1" stroke="#A6E3BE" stroke-width="1.4" stroke-linecap="round" stroke-opacity="0.8"/>
<line x1="1609.3" y1="408.2" x2="1607.8" y2="412.5" stroke="#66D69A" stroke-width="1.5" stroke-linecap="round" stroke-opacity="0.8"/>
<line x1="1618.4" y1="396.9" x2="1612.7" y2="400.4" stroke="#A6E3BE" stroke-width="1.4" stroke-linecap="round" stroke-opacity="0.8"/>
<line x1="1612.1" y1="399.4" x2="1613.7" y2="402.5" stroke="#A6E3BE" stroke-width="1.9" stroke-linecap="round" stroke-opacity="0.8"/>
<line x1="1611.7" y1="390.8" x2="1615.1" y2="394.5" stroke="#3FAE90" stroke-width="1.4" stroke-linecap="round" stroke-opacity="0.8"/>
<line x1="1598.0" y1="400.2" x2="1597.5" y2="404.1" stroke="#4A8ED0" stroke-width="1.3" stroke-linecap="round" stroke-opacity="0.8"/>
<line x1="1598.8" y1="400.3" x2="1595.7" y2="403.0" stroke="#66D69A" stroke-width="2.2" stroke-linecap="round" stroke-opacity="0.8"/>
<line x1="1608.7" y1="385.4" x2="1603.1" y2="385.8" stroke="#3FAE90" stroke-width="1.7" stroke-linecap="round" stroke-opacity="0.8"/>
<line x1="1609.5" y1="404.2" x2="1613.2" y2="407.5" stroke="#FFFFFF" stroke-width="1.9" stroke-linecap="round" stroke-opacity="0.8"/>
<line x1="1600.3" y1="407.3" x2="1594.8" y2="409.4" stroke="#3050D0" stroke-width="1.8" stroke-linecap="round" stroke-opacity="0.8"/>
<line x1="1597.3" y1="384.4" x2="1601.5" y2="385.3" stroke="#4A8ED0" stroke-width="1.6" stroke-linecap="round" stroke-opacity="0.8"/>
<line x1="1585.0" y1="400.7" x2="1584.2" y2="404.5" stroke="#66D69A" stroke-width="1.5" stroke-linecap="round" stroke-opacity="0.8"/>
<line x1="1607.3" y1="402.7" x2="1601.4" y2="405.5" stroke="#FFFFFF" stroke-width="1.8" stroke-linecap="round" stroke-opacity="0.8"/>
<line x1="1608.0" y1="398.6" x2="1612.1" y2="398.8" stroke="#3FAE90" stroke-width="1.8" stroke-linecap="round" stroke-opacity="0.8"/>
<line x1="1586.6" y1="383.8" x2="1587.5" y2="390.2" stroke="#66D69A" stroke-width="1.7" stroke-linecap="round" stroke-opacity="0.8"/>
<line x1="1604.3" y1="400.1" x2="1607.7" y2="401.7" stroke="#66D69A" stroke-width="1.8" stroke-linecap="round" stroke-opacity="0.8"/>
<line x1="1602.7" y1="393.2" x2="1605.0" y2="398.2" stroke="#A6E3BE" stroke-width="2.1" stroke-linecap="round" stroke-opacity="0.8"/>
<line x1="1579.1" y1="398.8" x2="1584.4" y2="399.7" stroke="#3050D0" stroke-width="1.5" stroke-linecap="round" stroke-opacity="0.8"/>
<line x1="1591.9" y1="398.2" x2="1596.2" y2="400.0" stroke="#3FAE90" stroke-width="1.5" stroke-linecap="round" stroke-opacity="0.8"/>
<line x1="1593.6" y1="383.6" x2="1592.4" y2="389.5" stroke="#A6E3BE" stroke-width="2.0" stroke-linecap="round" stroke-opacity="0.8"/>
<line x1="1589.8" y1="388.6" x2="1586.7" y2="389.1" stroke="#66D69A" stroke-width="2.3" stroke-linecap="round" stroke-opacity="0.8"/>
<line x1="1611.7" y1="399.3" x2="1617.1" y2="402.9" stroke="#3FAE90" stroke-width="1.4" stroke-linecap="round" stroke-opacity="0.8"/>
<line x1="1594.5" y1="396.5" x2="1587.8" y2="398.4" stroke="#A6E3BE" stroke-width="1.8" stroke-linecap="round" stroke-opacity="0.8"/>
<line x1="1608.0" y1="398.2" x2="1612.5" y2="401.2" stroke="#FFFFFF" stroke-width="1.8" stroke-linecap="round" stroke-opacity="0.8"/>
<line x1="1584.9" y1="395.1" x2="1585.5" y2="398.7" stroke="#3FAE90" stroke-width="1.5" stroke-linecap="round" stroke-opacity="0.8"/>
<line x1="1601.5" y1="412.6" x2="1604.5" y2="414.5" stroke="#FFFFFF" stroke-width="2.3" stroke-linecap="round" stroke-opacity="0.8"/>
<line x1="1594.8" y1="394.2" x2="1589.8" y2="398.8" stroke="#A6E3BE" stroke-width="2.1" stroke-linecap="round" stroke-opacity="0.8"/>
<line x1="1588.6" y1="396.6" x2="1590.4" y2="401.9" stroke="#FFFFFF" stroke-width="1.4" stroke-linecap="round" stroke-opacity="0.8"/>
<line x1="1593.6" y1="408.8" x2="1595.3" y2="411.9" stroke="#FFFFFF" stroke-width="1.7" stroke-linecap="round" stroke-opacity="0.8"/>
<line x1="1595.4" y1="382.1" x2="1600.4" y2="382.8" stroke="#A6E3BE" stroke-width="1.8" stroke-linecap="round" stroke-opacity="0.8"/>
<line x1="1600.5" y1="385.3" x2="1600.3" y2="391.4" stroke="#4A8ED0" stroke-width="1.8" stroke-linecap="round" stroke-opacity="0.8"/>
<line x1="1603.8" y1="404.5" x2="1597.3" y2="407.2" stroke="#66D69A" stroke-width="1.7" stroke-linecap="round" stroke-opacity="0.8"/>
<line x1="1596.1" y1="381.2" x2="1600.3" y2="381.6" stroke="#A6E3BE" stroke-width="2.1" stroke-linecap="round" stroke-opacity="0.8"/>
<line x1="1613.0" y1="391.9" x2="1611.1" y2="394.9" stroke="#3FAE90" stroke-width="1.4" stroke-linecap="round" stroke-opacity="0.8"/>
<line x1="1591.5" y1="410.8" x2="1592.3" y2="415.3" stroke="#3FAE90" stroke-width="1.6" stroke-linecap="round" stroke-opacity="0.8"/>
<line x1="1594.5" y1="383.3" x2="1600.2" y2="384.5" stroke="#3050D0" stroke-width="1.9" stroke-linecap="round" stroke-opacity="0.8"/>
<line x1="1582.9" y1="409.3" x2="1589.3" y2="410.3" stroke="#66D69A" stroke-width="1.8" stroke-linecap="round" stroke-opacity="0.8"/>
<line x1="1596.6" y1="384.1" x2="1594.1" y2="387.0" stroke="#3FAE90" stroke-width="2.0" stroke-linecap="round" stroke-opacity="0.8"/>
<line x1="1606.5" y1="383.1" x2="1604.5" y2="386.7" stroke="#66D69A" stroke-width="2.3" stroke-linecap="round" stroke-opacity="0.8"/>
<line x1="1589.7" y1="403.5" x2="1593.8" y2="409.1" stroke="#FFFFFF" stroke-width="2.3" stroke-linecap="round" stroke-opacity="0.8"/>
<line x1="1611.2" y1="400.9" x2="1617.5" y2="400.9" stroke="#66D69A" stroke-width="1.6" stroke-linecap="round" stroke-opacity="0.8"/>
<line x1="1600.8" y1="406.8" x2="1604.3" y2="406.8" stroke="#66D69A" stroke-width="2.0" stroke-linecap="round" stroke-opacity="0.8"/>
<line x1="1613.4" y1="404.7" x2="1609.1" y2="405.3" stroke="#66D69A" stroke-width="1.9" stroke-linecap="round" stroke-opacity="0.8"/>
<line x1="1590.2" y1="390.6" x2="1588.1" y2="395.4" stroke="#A6E3BE" stroke-width="1.7" stroke-linecap="round" stroke-opacity="0.8"/>
<line x1="1594.1" y1="382.9" x2="1600.1" y2="385.5" stroke="#66D69A" stroke-width="1.6" stroke-linecap="round" stroke-opacity="0.8"/>
<line x1="1593.2" y1="406.7" x2="1593.8" y2="412.7" stroke="#4A8ED0" stroke-width="1.9" stroke-linecap="round" stroke-opacity="0.8"/>
<line x1="1587.2" y1="386.0" x2="1588.6" y2="392.5" stroke="#FFFFFF" stroke-width="2.3" stroke-linecap="round" stroke-opacity="0.8"/>
<line x1="1602.8" y1="391.5" x2="1607.8" y2="395.9" stroke="#A6E3BE" stroke-width="2.1" stroke-linecap="round" stroke-opacity="0.8"/>
<line x1="1605.8" y1="410.4" x2="1600.9" y2="415.3" stroke="#66D69A" stroke-width="2.1" stroke-linecap="round" stroke-opacity="0.8"/>
<line x1="1587.7" y1="411.8" x2="1591.5" y2="413.7" stroke="#3FAE90" stroke-width="1.3" stroke-linecap="round" stroke-opacity="0.8"/>
<line x1="1598.0" y1="381.3" x2="1603.0" y2="385.2" stroke="#3FAE90" stroke-width="1.5" stroke-linecap="round" stroke-opacity="0.8"/>
<line x1="1609.3" y1="405.2" x2="1614.0" y2="405.9" stroke="#A6E3BE" stroke-width="1.4" stroke-linecap="round" stroke-opacity="0.8"/>
<line x1="1602.0" y1="382.6" x2="1605.2" y2="385.3" stroke="#3FAE90" stroke-width="1.6" stroke-linecap="round" stroke-opacity="0.8"/>
<line x1="1605.8" y1="409.9" x2="1601.2" y2="411.5" stroke="#A6E3BE" stroke-width="2.2" stroke-linecap="round" stroke-opacity="0.8"/>
<line x1="1594.5" y1="411.1" x2="1597.6" y2="416.4" stroke="#3FAE90" stroke-width="1.4" stroke-linecap="round" stroke-opacity="0.8"/>
<line x1="1609.6" y1="392.0" x2="1611.8" y2="398.0" stroke="#66D69A" stroke-width="1.4" stroke-linecap="round" stroke-opacity="0.8"/>
<line x1="1590.8" y1="395.9" x2="1593.9" y2="398.8" stroke="#66D69A" stroke-width="1.6" stroke-linecap="round" stroke-opacity="0.8"/>
<line x1="1598.7" y1="408.4" x2="1596.3" y2="412.5" stroke="#3050D0" stroke-width="1.7" stroke-linecap="round" stroke-opacity="0.8"/>
<ellipse cx="1590.9" cy="401.5" rx="3.2" ry="1.8" fill="#2A35CC" transform="rotate(6 1590.9 401.5)"/>
</g>
<g filter="url(#pblur)">
<ellipse cx="1689.1" cy="413.7" rx="15.0" ry="16.3" fill="#FFFFFF" fill-opacity="0.6"/>
<ellipse cx="1693.6" cy="393.3" rx="15.0" ry="16.3" fill="#FFFFFF" fill-opacity="0.6"/>
<line x1="1684.5" y1="402.2" x2="1688.4" y2="402.3" stroke="#FFFFFF" stroke-width="2.2" stroke-linecap="round" stroke-opacity="0.8"/>
<line x1="1690.8" y1="384.1" x2="1692.6" y2="386.6" stroke="#EDE070" stroke-width="1.6" stroke-linecap="round" stroke-opacity="0.8"/>
<line x1="1701.0" y1="403.6" x2="1703.3" y2="405.6" stroke="#EDE070" stroke-width="1.9" stroke-linecap="round" stroke-opacity="0.8"/>
<line x1="1696.9" y1="393.9" x2="1702.6" y2="394.4" stroke="#E0603A" stroke-width="1.8" stroke-linecap="round" stroke-opacity="0.8"/>
<line x1="1686.2" y1="384.0" x2="1688.8" y2="389.6" stroke="#EDE070" stroke-width="1.7" stroke-linecap="round" stroke-opacity="0.8"/>
<line x1="1705.9" y1="399.0" x2="1700.4" y2="399.9" stroke="#EFA040" stroke-width="1.6" stroke-linecap="round" stroke-opacity="0.8"/>
<line x1="1705.1" y1="397.8" x2="1712.1" y2="397.9" stroke="#CCCB62" stroke-width="1.7" stroke-linecap="round" stroke-opacity="0.8"/>
<line x1="1682.4" y1="393.4" x2="1687.1" y2="394.4" stroke="#EDE070" stroke-width="2.0" stroke-linecap="round" stroke-opacity="0.8"/>
<line x1="1690.1" y1="391.3" x2="1696.5" y2="391.6" stroke="#CCCB62" stroke-width="2.1" stroke-linecap="round" stroke-opacity="0.8"/>
<line x1="1691.8" y1="385.0" x2="1691.8" y2="390.4" stroke="#CCCB62" stroke-width="1.3" stroke-linecap="round" stroke-opacity="0.8"/>
<line x1="1695.0" y1="399.4" x2="1701.6" y2="400.0" stroke="#FFFFFF" stroke-width="1.3" stroke-linecap="round" stroke-opacity="0.8"/>
<line x1="1688.8" y1="382.4" x2="1683.8" y2="383.1" stroke="#FFFFFF" stroke-width="2.1" stroke-linecap="round" stroke-opacity="0.8"/>
<line x1="1686.8" y1="379.0" x2="1684.2" y2="382.4" stroke="#EDE070" stroke-width="1.8" stroke-linecap="round" stroke-opacity="0.8"/>
<line x1="1690.9" y1="402.7" x2="1697.1" y2="405.0" stroke="#F7F0B0" stroke-width="2.0" stroke-linecap="round" stroke-opacity="0.8"/>
<line x1="1708.4" y1="385.2" x2="1704.6" y2="390.7" stroke="#F7F0B0" stroke-width="1.5" stroke-linecap="round" stroke-opacity="0.8"/>
<line x1="1683.6" y1="388.2" x2="1690.0" y2="390.3" stroke="#EDE070" stroke-width="1.4" stroke-linecap="round" stroke-opacity="0.8"/>
<line x1="1690.8" y1="392.2" x2="1691.5" y2="398.7" stroke="#FFFFFF" stroke-width="1.6" stroke-linecap="round" stroke-opacity="0.8"/>
<line x1="1708.8" y1="397.8" x2="1703.2" y2="399.1" stroke="#FFFFFF" stroke-width="1.8" stroke-linecap="round" stroke-opacity="0.8"/>
<line x1="1697.7" y1="395.9" x2="1701.2" y2="400.2" stroke="#FFFFFF" stroke-width="1.8" stroke-linecap="round" stroke-opacity="0.8"/>
<line x1="1702.9" y1="400.3" x2="1696.9" y2="402.8" stroke="#F7F0B0" stroke-width="1.7" stroke-linecap="round" stroke-opacity="0.8"/>
<line x1="1692.5" y1="399.2" x2="1696.8" y2="401.8" stroke="#E8803A" stroke-width="1.7" stroke-linecap="round" stroke-opacity="0.8"/>
<line x1="1684.3" y1="378.6" x2="1686.9" y2="382.0" stroke="#FFFFFF" stroke-width="1.4" stroke-linecap="round" stroke-opacity="0.8"/>
<line x1="1705.4" y1="399.0" x2="1709.8" y2="403.1" stroke="#EDE070" stroke-width="1.9" stroke-linecap="round" stroke-opacity="0.8"/>
<line x1="1693.8" y1="403.5" x2="1698.6" y2="404.8" stroke="#F7F0B0" stroke-width="1.9" stroke-linecap="round" stroke-opacity="0.8"/>
<line x1="1685.4" y1="380.4" x2="1688.5" y2="381.2" stroke="#EDE070" stroke-width="1.8" stroke-linecap="round" stroke-opacity="0.8"/>
<line x1="1695.1" y1="379.8" x2="1692.8" y2="382.7" stroke="#EFA040" stroke-width="1.7" stroke-linecap="round" stroke-opacity="0.8"/>
<line x1="1685.8" y1="398.3" x2="1689.7" y2="398.4" stroke="#FFFFFF" stroke-width="1.3" stroke-linecap="round" stroke-opacity="0.8"/>
<line x1="1688.9" y1="404.2" x2="1685.8" y2="405.2" stroke="#EDE070" stroke-width="1.3" stroke-linecap="round" stroke-opacity="0.8"/>
<line x1="1687.0" y1="386.9" x2="1691.5" y2="390.6" stroke="#EFA040" stroke-width="1.8" stroke-linecap="round" stroke-opacity="0.8"/>
<line x1="1703.9" y1="378.1" x2="1699.8" y2="382.9" stroke="#E8803A" stroke-width="2.2" stroke-linecap="round" stroke-opacity="0.8"/>
<line x1="1693.4" y1="393.0" x2="1693.2" y2="399.2" stroke="#E0603A" stroke-width="1.5" stroke-linecap="round" stroke-opacity="0.8"/>
<line x1="1686.9" y1="386.6" x2="1683.8" y2="390.4" stroke="#D9472F" stroke-width="1.5" stroke-linecap="round" stroke-opacity="0.8"/>
<line x1="1698.3" y1="398.0" x2="1692.4" y2="398.1" stroke="#EDE070" stroke-width="2.1" stroke-linecap="round" stroke-opacity="0.8"/>
<line x1="1701.4" y1="388.6" x2="1697.7" y2="394.2" stroke="#F7F0B0" stroke-width="2.0" stroke-linecap="round" stroke-opacity="0.8"/>
<line x1="1690.6" y1="377.0" x2="1691.4" y2="380.8" stroke="#EDE070" stroke-width="1.5" stroke-linecap="round" stroke-opacity="0.8"/>
<line x1="1695.0" y1="394.6" x2="1699.7" y2="397.1" stroke="#F7F0B0" stroke-width="2.0" stroke-linecap="round" stroke-opacity="0.8"/>
<line x1="1694.7" y1="398.6" x2="1700.3" y2="400.8" stroke="#F7F0B0" stroke-width="2.2" stroke-linecap="round" stroke-opacity="0.8"/>
<line x1="1687.7" y1="394.1" x2="1690.1" y2="398.9" stroke="#FFFFFF" stroke-width="1.7" stroke-linecap="round" stroke-opacity="0.8"/>
<line x1="1686.7" y1="397.1" x2="1683.4" y2="397.6" stroke="#CCCB62" stroke-width="1.7" stroke-linecap="round" stroke-opacity="0.8"/>
<line x1="1697.6" y1="378.0" x2="1694.6" y2="383.3" stroke="#FFFFFF" stroke-width="1.6" stroke-linecap="round" stroke-opacity="0.8"/>
<line x1="1682.8" y1="389.5" x2="1684.2" y2="394.9" stroke="#F7F0B0" stroke-width="2.3" stroke-linecap="round" stroke-opacity="0.8"/>
<line x1="1696.8" y1="393.8" x2="1694.1" y2="399.7" stroke="#F7F0B0" stroke-width="2.0" stroke-linecap="round" stroke-opacity="0.8"/>
<line x1="1688.8" y1="389.0" x2="1694.8" y2="392.4" stroke="#CCCB62" stroke-width="2.2" stroke-linecap="round" stroke-opacity="0.8"/>
<line x1="1698.4" y1="402.7" x2="1696.9" y2="408.1" stroke="#E0603A" stroke-width="2.3" stroke-linecap="round" stroke-opacity="0.8"/>
<line x1="1699.2" y1="391.7" x2="1698.6" y2="396.8" stroke="#CCCB62" stroke-width="2.3" stroke-linecap="round" stroke-opacity="0.8"/>
<line x1="1688.3" y1="402.9" x2="1689.1" y2="408.0" stroke="#E0603A" stroke-width="1.9" stroke-linecap="round" stroke-opacity="0.8"/>
<line x1="1702.5" y1="388.3" x2="1707.0" y2="389.5" stroke="#F29C5A" stroke-width="2.0" stroke-linecap="round" stroke-opacity="0.8"/>
<line x1="1705.6" y1="385.4" x2="1703.7" y2="389.0" stroke="#EDE070" stroke-width="2.0" stroke-linecap="round" stroke-opacity="0.8"/>
<line x1="1704.3" y1="387.8" x2="1698.4" y2="389.8" stroke="#CCCB62" stroke-width="1.6" stroke-linecap="round" stroke-opacity="0.8"/>
<line x1="1686.0" y1="405.8" x2="1692.1" y2="406.2" stroke="#E0603A" stroke-width="1.4" stroke-linecap="round" stroke-opacity="0.8"/>
<line x1="1703.3" y1="385.3" x2="1699.2" y2="387.6" stroke="#CCCB62" stroke-width="1.5" stroke-linecap="round" stroke-opacity="0.8"/>
<line x1="1706.9" y1="389.6" x2="1701.5" y2="391.9" stroke="#F7F0B0" stroke-width="2.1" stroke-linecap="round" stroke-opacity="0.8"/>
<line x1="1699.4" y1="400.8" x2="1701.3" y2="407.3" stroke="#EDE070" stroke-width="2.1" stroke-linecap="round" stroke-opacity="0.8"/>
<line x1="1695.3" y1="375.9" x2="1690.6" y2="380.1" stroke="#CCCB62" stroke-width="1.6" stroke-linecap="round" stroke-opacity="0.8"/>
<line x1="1696.8" y1="401.5" x2="1700.3" y2="404.2" stroke="#EDE070" stroke-width="2.0" stroke-linecap="round" stroke-opacity="0.8"/>
<line x1="1695.8" y1="381.9" x2="1699.1" y2="381.9" stroke="#EFA040" stroke-width="1.3" stroke-linecap="round" stroke-opacity="0.8"/>
<line x1="1702.9" y1="401.0" x2="1706.4" y2="402.4" stroke="#EDE070" stroke-width="1.8" stroke-linecap="round" stroke-opacity="0.8"/>
<line x1="1707.8" y1="393.6" x2="1708.8" y2="397.5" stroke="#D9472F" stroke-width="1.4" stroke-linecap="round" stroke-opacity="0.8"/>
<line x1="1682.3" y1="397.8" x2="1685.5" y2="400.2" stroke="#CCCB62" stroke-width="1.5" stroke-linecap="round" stroke-opacity="0.8"/>
<line x1="1693.5" y1="387.0" x2="1686.7" y2="387.7" stroke="#D9472F" stroke-width="1.4" stroke-linecap="round" stroke-opacity="0.8"/>
<line x1="1687.9" y1="379.7" x2="1682.2" y2="383.7" stroke="#CCCB62" stroke-width="1.7" stroke-linecap="round" stroke-opacity="0.8"/>
<line x1="1691.9" y1="376.7" x2="1685.7" y2="379.0" stroke="#CCCB62" stroke-width="1.6" stroke-linecap="round" stroke-opacity="0.8"/>
<line x1="1695.0" y1="377.3" x2="1697.7" y2="380.0" stroke="#FFFFFF" stroke-width="1.3" stroke-linecap="round" stroke-opacity="0.8"/>
<line x1="1701.9" y1="388.6" x2="1703.9" y2="395.3" stroke="#FFFFFF" stroke-width="1.7" stroke-linecap="round" stroke-opacity="0.8"/>
<line x1="1682.4" y1="385.4" x2="1685.2" y2="388.2" stroke="#D9472F" stroke-width="1.5" stroke-linecap="round" stroke-opacity="0.8"/>
<line x1="1697.1" y1="396.8" x2="1697.2" y2="403.7" stroke="#FFFFFF" stroke-width="1.4" stroke-linecap="round" stroke-opacity="0.8"/>
<line x1="1696.8" y1="382.1" x2="1699.4" y2="388.3" stroke="#FFFFFF" stroke-width="1.6" stroke-linecap="round" stroke-opacity="0.8"/>
<line x1="1688.0" y1="406.3" x2="1692.6" y2="406.4" stroke="#CCCB62" stroke-width="2.3" stroke-linecap="round" stroke-opacity="0.8"/>
<line x1="1704.6" y1="389.5" x2="1707.5" y2="391.8" stroke="#E8803A" stroke-width="2.2" stroke-linecap="round" stroke-opacity="0.8"/>
<line x1="1682.5" y1="384.7" x2="1685.5" y2="385.6" stroke="#F7F0B0" stroke-width="1.8" stroke-linecap="round" stroke-opacity="0.8"/>
<line x1="1681.7" y1="380.4" x2="1682.2" y2="384.5" stroke="#FFFFFF" stroke-width="2.2" stroke-linecap="round" stroke-opacity="0.8"/>
<line x1="1690.5" y1="381.9" x2="1695.0" y2="386.0" stroke="#EDE070" stroke-width="2.3" stroke-linecap="round" stroke-opacity="0.8"/>
<line x1="1688.0" y1="406.0" x2="1693.9" y2="408.4" stroke="#EDE070" stroke-width="1.4" stroke-linecap="round" stroke-opacity="0.8"/>
<line x1="1704.5" y1="394.5" x2="1706.5" y2="400.6" stroke="#EDE070" stroke-width="1.5" stroke-linecap="round" stroke-opacity="0.8"/>
<line x1="1688.8" y1="404.9" x2="1693.2" y2="405.1" stroke="#CCCB62" stroke-width="1.7" stroke-linecap="round" stroke-opacity="0.8"/>
<line x1="1687.1" y1="383.1" x2="1690.7" y2="386.6" stroke="#FFFFFF" stroke-width="1.9" stroke-linecap="round" stroke-opacity="0.8"/>
<line x1="1700.3" y1="395.1" x2="1697.4" y2="401.1" stroke="#D9472F" stroke-width="1.4" stroke-linecap="round" stroke-opacity="0.8"/>
<line x1="1705.8" y1="404.9" x2="1702.2" y2="406.0" stroke="#EFA040" stroke-width="1.9" stroke-linecap="round" stroke-opacity="0.8"/>
<line x1="1703.5" y1="401.3" x2="1700.9" y2="404.1" stroke="#F29C5A" stroke-width="1.9" stroke-linecap="round" stroke-opacity="0.8"/>
<line x1="1683.8" y1="391.6" x2="1689.2" y2="392.2" stroke="#FFFFFF" stroke-width="1.5" stroke-linecap="round" stroke-opacity="0.8"/>
<line x1="1698.4" y1="378.5" x2="1694.4" y2="380.7" stroke="#E8803A" stroke-width="2.1" stroke-linecap="round" stroke-opacity="0.8"/>
<line x1="1695.8" y1="406.9" x2="1694.5" y2="412.5" stroke="#F29C5A" stroke-width="1.3" stroke-linecap="round" stroke-opacity="0.8"/>
<line x1="1689.1" y1="388.6" x2="1692.7" y2="389.0" stroke="#CCCB62" stroke-width="1.7" stroke-linecap="round" stroke-opacity="0.8"/>
<line x1="1688.4" y1="403.2" x2="1690.5" y2="407.1" stroke="#F7F0B0" stroke-width="1.9" stroke-linecap="round" stroke-opacity="0.8"/>
<line x1="1692.9" y1="377.1" x2="1696.7" y2="380.6" stroke="#FFFFFF" stroke-width="1.6" stroke-linecap="round" stroke-opacity="0.8"/>
<line x1="1690.4" y1="380.5" x2="1692.9" y2="386.8" stroke="#F7F0B0" stroke-width="1.7" stroke-linecap="round" stroke-opacity="0.8"/>
<line x1="1685.5" y1="397.9" x2="1686.7" y2="404.0" stroke="#E0603A" stroke-width="2.1" stroke-linecap="round" stroke-opacity="0.8"/>
<line x1="1691.7" y1="385.2" x2="1686.7" y2="389.7" stroke="#EFA040" stroke-width="1.7" stroke-linecap="round" stroke-opacity="0.8"/>
<line x1="1693.1" y1="392.5" x2="1691.2" y2="396.0" stroke="#E0603A" stroke-width="2.3" stroke-linecap="round" stroke-opacity="0.8"/>
<line x1="1696.7" y1="386.8" x2="1693.2" y2="391.7" stroke="#E0603A" stroke-width="1.5" stroke-linecap="round" stroke-opacity="0.8"/>
<line x1="1706.5" y1="398.5" x2="1702.6" y2="400.6" stroke="#F29C5A" stroke-width="2.2" stroke-linecap="round" stroke-opacity="0.8"/>
<line x1="1684.0" y1="384.7" x2="1680.5" y2="385.0" stroke="#FFFFFF" stroke-width="1.5" stroke-linecap="round" stroke-opacity="0.8"/>
<line x1="1687.6" y1="390.5" x2="1691.1" y2="393.8" stroke="#FFFFFF" stroke-width="1.8" stroke-linecap="round" stroke-opacity="0.8"/>
<line x1="1697.7" y1="385.2" x2="1702.3" y2="386.5" stroke="#EDE070" stroke-width="1.5" stroke-linecap="round" stroke-opacity="0.8"/>
<line x1="1694.2" y1="392.3" x2="1691.4" y2="396.9" stroke="#F7F0B0" stroke-width="1.6" stroke-linecap="round" stroke-opacity="0.8"/>
<line x1="1684.2" y1="410.1" x2="1681.6" y2="415.2" stroke="#FFFFFF" stroke-width="2.1" stroke-linecap="round" stroke-opacity="0.8"/>
<line x1="1687.7" y1="402.7" x2="1692.1" y2="405.0" stroke="#3050D0" stroke-width="1.4" stroke-linecap="round" stroke-opacity="0.8"/>
<line x1="1681.8" y1="403.9" x2="1687.2" y2="404.6" stroke="#3FAE90" stroke-width="1.6" stroke-linecap="round" stroke-opacity="0.8"/>
<line x1="1676.8" y1="405.4" x2="1676.1" y2="408.9" stroke="#3FAE90" stroke-width="2.2" stroke-linecap="round" stroke-opacity="0.8"/>
<line x1="1680.9" y1="400.6" x2="1682.6" y2="405.0" stroke="#66D69A" stroke-width="2.2" stroke-linecap="round" stroke-opacity="0.8"/>
<line x1="1687.3" y1="423.7" x2="1688.3" y2="429.6" stroke="#3FAE90" stroke-width="2.1" stroke-linecap="round" stroke-opacity="0.8"/>
<line x1="1698.4" y1="399.8" x2="1702.2" y2="405.5" stroke="#A6E3BE" stroke-width="1.9" stroke-linecap="round" stroke-opacity="0.8"/>
<line x1="1704.1" y1="417.4" x2="1703.8" y2="421.1" stroke="#A6E3BE" stroke-width="1.7" stroke-linecap="round" stroke-opacity="0.8"/>
<line x1="1688.6" y1="417.7" x2="1691.6" y2="418.1" stroke="#A6E3BE" stroke-width="2.2" stroke-linecap="round" stroke-opacity="0.8"/>
<line x1="1690.5" y1="398.2" x2="1693.7" y2="401.3" stroke="#4A8ED0" stroke-width="2.2" stroke-linecap="round" stroke-opacity="0.8"/>
<line x1="1695.2" y1="405.0" x2="1698.2" y2="408.3" stroke="#FFFFFF" stroke-width="1.6" stroke-linecap="round" stroke-opacity="0.8"/>
<line x1="1690.1" y1="428.9" x2="1694.1" y2="430.2" stroke="#FFFFFF" stroke-width="1.8" stroke-linecap="round" stroke-opacity="0.8"/>
<line x1="1687.6" y1="403.4" x2="1691.3" y2="406.0" stroke="#A6E3BE" stroke-width="2.1" stroke-linecap="round" stroke-opacity="0.8"/>
<line x1="1688.7" y1="402.0" x2="1685.6" y2="404.9" stroke="#66D69A" stroke-width="2.0" stroke-linecap="round" stroke-opacity="0.8"/>
<line x1="1680.6" y1="407.5" x2="1681.6" y2="412.6" stroke="#4A8ED0" stroke-width="1.4" stroke-linecap="round" stroke-opacity="0.8"/>
<line x1="1678.2" y1="421.8" x2="1679.9" y2="424.8" stroke="#3050D0" stroke-width="1.5" stroke-linecap="round" stroke-opacity="0.8"/>
<line x1="1681.0" y1="421.2" x2="1679.3" y2="424.2" stroke="#A6E3BE" stroke-width="1.4" stroke-linecap="round" stroke-opacity="0.8"/>
<line x1="1688.7" y1="396.2" x2="1690.7" y2="400.1" stroke="#66D69A" stroke-width="2.0" stroke-linecap="round" stroke-opacity="0.8"/>
<line x1="1691.2" y1="408.0" x2="1693.6" y2="410.3" stroke="#3FAE90" stroke-width="1.7" stroke-linecap="round" stroke-opacity="0.8"/>
<line x1="1700.3" y1="406.2" x2="1696.7" y2="408.1" stroke="#66D69A" stroke-width="1.9" stroke-linecap="round" stroke-opacity="0.8"/>
<line x1="1691.5" y1="417.8" x2="1692.7" y2="421.4" stroke="#66D69A" stroke-width="1.7" stroke-linecap="round" stroke-opacity="0.8"/>
<line x1="1694.7" y1="404.0" x2="1697.7" y2="404.4" stroke="#66D69A" stroke-width="2.1" stroke-linecap="round" stroke-opacity="0.8"/>
<line x1="1685.2" y1="412.2" x2="1691.6" y2="412.4" stroke="#FFFFFF" stroke-width="2.2" stroke-linecap="round" stroke-opacity="0.8"/>
<line x1="1698.1" y1="413.0" x2="1695.0" y2="414.6" stroke="#66D69A" stroke-width="2.2" stroke-linecap="round" stroke-opacity="0.8"/>
<line x1="1697.5" y1="415.0" x2="1700.3" y2="416.6" stroke="#3FAE90" stroke-width="2.1" stroke-linecap="round" stroke-opacity="0.8"/>
<line x1="1697.1" y1="412.5" x2="1698.5" y2="415.5" stroke="#3FAE90" stroke-width="2.2" stroke-linecap="round" stroke-opacity="0.8"/>
<line x1="1697.1" y1="398.3" x2="1695.9" y2="401.3" stroke="#A6E3BE" stroke-width="1.5" stroke-linecap="round" stroke-opacity="0.8"/>
<line x1="1693.6" y1="398.6" x2="1694.8" y2="403.7" stroke="#4A8ED0" stroke-width="1.6" stroke-linecap="round" stroke-opacity="0.8"/>
<line x1="1700.2" y1="403.3" x2="1704.0" y2="408.0" stroke="#A6E3BE" stroke-width="1.6" stroke-linecap="round" stroke-opacity="0.8"/>
<line x1="1704.0" y1="410.4" x2="1700.6" y2="412.5" stroke="#66D69A" stroke-width="1.7" stroke-linecap="round" stroke-opacity="0.8"/>
<line x1="1686.4" y1="421.2" x2="1691.2" y2="423.4" stroke="#4A8ED0" stroke-width="1.8" stroke-linecap="round" stroke-opacity="0.8"/>
<line x1="1697.6" y1="419.1" x2="1697.4" y2="422.8" stroke="#FFFFFF" stroke-width="1.7" stroke-linecap="round" stroke-opacity="0.8"/>
<line x1="1700.7" y1="419.6" x2="1700.9" y2="423.3" stroke="#FFFFFF" stroke-width="2.3" stroke-linecap="round" stroke-opacity="0.8"/>
<line x1="1700.8" y1="409.4" x2="1704.5" y2="411.9" stroke="#A6E3BE" stroke-width="2.1" stroke-linecap="round" stroke-opacity="0.8"/>
<line x1="1685.4" y1="421.4" x2="1680.9" y2="424.9" stroke="#3FAE90" stroke-width="1.3" stroke-linecap="round" stroke-opacity="0.8"/>
<line x1="1698.8" y1="401.3" x2="1699.0" y2="407.9" stroke="#FFFFFF" stroke-width="1.4" stroke-linecap="round" stroke-opacity="0.8"/>
<line x1="1676.4" y1="412.2" x2="1671.3" y2="414.4" stroke="#FFFFFF" stroke-width="1.3" stroke-linecap="round" stroke-opacity="0.8"/>
<line x1="1685.5" y1="414.5" x2="1681.9" y2="416.6" stroke="#4A8ED0" stroke-width="1.5" stroke-linecap="round" stroke-opacity="0.8"/>
<line x1="1690.2" y1="400.0" x2="1690.4" y2="403.2" stroke="#3FAE90" stroke-width="1.8" stroke-linecap="round" stroke-opacity="0.8"/>
<line x1="1705.5" y1="412.1" x2="1703.1" y2="414.7" stroke="#66D69A" stroke-width="1.6" stroke-linecap="round" stroke-opacity="0.8"/>
<line x1="1681.0" y1="413.5" x2="1680.0" y2="417.7" stroke="#66D69A" stroke-width="1.6" stroke-linecap="round" stroke-opacity="0.8"/>
<line x1="1688.0" y1="422.7" x2="1694.6" y2="423.1" stroke="#FFFFFF" stroke-width="1.5" stroke-linecap="round" stroke-opacity="0.8"/>
<line x1="1687.9" y1="425.3" x2="1690.9" y2="428.9" stroke="#A6E3BE" stroke-width="1.9" stroke-linecap="round" stroke-opacity="0.8"/>
<line x1="1695.1" y1="424.4" x2="1691.1" y2="427.8" stroke="#FFFFFF" stroke-width="1.7" stroke-linecap="round" stroke-opacity="0.8"/>
<line x1="1697.4" y1="407.2" x2="1694.1" y2="411.0" stroke="#A6E3BE" stroke-width="2.3" stroke-linecap="round" stroke-opacity="0.8"/>
<line x1="1697.8" y1="403.0" x2="1703.0" y2="406.3" stroke="#4A8ED0" stroke-width="2.0" stroke-linecap="round" stroke-opacity="0.8"/>
<line x1="1696.7" y1="425.6" x2="1691.3" y2="429.3" stroke="#A6E3BE" stroke-width="2.2" stroke-linecap="round" stroke-opacity="0.8"/>
<line x1="1683.1" y1="414.6" x2="1676.9" y2="416.6" stroke="#3050D0" stroke-width="1.7" stroke-linecap="round" stroke-opacity="0.8"/>
<line x1="1699.2" y1="401.6" x2="1694.8" y2="404.9" stroke="#FFFFFF" stroke-width="1.7" stroke-linecap="round" stroke-opacity="0.8"/>
<line x1="1699.7" y1="419.8" x2="1705.5" y2="421.6" stroke="#A6E3BE" stroke-width="2.1" stroke-linecap="round" stroke-opacity="0.8"/>
<line x1="1694.6" y1="423.9" x2="1690.0" y2="428.7" stroke="#66D69A" stroke-width="1.4" stroke-linecap="round" stroke-opacity="0.8"/>
<line x1="1697.0" y1="398.1" x2="1700.6" y2="403.3" stroke="#3FAE90" stroke-width="1.7" stroke-linecap="round" stroke-opacity="0.8"/>
<line x1="1686.1" y1="411.7" x2="1689.1" y2="412.6" stroke="#3050D0" stroke-width="2.2" stroke-linecap="round" stroke-opacity="0.8"/>
<line x1="1685.4" y1="406.5" x2="1680.2" y2="409.3" stroke="#3050D0" stroke-width="1.5" stroke-linecap="round" stroke-opacity="0.8"/>
<line x1="1694.5" y1="397.5" x2="1693.3" y2="400.7" stroke="#FFFFFF" stroke-width="1.7" stroke-linecap="round" stroke-opacity="0.8"/>
<line x1="1677.4" y1="409.3" x2="1674.4" y2="411.3" stroke="#3FAE90" stroke-width="1.9" stroke-linecap="round" stroke-opacity="0.8"/>
<line x1="1681.3" y1="414.9" x2="1678.1" y2="420.1" stroke="#FFFFFF" stroke-width="2.0" stroke-linecap="round" stroke-opacity="0.8"/>
<line x1="1680.3" y1="417.6" x2="1684.7" y2="421.3" stroke="#3050D0" stroke-width="1.9" stroke-linecap="round" stroke-opacity="0.8"/>
<line x1="1693.1" y1="421.1" x2="1690.4" y2="424.1" stroke="#FFFFFF" stroke-width="2.0" stroke-linecap="round" stroke-opacity="0.8"/>
<line x1="1699.5" y1="407.6" x2="1695.4" y2="408.7" stroke="#3FAE90" stroke-width="2.0" stroke-linecap="round" stroke-opacity="0.8"/>
<line x1="1679.9" y1="415.4" x2="1676.3" y2="417.3" stroke="#A6E3BE" stroke-width="1.8" stroke-linecap="round" stroke-opacity="0.8"/>
<line x1="1696.6" y1="414.6" x2="1697.7" y2="419.0" stroke="#A6E3BE" stroke-width="2.0" stroke-linecap="round" stroke-opacity="0.8"/>
<line x1="1691.1" y1="422.3" x2="1696.0" y2="426.1" stroke="#66D69A" stroke-width="1.9" stroke-linecap="round" stroke-opacity="0.8"/>
<line x1="1673.4" y1="417.8" x2="1678.4" y2="418.3" stroke="#66D69A" stroke-width="1.5" stroke-linecap="round" stroke-opacity="0.8"/>
<line x1="1684.3" y1="408.4" x2="1688.4" y2="408.7" stroke="#FFFFFF" stroke-width="1.4" stroke-linecap="round" stroke-opacity="0.8"/>
<line x1="1699.5" y1="420.4" x2="1704.7" y2="423.2" stroke="#4A8ED0" stroke-width="1.9" stroke-linecap="round" stroke-opacity="0.8"/>
<line x1="1690.2" y1="416.3" x2="1696.2" y2="419.4" stroke="#A6E3BE" stroke-width="1.4" stroke-linecap="round" stroke-opacity="0.8"/>
<line x1="1700.7" y1="415.3" x2="1696.7" y2="416.4" stroke="#3FAE90" stroke-width="1.7" stroke-linecap="round" stroke-opacity="0.8"/>
<line x1="1686.9" y1="407.0" x2="1692.3" y2="410.5" stroke="#66D69A" stroke-width="2.1" stroke-linecap="round" stroke-opacity="0.8"/>
<line x1="1688.0" y1="408.2" x2="1688.7" y2="413.7" stroke="#FFFFFF" stroke-width="1.9" stroke-linecap="round" stroke-opacity="0.8"/>
<line x1="1694.2" y1="412.2" x2="1690.6" y2="415.8" stroke="#66D69A" stroke-width="1.3" stroke-linecap="round" stroke-opacity="0.8"/>
<line x1="1691.8" y1="411.8" x2="1695.2" y2="414.7" stroke="#66D69A" stroke-width="2.1" stroke-linecap="round" stroke-opacity="0.8"/>
<line x1="1670.9" y1="414.0" x2="1676.0" y2="415.5" stroke="#66D69A" stroke-width="1.7" stroke-linecap="round" stroke-opacity="0.8"/>
<line x1="1702.3" y1="406.7" x2="1704.4" y2="410.9" stroke="#A6E3BE" stroke-width="1.4" stroke-linecap="round" stroke-opacity="0.8"/>
<line x1="1689.9" y1="406.8" x2="1684.9" y2="411.7" stroke="#4A8ED0" stroke-width="2.0" stroke-linecap="round" stroke-opacity="0.8"/>
<ellipse cx="1690.9" cy="405.6" rx="3.2" ry="1.8" fill="#2A35CC" transform="rotate(22 1690.9 405.6)"/>
</g>
<g filter="url(#pblur)">
<ellipse cx="1786.3" cy="400.9" rx="17.1" ry="17.4" fill="#FFFFFF" fill-opacity="0.6"/>
<ellipse cx="1806.5" cy="392.7" rx="17.1" ry="17.4" fill="#FFFFFF" fill-opacity="0.6"/>
<line x1="1791.9" y1="389.1" x2="1788.8" y2="391.9" stroke="#EDE070" stroke-width="2.0" stroke-linecap="round" stroke-opacity="0.8"/>
<line x1="1805.0" y1="386.6" x2="1801.6" y2="388.8" stroke="#F7F0B0" stroke-width="1.7" stroke-linecap="round" stroke-opacity="0.8"/>
<line x1="1820.0" y1="379.8" x2="1813.7" y2="380.9" stroke="#E8803A" stroke-width="1.7" stroke-linecap="round" stroke-opacity="0.8"/>
<line x1="1808.5" y1="390.9" x2="1813.5" y2="394.5" stroke="#CCCB62" stroke-width="2.2" stroke-linecap="round" stroke-opacity="0.8"/>
<line x1="1790.8" y1="387.5" x2="1790.3" y2="391.3" stroke="#E8803A" stroke-width="2.2" stroke-linecap="round" stroke-opacity="0.8"/>
<line x1="1802.3" y1="384.0" x2="1797.7" y2="386.2" stroke="#F7F0B0" stroke-width="1.9" stroke-linecap="round" stroke-opacity="0.8"/>
<line x1="1797.4" y1="383.2" x2="1791.3" y2="384.8" stroke="#FFFFFF" stroke-width="1.3" stroke-linecap="round" stroke-opacity="0.8"/>
<line x1="1800.7" y1="395.2" x2="1806.6" y2="396.1" stroke="#F29C5A" stroke-width="1.8" stroke-linecap="round" stroke-opacity="0.8"/>
<line x1="1805.7" y1="390.2" x2="1805.0" y2="394.0" stroke="#FFFFFF" stroke-width="2.3" stroke-linecap="round" stroke-opacity="0.8"/>
<line x1="1794.7" y1="389.7" x2="1796.8" y2="392.2" stroke="#EDE070" stroke-width="2.0" stroke-linecap="round" stroke-opacity="0.8"/>
<line x1="1813.6" y1="379.7" x2="1811.9" y2="382.7" stroke="#CCCB62" stroke-width="2.2" stroke-linecap="round" stroke-opacity="0.8"/>
<line x1="1804.1" y1="400.4" x2="1800.0" y2="403.8" stroke="#CCCB62" stroke-width="1.6" stroke-linecap="round" stroke-opacity="0.8"/>
<line x1="1822.0" y1="396.5" x2="1825.2" y2="400.1" stroke="#F7F0B0" stroke-width="1.9" stroke-linecap="round" stroke-opacity="0.8"/>
<line x1="1807.0" y1="380.5" x2="1803.3" y2="385.2" stroke="#F7F0B0" stroke-width="1.8" stroke-linecap="round" stroke-opacity="0.8"/>
<line x1="1798.5" y1="382.0" x2="1795.4" y2="385.5" stroke="#F7F0B0" stroke-width="2.3" stroke-linecap="round" stroke-opacity="0.8"/>
<line x1="1800.4" y1="386.3" x2="1793.4" y2="387.1" stroke="#EDE070" stroke-width="2.0" stroke-linecap="round" stroke-opacity="0.8"/>
<line x1="1811.9" y1="389.8" x2="1807.9" y2="391.2" stroke="#EFA040" stroke-width="1.6" stroke-linecap="round" stroke-opacity="0.8"/>
<line x1="1804.8" y1="398.2" x2="1802.3" y2="400.4" stroke="#FFFFFF" stroke-width="2.1" stroke-linecap="round" stroke-opacity="0.8"/>
<line x1="1800.5" y1="380.6" x2="1799.8" y2="385.8" stroke="#F7F0B0" stroke-width="2.3" stroke-linecap="round" stroke-opacity="0.8"/>
<line x1="1808.2" y1="408.6" x2="1810.4" y2="411.5" stroke="#E0603A" stroke-width="2.0" stroke-linecap="round" stroke-opacity="0.8"/>
<line x1="1794.6" y1="391.8" x2="1795.7" y2="395.5" stroke="#FFFFFF" stroke-width="1.9" stroke-linecap="round" stroke-opacity="0.8"/>
<line x1="1816.3" y1="396.7" x2="1818.4" y2="400.0" stroke="#EDE070" stroke-width="1.5" stroke-linecap="round" stroke-opacity="0.8"/>
<line x1="1804.6" y1="392.3" x2="1804.3" y2="397.6" stroke="#D9472F" stroke-width="1.4" stroke-linecap="round" stroke-opacity="0.8"/>
<line x1="1815.9" y1="374.1" x2="1814.7" y2="380.7" stroke="#F7F0B0" stroke-width="1.9" stroke-linecap="round" stroke-opacity="0.8"/>
<line x1="1793.8" y1="404.0" x2="1794.6" y2="407.8" stroke="#F29C5A" stroke-width="1.7" stroke-linecap="round" stroke-opacity="0.8"/>
<line x1="1811.8" y1="394.1" x2="1810.9" y2="397.8" stroke="#F7F0B0" stroke-width="2.0" stroke-linecap="round" stroke-opacity="0.8"/>
<line x1="1804.7" y1="379.4" x2="1810.5" y2="382.1" stroke="#FFFFFF" stroke-width="1.8" stroke-linecap="round" stroke-opacity="0.8"/>
<line x1="1800.0" y1="393.8" x2="1794.1" y2="397.4" stroke="#F7F0B0" stroke-width="1.8" stroke-linecap="round" stroke-opacity="0.8"/>
<line x1="1807.4" y1="383.0" x2="1805.7" y2="386.0" stroke="#EDE070" stroke-width="1.3" stroke-linecap="round" stroke-opacity="0.8"/>
<line x1="1820.8" y1="402.5" x2="1815.4" y2="402.6" stroke="#EDE070" stroke-width="1.4" stroke-linecap="round" stroke-opacity="0.8"/>
<line x1="1822.5" y1="382.5" x2="1818.4" y2="385.1" stroke="#F7F0B0" stroke-width="2.2" stroke-linecap="round" stroke-opacity="0.8"/>
<line x1="1807.9" y1="387.4" x2="1809.3" y2="393.4" stroke="#FFFFFF" stroke-width="1.4" stroke-linecap="round" stroke-opacity="0.8"/>
<line x1="1798.0" y1="389.0" x2="1799.7" y2="392.7" stroke="#EFA040" stroke-width="2.2" stroke-linecap="round" stroke-opacity="0.8"/>
<line x1="1788.3" y1="383.9" x2="1793.0" y2="384.0" stroke="#FFFFFF" stroke-width="2.1" stroke-linecap="round" stroke-opacity="0.8"/>
<line x1="1799.3" y1="403.1" x2="1796.9" y2="408.8" stroke="#CCCB62" stroke-width="2.2" stroke-linecap="round" stroke-opacity="0.8"/>
<line x1="1801.8" y1="396.4" x2="1805.5" y2="400.0" stroke="#F7F0B0" stroke-width="1.8" stroke-linecap="round" stroke-opacity="0.8"/>
<line x1="1804.7" y1="397.3" x2="1805.6" y2="400.5" stroke="#EDE070" stroke-width="2.0" stroke-linecap="round" stroke-opacity="0.8"/>
<line x1="1802.7" y1="391.3" x2="1797.3" y2="395.6" stroke="#EFA040" stroke-width="1.5" stroke-linecap="round" stroke-opacity="0.8"/>
<line x1="1805.8" y1="402.0" x2="1800.7" y2="406.2" stroke="#EFA040" stroke-width="1.9" stroke-linecap="round" stroke-opacity="0.8"/>
<line x1="1818.6" y1="382.3" x2="1818.2" y2="386.0" stroke="#F7F0B0" stroke-width="1.6" stroke-linecap="round" stroke-opacity="0.8"/>
<line x1="1812.9" y1="374.7" x2="1811.2" y2="379.0" stroke="#CCCB62" stroke-width="1.5" stroke-linecap="round" stroke-opacity="0.8"/>
<line x1="1803.0" y1="374.8" x2="1802.3" y2="379.9" stroke="#FFFFFF" stroke-width="1.7" stroke-linecap="round" stroke-opacity="0.8"/>
<line x1="1800.0" y1="390.2" x2="1800.0" y2="395.1" stroke="#EDE070" stroke-width="1.7" stroke-linecap="round" stroke-opacity="0.8"/>
<line x1="1801.8" y1="384.1" x2="1797.3" y2="385.7" stroke="#F7F0B0" stroke-width="1.7" stroke-linecap="round" stroke-opacity="0.8"/>
<line x1="1816.9" y1="407.3" x2="1812.9" y2="408.5" stroke="#F7F0B0" stroke-width="1.8" stroke-linecap="round" stroke-opacity="0.8"/>
<line x1="1812.6" y1="397.4" x2="1808.7" y2="399.2" stroke="#EDE070" stroke-width="2.2" stroke-linecap="round" stroke-opacity="0.8"/>
<line x1="1802.1" y1="389.8" x2="1797.2" y2="394.5" stroke="#F7F0B0" stroke-width="2.3" stroke-linecap="round" stroke-opacity="0.8"/>
<line x1="1792.8" y1="379.4" x2="1795.9" y2="381.9" stroke="#EDE070" stroke-width="2.2" stroke-linecap="round" stroke-opacity="0.8"/>
<line x1="1810.9" y1="379.9" x2="1814.8" y2="385.5" stroke="#EDE070" stroke-width="2.3" stroke-linecap="round" stroke-opacity="0.8"/>
<line x1="1796.5" y1="377.8" x2="1795.8" y2="380.9" stroke="#F7F0B0" stroke-width="1.4" stroke-linecap="round" stroke-opacity="0.8"/>
<line x1="1802.2" y1="379.3" x2="1799.2" y2="383.8" stroke="#FFFFFF" stroke-width="1.7" stroke-linecap="round" stroke-opacity="0.8"/>
<line x1="1806.0" y1="384.4" x2="1809.0" y2="386.7" stroke="#FFFFFF" stroke-width="1.7" stroke-linecap="round" stroke-opacity="0.8"/>
<line x1="1821.7" y1="379.0" x2="1816.3" y2="381.9" stroke="#EDE070" stroke-width="1.4" stroke-linecap="round" stroke-opacity="0.8"/>
<line x1="1803.6" y1="383.2" x2="1797.6" y2="384.3" stroke="#EFA040" stroke-width="1.8" stroke-linecap="round" stroke-opacity="0.8"/>
<line x1="1792.5" y1="395.9" x2="1793.3" y2="399.8" stroke="#F7F0B0" stroke-width="1.7" stroke-linecap="round" stroke-opacity="0.8"/>
<line x1="1803.9" y1="380.0" x2="1800.2" y2="385.2" stroke="#EDE070" stroke-width="1.5" stroke-linecap="round" stroke-opacity="0.8"/>
<line x1="1821.3" y1="387.4" x2="1825.0" y2="387.6" stroke="#CCCB62" stroke-width="1.4" stroke-linecap="round" stroke-opacity="0.8"/>
<line x1="1813.8" y1="380.5" x2="1819.6" y2="384.3" stroke="#F7F0B0" stroke-width="1.3" stroke-linecap="round" stroke-opacity="0.8"/>
<line x1="1800.1" y1="393.3" x2="1796.9" y2="394.9" stroke="#EDE070" stroke-width="1.6" stroke-linecap="round" stroke-opacity="0.8"/>
<line x1="1820.8" y1="396.4" x2="1824.6" y2="400.4" stroke="#CCCB62" stroke-width="1.6" stroke-linecap="round" stroke-opacity="0.8"/>
<line x1="1800.5" y1="397.7" x2="1799.1" y2="400.5" stroke="#E0603A" stroke-width="2.0" stroke-linecap="round" stroke-opacity="0.8"/>
<line x1="1801.5" y1="404.2" x2="1805.3" y2="408.6" stroke="#F7F0B0" stroke-width="1.9" stroke-linecap="round" stroke-opacity="0.8"/>
<line x1="1818.4" y1="382.2" x2="1823.3" y2="382.8" stroke="#F29C5A" stroke-width="1.7" stroke-linecap="round" stroke-opacity="0.8"/>
<line x1="1789.4" y1="396.6" x2="1792.9" y2="399.4" stroke="#FFFFFF" stroke-width="1.9" stroke-linecap="round" stroke-opacity="0.8"/>
<line x1="1808.9" y1="380.9" x2="1810.2" y2="384.3" stroke="#F29C5A" stroke-width="1.9" stroke-linecap="round" stroke-opacity="0.8"/>
<line x1="1811.8" y1="388.9" x2="1808.2" y2="394.7" stroke="#FFFFFF" stroke-width="1.8" stroke-linecap="round" stroke-opacity="0.8"/>
<line x1="1800.0" y1="381.5" x2="1797.1" y2="382.6" stroke="#FFFFFF" stroke-width="1.6" stroke-linecap="round" stroke-opacity="0.8"/>
<line x1="1811.0" y1="391.4" x2="1813.8" y2="393.7" stroke="#F7F0B0" stroke-width="2.1" stroke-linecap="round" stroke-opacity="0.8"/>
<line x1="1800.6" y1="405.6" x2="1803.5" y2="406.4" stroke="#EFA040" stroke-width="1.3" stroke-linecap="round" stroke-opacity="0.8"/>
<line x1="1792.0" y1="394.5" x2="1788.0" y2="399.0" stroke="#EFA040" stroke-width="2.2" stroke-linecap="round" stroke-opacity="0.8"/>
<line x1="1816.7" y1="394.9" x2="1820.0" y2="399.4" stroke="#EFA040" stroke-width="2.2" stroke-linecap="round" stroke-opacity="0.8"/>
<line x1="1806.1" y1="378.9" x2="1802.5" y2="379.4" stroke="#E8803A" stroke-width="2.0" stroke-linecap="round" stroke-opacity="0.8"/>
<line x1="1800.1" y1="374.5" x2="1798.6" y2="381.0" stroke="#CCCB62" stroke-width="1.5" stroke-linecap="round" stroke-opacity="0.8"/>
<line x1="1804.5" y1="402.7" x2="1801.9" y2="405.0" stroke="#F7F0B0" stroke-width="2.1" stroke-linecap="round" stroke-opacity="0.8"/>
<line x1="1792.8" y1="391.3" x2="1796.9" y2="395.7" stroke="#F29C5A" stroke-width="1.5" stroke-linecap="round" stroke-opacity="0.8"/>
<line x1="1792.6" y1="390.6" x2="1797.3" y2="394.6" stroke="#F7F0B0" stroke-width="1.6" stroke-linecap="round" stroke-opacity="0.8"/>
<line x1="1805.2" y1="400.9" x2="1810.1" y2="404.6" stroke="#EDE070" stroke-width="1.4" stroke-linecap="round" stroke-opacity="0.8"/>
<line x1="1809.2" y1="403.1" x2="1811.1" y2="407.4" stroke="#EDE070" stroke-width="1.7" stroke-linecap="round" stroke-opacity="0.8"/>
<line x1="1821.8" y1="398.2" x2="1824.8" y2="398.6" stroke="#EDE070" stroke-width="1.6" stroke-linecap="round" stroke-opacity="0.8"/>
<line x1="1802.9" y1="374.0" x2="1802.3" y2="379.8" stroke="#FFFFFF" stroke-width="1.8" stroke-linecap="round" stroke-opacity="0.8"/>
<line x1="1804.9" y1="387.0" x2="1808.6" y2="392.9" stroke="#EFA040" stroke-width="1.9" stroke-linecap="round" stroke-opacity="0.8"/>
<line x1="1810.5" y1="376.0" x2="1813.5" y2="382.3" stroke="#F7F0B0" stroke-width="1.9" stroke-linecap="round" stroke-opacity="0.8"/>
<line x1="1805.4" y1="400.1" x2="1800.3" y2="401.3" stroke="#EDE070" stroke-width="1.4" stroke-linecap="round" stroke-opacity="0.8"/>
<line x1="1812.8" y1="391.9" x2="1813.4" y2="395.5" stroke="#EFA040" stroke-width="1.9" stroke-linecap="round" stroke-opacity="0.8"/>
<line x1="1811.4" y1="385.3" x2="1813.2" y2="390.6" stroke="#FFFFFF" stroke-width="1.6" stroke-linecap="round" stroke-opacity="0.8"/>
<line x1="1810.6" y1="403.8" x2="1811.3" y2="410.5" stroke="#E0603A" stroke-width="1.4" stroke-linecap="round" stroke-opacity="0.8"/>
<line x1="1809.9" y1="402.6" x2="1807.3" y2="405.7" stroke="#EDE070" stroke-width="1.7" stroke-linecap="round" stroke-opacity="0.8"/>
<line x1="1809.6" y1="395.2" x2="1813.4" y2="396.5" stroke="#FFFFFF" stroke-width="1.8" stroke-linecap="round" stroke-opacity="0.8"/>
<line x1="1794.9" y1="387.7" x2="1800.0" y2="387.8" stroke="#EDE070" stroke-width="2.1" stroke-linecap="round" stroke-opacity="0.8"/>
<line x1="1803.8" y1="399.3" x2="1807.5" y2="400.5" stroke="#EFA040" stroke-width="1.7" stroke-linecap="round" stroke-opacity="0.8"/>
<line x1="1803.1" y1="383.8" x2="1806.5" y2="386.5" stroke="#F29C5A" stroke-width="1.5" stroke-linecap="round" stroke-opacity="0.8"/>
<line x1="1814.1" y1="378.7" x2="1814.3" y2="384.2" stroke="#E0603A" stroke-width="2.2" stroke-linecap="round" stroke-opacity="0.8"/>
<line x1="1801.5" y1="375.0" x2="1803.8" y2="379.0" stroke="#FFFFFF" stroke-width="1.8" stroke-linecap="round" stroke-opacity="0.8"/>
<line x1="1790.4" y1="384.4" x2="1793.5" y2="385.0" stroke="#F7F0B0" stroke-width="1.5" stroke-linecap="round" stroke-opacity="0.8"/>
<line x1="1809.4" y1="375.9" x2="1806.7" y2="377.5" stroke="#E8803A" stroke-width="1.5" stroke-linecap="round" stroke-opacity="0.8"/>
<line x1="1776.7" y1="411.4" x2="1780.3" y2="417.1" stroke="#FFFFFF" stroke-width="1.5" stroke-linecap="round" stroke-opacity="0.8"/>
<line x1="1773.3" y1="404.9" x2="1767.4" y2="405.2" stroke="#4A8ED0" stroke-width="1.7" stroke-linecap="round" stroke-opacity="0.8"/>
<line x1="1791.8" y1="411.0" x2="1794.5" y2="415.0" stroke="#3FAE90" stroke-width="1.4" stroke-linecap="round" stroke-opacity="0.8"/>
<line x1="1789.6" y1="387.7" x2="1786.1" y2="388.1" stroke="#FFFFFF" stroke-width="1.3" stroke-linecap="round" stroke-opacity="0.8"/>
<line x1="1785.6" y1="389.4" x2="1784.7" y2="392.7" stroke="#66D69A" stroke-width="1.8" stroke-linecap="round" stroke-opacity="0.8"/>
<line x1="1792.6" y1="397.5" x2="1789.4" y2="399.2" stroke="#FFFFFF" stroke-width="1.8" stroke-linecap="round" stroke-opacity="0.8"/>
<line x1="1802.2" y1="390.5" x2="1799.9" y2="397.0" stroke="#A6E3BE" stroke-width="2.1" stroke-linecap="round" stroke-opacity="0.8"/>
<line x1="1769.6" y1="406.8" x2="1775.0" y2="410.5" stroke="#A6E3BE" stroke-width="1.8" stroke-linecap="round" stroke-opacity="0.8"/>
<line x1="1797.5" y1="405.4" x2="1799.9" y2="408.6" stroke="#A6E3BE" stroke-width="1.5" stroke-linecap="round" stroke-opacity="0.8"/>
<line x1="1774.4" y1="405.2" x2="1770.3" y2="405.6" stroke="#3FAE90" stroke-width="2.1" stroke-linecap="round" stroke-opacity="0.8"/>
<line x1="1786.4" y1="411.9" x2="1784.1" y2="413.9" stroke="#4A8ED0" stroke-width="1.7" stroke-linecap="round" stroke-opacity="0.8"/>
<line x1="1785.4" y1="396.4" x2="1785.7" y2="402.3" stroke="#4A8ED0" stroke-width="1.4" stroke-linecap="round" stroke-opacity="0.8"/>
<line x1="1793.1" y1="385.5" x2="1790.1" y2="389.6" stroke="#3FAE90" stroke-width="2.0" stroke-linecap="round" stroke-opacity="0.8"/>
<line x1="1791.7" y1="399.8" x2="1786.6" y2="403.0" stroke="#66D69A" stroke-width="1.7" stroke-linecap="round" stroke-opacity="0.8"/>
<line x1="1798.6" y1="395.1" x2="1794.1" y2="399.5" stroke="#3050D0" stroke-width="2.2" stroke-linecap="round" stroke-opacity="0.8"/>
<line x1="1770.7" y1="388.0" x2="1774.9" y2="393.3" stroke="#3FAE90" stroke-width="2.2" stroke-linecap="round" stroke-opacity="0.8"/>
<line x1="1783.7" y1="399.6" x2="1789.9" y2="399.8" stroke="#4A8ED0" stroke-width="1.9" stroke-linecap="round" stroke-opacity="0.8"/>
<line x1="1791.4" y1="416.3" x2="1786.8" y2="417.5" stroke="#4A8ED0" stroke-width="1.6" stroke-linecap="round" stroke-opacity="0.8"/>
<line x1="1798.8" y1="408.0" x2="1800.7" y2="410.5" stroke="#FFFFFF" stroke-width="2.1" stroke-linecap="round" stroke-opacity="0.8"/>
<line x1="1785.2" y1="414.7" x2="1786.0" y2="417.7" stroke="#A6E3BE" stroke-width="1.6" stroke-linecap="round" stroke-opacity="0.8"/>
<line x1="1803.8" y1="395.1" x2="1802.1" y2="398.9" stroke="#3050D0" stroke-width="1.9" stroke-linecap="round" stroke-opacity="0.8"/>
<line x1="1771.6" y1="396.0" x2="1774.9" y2="400.4" stroke="#3FAE90" stroke-width="1.9" stroke-linecap="round" stroke-opacity="0.8"/>
<line x1="1795.4" y1="392.6" x2="1798.6" y2="397.2" stroke="#3050D0" stroke-width="2.2" stroke-linecap="round" stroke-opacity="0.8"/>
<line x1="1795.3" y1="404.6" x2="1791.0" y2="405.9" stroke="#3FAE90" stroke-width="1.8" stroke-linecap="round" stroke-opacity="0.8"/>
<line x1="1805.3" y1="399.0" x2="1802.3" y2="402.7" stroke="#A6E3BE" stroke-width="2.0" stroke-linecap="round" stroke-opacity="0.8"/>
<line x1="1799.2" y1="407.9" x2="1798.8" y2="412.4" stroke="#A6E3BE" stroke-width="1.8" stroke-linecap="round" stroke-opacity="0.8"/>
<line x1="1771.5" y1="403.4" x2="1773.8" y2="406.0" stroke="#66D69A" stroke-width="1.9" stroke-linecap="round" stroke-opacity="0.8"/>
<line x1="1786.9" y1="390.9" x2="1788.8" y2="395.9" stroke="#3050D0" stroke-width="2.0" stroke-linecap="round" stroke-opacity="0.8"/>
<line x1="1791.9" y1="405.8" x2="1794.5" y2="408.6" stroke="#4A8ED0" stroke-width="1.4" stroke-linecap="round" stroke-opacity="0.8"/>
<line x1="1767.3" y1="394.5" x2="1771.1" y2="400.0" stroke="#66D69A" stroke-width="1.4" stroke-linecap="round" stroke-opacity="0.8"/>
<line x1="1776.9" y1="388.2" x2="1771.8" y2="389.1" stroke="#4A8ED0" stroke-width="2.2" stroke-linecap="round" stroke-opacity="0.8"/>
<line x1="1780.2" y1="405.8" x2="1784.4" y2="409.9" stroke="#A6E3BE" stroke-width="1.6" stroke-linecap="round" stroke-opacity="0.8"/>
<line x1="1804.1" y1="394.1" x2="1803.0" y2="397.5" stroke="#3FAE90" stroke-width="1.9" stroke-linecap="round" stroke-opacity="0.8"/>
<line x1="1781.5" y1="406.8" x2="1781.2" y2="410.6" stroke="#66D69A" stroke-width="1.7" stroke-linecap="round" stroke-opacity="0.8"/>
<line x1="1799.8" y1="386.8" x2="1799.5" y2="391.3" stroke="#A6E3BE" stroke-width="1.6" stroke-linecap="round" stroke-opacity="0.8"/>
<line x1="1793.4" y1="393.7" x2="1792.5" y2="397.6" stroke="#3050D0" stroke-width="1.6" stroke-linecap="round" stroke-opacity="0.8"/>
<line x1="1790.9" y1="409.9" x2="1795.7" y2="414.6" stroke="#A6E3BE" stroke-width="1.5" stroke-linecap="round" stroke-opacity="0.8"/>
<line x1="1778.6" y1="382.6" x2="1780.2" y2="388.9" stroke="#66D69A" stroke-width="2.0" stroke-linecap="round" stroke-opacity="0.8"/>
<line x1="1781.4" y1="395.3" x2="1787.5" y2="398.3" stroke="#66D69A" stroke-width="1.6" stroke-linecap="round" stroke-opacity="0.8"/>
<line x1="1797.2" y1="394.5" x2="1795.1" y2="399.3" stroke="#FFFFFF" stroke-width="2.2" stroke-linecap="round" stroke-opacity="0.8"/>
<line x1="1784.0" y1="387.8" x2="1786.5" y2="393.6" stroke="#FFFFFF" stroke-width="1.5" stroke-linecap="round" stroke-opacity="0.8"/>
<line x1="1795.3" y1="409.8" x2="1792.6" y2="411.6" stroke="#66D69A" stroke-width="2.0" stroke-linecap="round" stroke-opacity="0.8"/>
<line x1="1797.6" y1="391.6" x2="1798.9" y2="396.6" stroke="#FFFFFF" stroke-width="1.5" stroke-linecap="round" stroke-opacity="0.8"/>
<line x1="1798.9" y1="390.4" x2="1803.0" y2="390.9" stroke="#FFFFFF" stroke-width="1.7" stroke-linecap="round" stroke-opacity="0.8"/>
<line x1="1776.8" y1="399.5" x2="1780.7" y2="401.3" stroke="#4A8ED0" stroke-width="1.4" stroke-linecap="round" stroke-opacity="0.8"/>
<line x1="1776.4" y1="387.1" x2="1774.8" y2="391.7" stroke="#FFFFFF" stroke-width="1.4" stroke-linecap="round" stroke-opacity="0.8"/>
<line x1="1790.3" y1="401.6" x2="1787.5" y2="402.7" stroke="#4A8ED0" stroke-width="1.4" stroke-linecap="round" stroke-opacity="0.8"/>
<line x1="1800.8" y1="406.3" x2="1796.5" y2="410.9" stroke="#FFFFFF" stroke-width="2.3" stroke-linecap="round" stroke-opacity="0.8"/>
<line x1="1798.0" y1="395.7" x2="1801.3" y2="397.3" stroke="#66D69A" stroke-width="2.1" stroke-linecap="round" stroke-opacity="0.8"/>
<line x1="1785.0" y1="386.6" x2="1788.3" y2="389.5" stroke="#4A8ED0" stroke-width="1.6" stroke-linecap="round" stroke-opacity="0.8"/>
<line x1="1785.3" y1="411.5" x2="1782.3" y2="416.9" stroke="#4A8ED0" stroke-width="1.5" stroke-linecap="round" stroke-opacity="0.8"/>
<line x1="1783.9" y1="390.5" x2="1784.3" y2="394.0" stroke="#66D69A" stroke-width="1.8" stroke-linecap="round" stroke-opacity="0.8"/>
<line x1="1796.2" y1="408.2" x2="1800.9" y2="411.1" stroke="#66D69A" stroke-width="2.0" stroke-linecap="round" stroke-opacity="0.8"/>
<line x1="1780.0" y1="390.7" x2="1784.6" y2="394.1" stroke="#66D69A" stroke-width="1.5" stroke-linecap="round" stroke-opacity="0.8"/>
<line x1="1772.4" y1="397.8" x2="1766.8" y2="400.5" stroke="#66D69A" stroke-width="2.1" stroke-linecap="round" stroke-opacity="0.8"/>
<line x1="1793.0" y1="407.8" x2="1791.4" y2="411.7" stroke="#66D69A" stroke-width="2.2" stroke-linecap="round" stroke-opacity="0.8"/>
<line x1="1800.9" y1="401.2" x2="1800.2" y2="406.1" stroke="#3050D0" stroke-width="1.8" stroke-linecap="round" stroke-opacity="0.8"/>
<line x1="1786.0" y1="388.1" x2="1780.7" y2="388.8" stroke="#66D69A" stroke-width="2.1" stroke-linecap="round" stroke-opacity="0.8"/>
<line x1="1799.1" y1="387.3" x2="1800.5" y2="392.1" stroke="#4A8ED0" stroke-width="1.4" stroke-linecap="round" stroke-opacity="0.8"/>
<line x1="1789.5" y1="384.6" x2="1794.3" y2="385.4" stroke="#66D69A" stroke-width="1.6" stroke-linecap="round" stroke-opacity="0.8"/>
<line x1="1777.0" y1="398.0" x2="1781.0" y2="399.5" stroke="#4A8ED0" stroke-width="2.2" stroke-linecap="round" stroke-opacity="0.8"/>
<line x1="1777.8" y1="400.4" x2="1778.8" y2="405.4" stroke="#66D69A" stroke-width="1.6" stroke-linecap="round" stroke-opacity="0.8"/>
<line x1="1799.2" y1="400.1" x2="1794.9" y2="403.7" stroke="#A6E3BE" stroke-width="1.3" stroke-linecap="round" stroke-opacity="0.8"/>
<line x1="1796.2" y1="385.0" x2="1799.5" y2="389.3" stroke="#FFFFFF" stroke-width="1.5" stroke-linecap="round" stroke-opacity="0.8"/>
<line x1="1784.8" y1="386.2" x2="1787.2" y2="390.0" stroke="#3FAE90" stroke-width="1.4" stroke-linecap="round" stroke-opacity="0.8"/>
<line x1="1791.7" y1="396.0" x2="1789.6" y2="399.8" stroke="#66D69A" stroke-width="1.6" stroke-linecap="round" stroke-opacity="0.8"/>
<line x1="1780.4" y1="412.5" x2="1784.8" y2="415.9" stroke="#3FAE90" stroke-width="1.9" stroke-linecap="round" stroke-opacity="0.8"/>
<line x1="1778.4" y1="383.4" x2="1778.5" y2="386.4" stroke="#FFFFFF" stroke-width="2.2" stroke-linecap="round" stroke-opacity="0.8"/>
<line x1="1794.2" y1="386.0" x2="1800.2" y2="388.9" stroke="#FFFFFF" stroke-width="1.7" stroke-linecap="round" stroke-opacity="0.8"/>
<line x1="1770.0" y1="401.6" x2="1768.2" y2="405.2" stroke="#3FAE90" stroke-width="2.0" stroke-linecap="round" stroke-opacity="0.8"/>
<line x1="1781.9" y1="396.8" x2="1783.2" y2="401.4" stroke="#FFFFFF" stroke-width="1.8" stroke-linecap="round" stroke-opacity="0.8"/>
<line x1="1789.7" y1="407.4" x2="1789.1" y2="412.1" stroke="#3FAE90" stroke-width="1.5" stroke-linecap="round" stroke-opacity="0.8"/>
<line x1="1771.1" y1="397.4" x2="1774.0" y2="402.2" stroke="#66D69A" stroke-width="1.5" stroke-linecap="round" stroke-opacity="0.8"/>
<line x1="1779.9" y1="400.4" x2="1776.9" y2="405.4" stroke="#A6E3BE" stroke-width="2.2" stroke-linecap="round" stroke-opacity="0.8"/>
<line x1="1777.9" y1="391.3" x2="1782.9" y2="395.4" stroke="#3050D0" stroke-width="1.8" stroke-linecap="round" stroke-opacity="0.8"/>
<ellipse cx="1794.4" cy="397.6" rx="3.2" ry="1.8" fill="#2A35CC" transform="rotate(20 1794.4 397.6)"/>
</g>
<g id="panelC">
<line x1="137.4" y1="789.6" x2="137.4" y2="1373.4" stroke="#BFBFBF" stroke-width="1.8"/>
<line x1="137.4" y1="1373.4" x2="957" y2="1373.4" stroke="#BFBFBF" stroke-width="1.8"/>
<line x1="137.4" y1="1373.4" x2="148.4" y2="1373.4" stroke="#BFBFBF" stroke-width="1.8"/>
<text x="106" y="1384.6000000000001" font-family="'Liberation Serif', 'Times New Roman', serif" font-size="33" fill="#595959" text-anchor="end" textLength="17" lengthAdjust="spacingAndGlyphs"  stroke="#595959" stroke-width="0.45">0</text>
<line x1="137.4" y1="1300.4" x2="148.4" y2="1300.4" stroke="#BFBFBF" stroke-width="1.8"/>
<text x="106" y="1311.6200000000001" font-family="'Liberation Serif', 'Times New Roman', serif" font-size="33" fill="#595959" text-anchor="end" textLength="34" lengthAdjust="spacingAndGlyphs"  stroke="#595959" stroke-width="0.45">10</text>
<line x1="137.4" y1="1227.4" x2="148.4" y2="1227.4" stroke="#BFBFBF" stroke-width="1.8"/>
<text x="106" y="1238.64" font-family="'Liberation Serif', 'Times New Roman', serif" font-size="33" fill="#595959" text-anchor="end" textLength="34" lengthAdjust="spacingAndGlyphs"  stroke="#595959" stroke-width="0.45">20</text>
<line x1="137.4" y1="1154.5" x2="148.4" y2="1154.5" stroke="#BFBFBF" stroke-width="1.8"/>
<text x="106" y="1165.66" font-family="'Liberation Serif', 'Times New Roman', serif" font-size="33" fill="#595959" text-anchor="end" textLength="34" lengthAdjust="spacingAndGlyphs"  stroke="#595959" stroke-width="0.45">30</text>
<line x1="137.4" y1="1081.5" x2="148.4" y2="1081.5" stroke="#BFBFBF" stroke-width="1.8"/>
<text x="106" y="1092.68" font-family="'Liberation Serif', 'Times New Roman', serif" font-size="33" fill="#595959" text-anchor="end" textLength="34" lengthAdjust="spacingAndGlyphs"  stroke="#595959" stroke-width="0.45">40</text>
<line x1="137.4" y1="1008.5" x2="148.4" y2="1008.5" stroke="#BFBFBF" stroke-width="1.8"/>
<text x="106" y="1019.7" font-family="'Liberation Serif', 'Times New Roman', serif" font-size="33" fill="#595959" text-anchor="end" textLength="34" lengthAdjust="spacingAndGlyphs"  stroke="#595959" stroke-width="0.45">50</text>
<line x1="137.4" y1="935.5" x2="148.4" y2="935.5" stroke="#BFBFBF" stroke-width="1.8"/>
<text x="106" y="946.7200000000001" font-family="'Liberation Serif', 'Times New Roman', serif" font-size="33" fill="#595959" text-anchor="end" textLength="34" lengthAdjust="spacingAndGlyphs"  stroke="#595959" stroke-width="0.45">60</text>
<line x1="137.4" y1="862.5" x2="148.4" y2="862.5" stroke="#BFBFBF" stroke-width="1.8"/>
<text x="106" y="873.7400000000001" font-family="'Liberation Serif', 'Times New Roman', serif" font-size="33" fill="#595959" text-anchor="end" textLength="34" lengthAdjust="spacingAndGlyphs"  stroke="#595959" stroke-width="0.45">70</text>
<line x1="137.4" y1="789.6" x2="148.4" y2="789.6" stroke="#BFBFBF" stroke-width="1.8"/>
<text x="106" y="800.7600000000001" font-family="'Liberation Serif', 'Times New Roman', serif" font-size="33" fill="#595959" text-anchor="end" textLength="34" lengthAdjust="spacingAndGlyphs"  stroke="#595959" stroke-width="0.45">80</text>
<line x1="137.4" y1="1373.4" x2="137.4" y2="1363" stroke="#BFBFBF" stroke-width="1.8"/>
<text x="137.4" y="1425.5" font-family="'Liberation Serif', 'Times New Roman', serif" font-size="33" fill="#595959" text-anchor="middle" textLength="17" lengthAdjust="spacingAndGlyphs"  stroke="#595959" stroke-width="0.45">0</text>
<line x1="371.2" y1="1373.4" x2="371.2" y2="1363" stroke="#BFBFBF" stroke-width="1.8"/>
<text x="371.20000000000005" y="1425.5" font-family="'Liberation Serif', 'Times New Roman', serif" font-size="33" fill="#595959" text-anchor="middle" textLength="72" lengthAdjust="spacingAndGlyphs"  stroke="#595959" stroke-width="0.45">1000</text>
<line x1="605.0" y1="1373.4" x2="605.0" y2="1363" stroke="#BFBFBF" stroke-width="1.8"/>
<text x="605.0" y="1425.5" font-family="'Liberation Serif', 'Times New Roman', serif" font-size="33" fill="#595959" text-anchor="middle" textLength="72" lengthAdjust="spacingAndGlyphs"  stroke="#595959" stroke-width="0.45">2000</text>
<line x1="838.8" y1="1373.4" x2="838.8" y2="1363" stroke="#BFBFBF" stroke-width="1.8"/>
<text x="838.8000000000001" y="1425.5" font-family="'Liberation Serif', 'Times New Roman', serif" font-size="33" fill="#595959" text-anchor="middle" textLength="72" lengthAdjust="spacingAndGlyphs"  stroke="#595959" stroke-width="0.45">3000</text>
<text x="521" y="1470.4" font-family="'Liberation Serif', 'Times New Roman', serif" font-size="32" fill="#595959" text-anchor="middle" textLength="150" lengthAdjust="spacingAndGlyphs"  stroke="#595959" stroke-width="0.45">Time (sec)</text>
<text transform="translate(28.0,1129.2) rotate(-90)" font-family="'Liberation Serif', 'Times New Roman', serif" font-size="32" fill="#595959" stroke="#595959" stroke-width="0.45" textLength="21.4" lengthAdjust="spacingAndGlyphs">−</text>
<text transform="translate(28.0,1104.8) rotate(-90)" font-family="'Liberation Serif', 'Times New Roman', serif" font-size="32" fill="#595959" stroke="#595959" stroke-width="0.45" textLength="9.2" lengthAdjust="spacingAndGlyphs">I</text>
<text transform="translate(34.5,1094.8) rotate(-90)" font-family="'Liberation Serif', 'Times New Roman', serif" font-size="23" fill="#595959" stroke="#595959" stroke-width="0.45" textLength="16.4" lengthAdjust="spacingAndGlyphs">D</text>
<text transform="translate(28.0,1073.8) rotate(-90)" font-family="'Liberation Serif', 'Times New Roman', serif" font-size="32" fill="#595959" stroke="#595959" stroke-width="0.45" textLength="11.6" lengthAdjust="spacingAndGlyphs">(</text>
<text transform="translate(28.0,1059.8) rotate(-90)" font-family="'Liberation Serif', 'Times New Roman', serif" font-size="32" fill="#595959" stroke="#595959" stroke-width="0.45" textLength="14.8" lengthAdjust="spacingAndGlyphs">μ</text>
<text transform="translate(28.0,1044.8) rotate(-90)" font-family="'Liberation Serif', 'Times New Roman', serif" font-size="32" fill="#595959" stroke="#595959" stroke-width="0.45" textLength="21.2" lengthAdjust="spacingAndGlyphs">A</text>
<text transform="translate(28.0,1023.3) rotate(-90)" font-family="'Liberation Serif', 'Times New Roman', serif" font-size="32" fill="#595959" stroke="#595959" stroke-width="0.45" textLength="11.6" lengthAdjust="spacingAndGlyphs">)</text>
<path d="M 142.0 828.8 L 144.5 829.4 L 147.0 828.7 L 149.6 828.6 L 152.1 828.1 L 154.6 828.7 L 157.1 829.9 L 159.6 829.2 L 162.2 829.7 L 164.7 829.0 L 167.2 829.1 L 169.7 828.9 L 172.2 827.2 L 174.8 829.5 L 177.3 829.1 L 179.8 829.1 L 182.3 827.1 L 184.8 827.0 L 187.4 827.8 L 189.9 828.1 L 192.4 828.8 L 194.9 828.5 L 197.4 828.9 L 200.0 827.9 L 202.5 828.7 L 205.0 828.8 L 208.6 843.2 L 211.1 845.3 L 213.6 844.2 L 216.1 844.8 L 218.7 843.1 L 221.2 842.9 L 223.7 843.3 L 226.2 843.4 L 228.7 844.1 L 231.2 843.7 L 233.8 843.0 L 236.3 842.5 L 238.8 842.9 L 241.3 844.4 L 243.8 842.5 L 246.3 843.4 L 248.8 843.6 L 251.4 841.8 L 253.9 843.2 L 256.4 844.2 L 258.9 841.2 L 261.4 842.7 L 263.9 842.9 L 266.5 842.2 L 269.0 843.3 L 271.5 842.8 L 274.0 841.5 L 277.5 859.1 L 280.1 858.9 L 282.7 859.2 L 285.2 859.7 L 287.8 858.6 L 290.4 858.3 L 293.0 856.9 L 295.6 858.8 L 298.1 857.5 L 300.7 857.7 L 303.3 856.8 L 305.9 857.1 L 308.5 857.5 L 311.0 859.3 L 313.6 856.0 L 316.2 856.5 L 318.8 858.2 L 321.4 859.4 L 323.9 858.5 L 326.5 856.0 L 329.1 855.4 L 331.7 858.2 L 334.3 857.1 L 336.8 856.7 L 339.4 858.8 L 342.0 858.9 L 347.0 868.9 L 349.6 869.0 L 352.1 869.1 L 354.7 870.0 L 357.2 869.2 L 359.8 869.1 L 362.4 869.1 L 364.9 867.4 L 367.5 869.6 L 370.0 869.3 L 372.6 869.0 L 375.2 867.0 L 377.7 868.0 L 380.3 869.2 L 382.8 867.0 L 385.4 868.3 L 388.0 869.2 L 390.5 867.3 L 393.1 869.7 L 395.6 868.8 L 398.2 868.2 L 400.8 868.6 L 403.3 868.8 L 405.9 868.3 L 408.4 869.1 L 411.0 867.7 L 416.0 879.7 L 418.5 880.8 L 421.0 879.9 L 423.6 879.1 L 426.1 880.5 L 428.6 880.9 L 431.1 879.3 L 433.6 878.5 L 436.2 879.4 L 438.7 879.3 L 441.2 879.2 L 443.7 880.5 L 446.2 878.5 L 448.8 880.2 L 451.3 878.1 L 453.8 878.5 L 456.3 879.5 L 458.8 879.9 L 461.4 879.6 L 463.9 879.1 L 466.4 878.9 L 468.9 878.9 L 471.4 879.1 L 474.0 878.5 L 476.5 878.8 L 479.0 879.0 L 484.5 897.2 L 487.0 897.8 L 489.5 897.6 L 492.1 898.7 L 494.6 897.4 L 497.1 896.7 L 499.6 896.8 L 502.1 897.0 L 504.7 897.8 L 507.2 896.7 L 509.7 897.3 L 512.2 898.4 L 514.7 894.9 L 517.2 896.0 L 519.8 897.1 L 522.3 897.2 L 524.8 897.0 L 527.3 896.5 L 529.8 897.3 L 532.4 897.0 L 534.9 896.3 L 537.4 898.7 L 539.9 897.0 L 542.4 896.2 L 545.0 896.6 L 547.5 896.4 L 550.0 896.5 L 551.5 950.0 L 554.0 1000.0 L 555.0 990.3 L 557.5 992.5 L 560.1 994.0 L 562.6 991.8 L 565.2 992.8 L 567.7 993.8 L 570.2 993.7 L 572.8 994.3 L 575.3 991.1 L 577.8 992.4 L 580.4 992.4 L 582.9 993.4 L 585.5 993.8 L 588.0 990.0 L 590.5 993.8 L 593.1 991.2 L 595.6 993.3 L 598.2 991.1 L 600.7 992.8 L 603.2 993.8 L 605.8 992.4 L 608.3 992.7 L 610.8 993.3 L 613.4 992.6 L 615.9 992.4 L 618.5 994.0 L 621.0 993.4 L 624.0 1055.0 L 626.0 1139.0 L 627.0 1138.2 L 629.5 1141.2 L 632.1 1137.3 L 634.6 1139.3 L 637.2 1138.1 L 639.7 1138.4 L 642.2 1139.0 L 644.8 1138.5 L 647.3 1138.8 L 649.8 1136.6 L 652.4 1136.6 L 654.9 1138.7 L 657.5 1137.1 L 660.0 1137.0 L 662.5 1136.5 L 665.1 1139.2 L 667.6 1138.6 L 670.2 1139.3 L 672.7 1136.9 L 675.2 1137.8 L 677.8 1136.6 L 680.3 1138.5 L 682.8 1139.2 L 685.4 1136.7 L 687.9 1139.1 L 690.5 1138.5 L 693.0 1137.3 L 695.0 1190.0 L 697.5 1231.1 L 698.4 1241.2 L 699.3 1236.6 L 700.3 1235.1 L 701.2 1238.0 L 702.1 1238.0 L 703.0 1241.3 L 703.9 1233.7 L 704.9 1240.1 L 705.8 1241.1 L 706.7 1241.0 L 707.6 1236.0 L 708.5 1234.3 L 709.4 1239.5 L 710.4 1236.8 L 711.3 1236.8 L 712.2 1240.6 L 713.1 1235.5 L 714.0 1229.4 L 715.0 1235.1 L 715.9 1230.6 L 716.8 1238.6 L 717.7 1237.1 L 718.6 1234.2 L 719.6 1236.0 L 720.5 1238.5 L 721.4 1236.2 L 722.3 1239.9 L 723.2 1235.7 L 724.1 1238.9 L 725.1 1240.3 L 726.0 1240.6 L 726.9 1233.7 L 727.8 1238.3 L 728.7 1230.0 L 729.7 1232.3 L 730.6 1229.7 L 731.5 1238.7 L 732.4 1231.8 L 733.3 1235.4 L 734.3 1234.8 L 735.2 1235.3 L 736.1 1233.5 L 737.0 1236.0 L 737.9 1240.6 L 738.9 1235.3 L 739.8 1236.7 L 740.7 1238.1 L 741.6 1234.5 L 742.5 1231.2 L 743.4 1233.3 L 744.4 1238.2 L 745.3 1230.0 L 746.2 1233.1 L 747.1 1237.8 L 748.0 1237.1 L 749.0 1234.8 L 749.9 1237.1 L 750.8 1235.1 L 751.7 1231.1 L 752.6 1229.9 L 753.6 1232.6 L 754.5 1237.3 L 755.4 1232.7 L 756.3 1231.7 L 757.2 1232.1 L 758.1 1229.7 L 759.1 1233.9 L 760.0 1230.7 L 760.9 1235.3 L 761.8 1227.1 L 762.7 1235.1 L 763.7 1232.2 L 764.6 1228.2 L 765.5 1236.2 L 768.5 1261.4 L 769.7 1257.1 L 771.0 1260.0 L 772.2 1262.6 L 773.4 1260.9 L 774.7 1263.6 L 775.9 1263.5 L 777.1 1263.3 L 778.4 1262.5 L 779.6 1264.7 L 780.8 1263.2 L 782.0 1262.7 L 783.3 1257.1 L 784.5 1263.6 L 785.7 1264.5 L 787.0 1260.9 L 788.2 1260.5 L 789.4 1265.8 L 790.7 1257.6 L 791.9 1262.5 L 793.1 1266.8 L 794.4 1259.4 L 795.6 1262.9 L 796.8 1265.5 L 798.1 1261.1 L 799.3 1262.5 L 800.5 1263.3 L 801.8 1259.3 L 803.0 1261.0 L 804.2 1261.8 L 805.4 1263.0 L 806.7 1261.1 L 807.9 1260.7 L 809.1 1258.8 L 810.4 1260.3 L 811.6 1263.0 L 812.8 1261.2 L 814.1 1259.1 L 815.3 1259.1 L 816.5 1266.8 L 817.8 1263.4 L 819.0 1262.3 L 820.2 1255.1 L 821.5 1262.2 L 822.7 1261.8 L 823.9 1264.5 L 825.1 1261.7 L 826.4 1260.5 L 827.6 1261.8 L 828.8 1256.4 L 830.1 1262.9 L 831.3 1261.3 L 832.5 1259.0 L 833.8 1263.4 L 835.0 1264.5 L 835.5 1256.0 L 838.5 1269.8 L 841.1 1270.2 L 843.6 1270.6 L 846.2 1270.6 L 848.8 1270.3 L 851.4 1270.0 L 853.9 1271.6 L 856.5 1271.0 L 859.1 1269.9 L 861.7 1269.8 L 864.2 1271.4 L 866.8 1271.0 L 869.4 1271.4 L 872.0 1270.9 L 874.5 1270.1 L 877.1 1270.6 L 879.7 1269.4 L 882.3 1270.1 L 884.8 1270.5 L 887.4 1270.8 L 890.0 1270.1 L 892.6 1270.4 L 895.1 1270.7 L 897.7 1270.7 L 900.3 1270.8 L 902.9 1270.6 L 905.4 1270.3 L 908.0 1270.9" fill="none" stroke="#4472C4" stroke-width="9.5" stroke-linejoin="round" stroke-linecap="round"/>
<line x1="198.5" y1="886.5" x2="198.5" y2="858.5" stroke="#ED7D31" stroke-width="3.4"/>
<polygon points="198.5,850.5 193.5,859.5 203.5,859.5" fill="#ED7D31"/>
<line x1="266.9" y1="918" x2="266.9" y2="869.2" stroke="#ED7D31" stroke-width="3.4"/>
<polygon points="266.9,861.2 261.9,870.2 271.9,870.2" fill="#ED7D31"/>
<line x1="335.8" y1="937.2" x2="335.8" y2="888.4" stroke="#ED7D31" stroke-width="3.4"/>
<polygon points="335.8,880.4 330.8,889.4 340.8,889.4" fill="#ED7D31"/>
<line x1="406.2" y1="960.3" x2="406.2" y2="895.8" stroke="#ED7D31" stroke-width="3.4"/>
<polygon points="406.2,887.8 401.2,896.8 411.2,896.8" fill="#ED7D31"/>
<line x1="474.1" y1="982.6" x2="474.1" y2="915" stroke="#ED7D31" stroke-width="3.4"/>
<polygon points="474.1,907 469.1,916 479.1,916" fill="#ED7D31"/>
<line x1="546.2" y1="857.2" x2="546.2" y2="880.4" stroke="#ED7D31" stroke-width="3.4"/>
<polygon points="546.2,888.4 541.2,879.4 551.2,879.4" fill="#ED7D31"/>
<line x1="618.6" y1="942" x2="618.6" y2="974.2" stroke="#ED7D31" stroke-width="3.4"/>
<polygon points="618.6,982.2 613.6,973.2 623.6,973.2" fill="#ED7D31"/>
<line x1="689.2" y1="1078" x2="689.2" y2="1118.3" stroke="#ED7D31" stroke-width="3.4"/>
<polygon points="689.2,1126.3 684.2,1117.3 694.2,1117.3" fill="#ED7D31"/>
<line x1="762.5" y1="1156" x2="762.5" y2="1207.7" stroke="#ED7D31" stroke-width="3.4"/>
<polygon points="762.5,1215.7 757.5,1206.7 767.5,1206.7" fill="#ED7D31"/>
<line x1="834.6" y1="1208.7" x2="834.6" y2="1240.6" stroke="#ED7D31" stroke-width="3.4"/>
<polygon points="834.6,1248.6 829.6,1239.6 839.6,1239.6" fill="#ED7D31"/>
<text x="197.4" y="923.5" font-family="'Liberation Serif', 'Times New Roman', serif" font-size="29" fill="#595959" text-anchor="middle" textLength="59.7" lengthAdjust="spacingAndGlyphs"  stroke="#595959" stroke-width="0.45">1 pM</text>
<text x="264.0" y="955.1999999999999" font-family="'Liberation Serif', 'Times New Roman', serif" font-size="29" fill="#595959" text-anchor="middle" textLength="59.7" lengthAdjust="spacingAndGlyphs"  stroke="#595959" stroke-width="0.45">2 pM</text>
<text x="333.5" y="973.8" font-family="'Liberation Serif', 'Times New Roman', serif" font-size="29" fill="#595959" text-anchor="middle" textLength="59.7" lengthAdjust="spacingAndGlyphs"  stroke="#595959" stroke-width="0.45">4 pM</text>
<text x="403.1" y="997.5" font-family="'Liberation Serif', 'Times New Roman', serif" font-size="29" fill="#595959" text-anchor="middle" textLength="59.7" lengthAdjust="spacingAndGlyphs"  stroke="#595959" stroke-width="0.45">6 pM</text>
<text x="473.1" y="1020.3" font-family="'Liberation Serif', 'Times New Roman', serif" font-size="29" fill="#595959" text-anchor="middle" textLength="73.7" lengthAdjust="spacingAndGlyphs"  stroke="#595959" stroke-width="0.45">10 pM</text>
<text x="543.0" y="845.8" font-family="'Liberation Serif', 'Times New Roman', serif" font-size="29" fill="#595959" text-anchor="middle" textLength="76.1" lengthAdjust="spacingAndGlyphs"  stroke="#595959" stroke-width="0.45">20 pM</text>
<text x="617.5" y="931.1999999999999" font-family="'Liberation Serif', 'Times New Roman', serif" font-size="29" fill="#595959" text-anchor="middle" textLength="75.6" lengthAdjust="spacingAndGlyphs"  stroke="#595959" stroke-width="0.45">40 pM</text>
<text x="688.5" y="1066.8" font-family="'Liberation Serif', 'Times New Roman', serif" font-size="29" fill="#595959" text-anchor="middle" textLength="74.6" lengthAdjust="spacingAndGlyphs"  stroke="#595959" stroke-width="0.45">60 pM</text>
<text x="760.9" y="1145.3999999999999" font-family="'Liberation Serif', 'Times New Roman', serif" font-size="29" fill="#595959" text-anchor="middle" textLength="90.7" lengthAdjust="spacingAndGlyphs"  stroke="#595959" stroke-width="0.45">100 pM</text>
<text x="829.3" y="1199.1" font-family="'Liberation Serif', 'Times New Roman', serif" font-size="29" fill="#595959" text-anchor="middle" textLength="105.8" lengthAdjust="spacingAndGlyphs"  stroke="#595959" stroke-width="0.45">1000 pM</text>
</g>
<g id="panelD">
<line x1="1143" y1="784.3" x2="1143" y2="1374.5" stroke="#BFBFBF" stroke-width="1.8"/>
<line x1="1143" y1="1374.5" x2="1952" y2="1374.5" stroke="#BFBFBF" stroke-width="1.8"/>
<text x="1110.5" y="1389.3" font-family="'Liberation Serif', 'Times New Roman', serif" font-size="33" fill="#595959" text-anchor="end" textLength="17" lengthAdjust="spacingAndGlyphs"  stroke="#595959" stroke-width="0.45">0</text>
<line x1="1143" y1="1297.0" x2="1153.5" y2="1297.0" stroke="#BFBFBF" stroke-width="1.8"/>
<text x="1110.5" y="1310.25" font-family="'Liberation Serif', 'Times New Roman', serif" font-size="33" fill="#595959" text-anchor="end" textLength="36" lengthAdjust="spacingAndGlyphs"  stroke="#595959" stroke-width="0.45">10</text>
<line x1="1143" y1="1218.0" x2="1153.5" y2="1218.0" stroke="#BFBFBF" stroke-width="1.8"/>
<text x="1110.5" y="1231.2" font-family="'Liberation Serif', 'Times New Roman', serif" font-size="33" fill="#595959" text-anchor="end" textLength="36" lengthAdjust="spacingAndGlyphs"  stroke="#595959" stroke-width="0.45">20</text>
<line x1="1143" y1="1138.9" x2="1153.5" y2="1138.9" stroke="#BFBFBF" stroke-width="1.8"/>
<text x="1110.5" y="1152.1499999999999" font-family="'Liberation Serif', 'Times New Roman', serif" font-size="33" fill="#595959" text-anchor="end" textLength="36" lengthAdjust="spacingAndGlyphs"  stroke="#595959" stroke-width="0.45">30</text>
<line x1="1143" y1="1059.9" x2="1153.5" y2="1059.9" stroke="#BFBFBF" stroke-width="1.8"/>
<text x="1110.5" y="1073.1" font-family="'Liberation Serif', 'Times New Roman', serif" font-size="33" fill="#595959" text-anchor="end" textLength="36" lengthAdjust="spacingAndGlyphs"  stroke="#595959" stroke-width="0.45">40</text>
<line x1="1143" y1="980.8" x2="1153.5" y2="980.8" stroke="#BFBFBF" stroke-width="1.8"/>
<text x="1110.5" y="994.05" font-family="'Liberation Serif', 'Times New Roman', serif" font-size="33" fill="#595959" text-anchor="end" textLength="36" lengthAdjust="spacingAndGlyphs"  stroke="#595959" stroke-width="0.45">50</text>
<line x1="1143" y1="901.8" x2="1153.5" y2="901.8" stroke="#BFBFBF" stroke-width="1.8"/>
<text x="1110.5" y="915.0" font-family="'Liberation Serif', 'Times New Roman', serif" font-size="33" fill="#595959" text-anchor="end" textLength="36" lengthAdjust="spacingAndGlyphs"  stroke="#595959" stroke-width="0.45">60</text>
<line x1="1143" y1="822.7" x2="1153.5" y2="822.7" stroke="#BFBFBF" stroke-width="1.8"/>
<text x="1110.5" y="835.9499999999999" font-family="'Liberation Serif', 'Times New Roman', serif" font-size="33" fill="#595959" text-anchor="end" textLength="36" lengthAdjust="spacingAndGlyphs"  stroke="#595959" stroke-width="0.45">70</text>
<line x1="1222.2" y1="1374.5" x2="1222.2" y2="1368.3" stroke="#BFBFBF" stroke-width="1.8"/>
<line x1="1302.6" y1="1374.5" x2="1302.6" y2="1368.3" stroke="#BFBFBF" stroke-width="1.8"/>
<line x1="1383.0" y1="1374.5" x2="1383.0" y2="1368.3" stroke="#BFBFBF" stroke-width="1.8"/>
<line x1="1463.4" y1="1374.5" x2="1463.4" y2="1368.3" stroke="#BFBFBF" stroke-width="1.8"/>
<line x1="1543.8" y1="1374.5" x2="1543.8" y2="1365.2" stroke="#BFBFBF" stroke-width="1.8"/>
<line x1="1624.2" y1="1374.5" x2="1624.2" y2="1368.3" stroke="#BFBFBF" stroke-width="1.8"/>
<line x1="1704.6" y1="1374.5" x2="1704.6" y2="1368.3" stroke="#BFBFBF" stroke-width="1.8"/>
<line x1="1785.0" y1="1374.5" x2="1785.0" y2="1368.3" stroke="#BFBFBF" stroke-width="1.8"/>
<line x1="1865.4" y1="1374.5" x2="1865.4" y2="1368.3" stroke="#BFBFBF" stroke-width="1.8"/>
<line x1="1342.8" y1="1374.5" x2="1342.8" y2="1365.2" stroke="#BFBFBF" stroke-width="1.8"/>
<line x1="1543.8" y1="1374.5" x2="1543.8" y2="1365.2" stroke="#BFBFBF" stroke-width="1.8"/>
<line x1="1744.8" y1="1374.5" x2="1744.8" y2="1365.2" stroke="#BFBFBF" stroke-width="1.8"/>
<line x1="1945.8" y1="1374.5" x2="1945.8" y2="1365.2" stroke="#BFBFBF" stroke-width="1.8"/>
<text x="1141.8" y="1429.5" font-family="'Liberation Serif', 'Times New Roman', serif" font-size="33" fill="#595959" text-anchor="middle" textLength="17" lengthAdjust="spacingAndGlyphs"  stroke="#595959" stroke-width="0.45">0</text>
<text x="1342.8" y="1429.5" font-family="'Liberation Serif', 'Times New Roman', serif" font-size="33" fill="#595959" text-anchor="middle" textLength="56" lengthAdjust="spacingAndGlyphs"  stroke="#595959" stroke-width="0.45">250</text>
<text x="1543.8" y="1429.5" font-family="'Liberation Serif', 'Times New Roman', serif" font-size="33" fill="#595959" text-anchor="middle" textLength="56" lengthAdjust="spacingAndGlyphs"  stroke="#595959" stroke-width="0.45">500</text>
<text x="1744.8" y="1429.5" font-family="'Liberation Serif', 'Times New Roman', serif" font-size="33" fill="#595959" text-anchor="middle" textLength="56" lengthAdjust="spacingAndGlyphs"  stroke="#595959" stroke-width="0.45">750</text>
<text x="1945.8" y="1429.5" font-family="'Liberation Serif', 'Times New Roman', serif" font-size="33" fill="#595959" text-anchor="middle" textLength="75" lengthAdjust="spacingAndGlyphs"  stroke="#595959" stroke-width="0.45">1000</text>
<text x="1513.4" y="1476.6" font-family="'Liberation Serif', 'Times New Roman', serif" font-size="32" fill="#595959" text-anchor="middle" textLength="287" lengthAdjust="spacingAndGlyphs"  stroke="#595959" stroke-width="0.45">Concentration (pM)</text>
<text transform="translate(1019.5,1091.4) rotate(-90)" font-family="'Liberation Serif', 'Times New Roman', serif" font-size="32" fill="#595959" stroke="#595959" stroke-width="0.45" textLength="6.4" lengthAdjust="spacingAndGlyphs">|</text>
<text transform="translate(1019.5,1081.8) rotate(-90)" font-family="'Liberation Serif', 'Times New Roman', serif" font-size="32" fill="#595959" stroke="#595959" stroke-width="0.45" textLength="9.2" lengthAdjust="spacingAndGlyphs">I</text>
<text transform="translate(1026.0,1070.8) rotate(-90)" font-family="'Liberation Serif', 'Times New Roman', serif" font-size="23" fill="#595959" stroke="#595959" stroke-width="0.45" textLength="15.8" lengthAdjust="spacingAndGlyphs">D</text>
<text transform="translate(1019.5,1050.0) rotate(-90)" font-family="'Liberation Serif', 'Times New Roman', serif" font-size="32" fill="#595959" stroke="#595959" stroke-width="0.45" textLength="6.4" lengthAdjust="spacingAndGlyphs">|</text>
<text transform="translate(1019.5,1031.6) rotate(-90)" font-family="'Liberation Serif', 'Times New Roman', serif" font-size="32" fill="#595959" stroke="#595959" stroke-width="0.45" textLength="12.6" lengthAdjust="spacingAndGlyphs">(</text>
<text transform="translate(1019.5,1016.6) rotate(-90)" font-family="'Liberation Serif', 'Times New Roman', serif" font-size="32" fill="#595959" stroke="#595959" stroke-width="0.45" textLength="13.7" lengthAdjust="spacingAndGlyphs">μ</text>
<text transform="translate(1019.5,1001.0) rotate(-90)" font-family="'Liberation Serif', 'Times New Roman', serif" font-size="32" fill="#595959" stroke="#595959" stroke-width="0.45" textLength="21.3" lengthAdjust="spacingAndGlyphs">A</text>
<text transform="translate(1019.5,979.5) rotate(-90)" font-family="'Liberation Serif', 'Times New Roman', serif" font-size="32" fill="#595959" stroke="#595959" stroke-width="0.45" textLength="11.7" lengthAdjust="spacingAndGlyphs">)</text>
<line x1="1142.6" y1="1342.9" x2="1142.6" y2="1371.4" stroke="#454545" stroke-width="2.1"/>
<line x1="1137.2" y1="1342.9" x2="1148.0" y2="1342.9" stroke="#454545" stroke-width="2.1"/>
<line x1="1137.2" y1="1371.4" x2="1148.0" y2="1371.4" stroke="#454545" stroke-width="2.1"/>
<line x1="1143.4" y1="1327.9" x2="1143.4" y2="1354.8" stroke="#454545" stroke-width="2.1"/>
<line x1="1138.0" y1="1327.9" x2="1148.8" y2="1327.9" stroke="#454545" stroke-width="2.1"/>
<line x1="1138.0" y1="1354.8" x2="1148.8" y2="1354.8" stroke="#454545" stroke-width="2.1"/>
<line x1="1145.0" y1="1316.1" x2="1145.0" y2="1347.7" stroke="#454545" stroke-width="2.1"/>
<line x1="1139.6" y1="1316.1" x2="1150.4" y2="1316.1" stroke="#454545" stroke-width="2.1"/>
<line x1="1139.6" y1="1347.7" x2="1150.4" y2="1347.7" stroke="#454545" stroke-width="2.1"/>
<line x1="1146.6" y1="1300.7" x2="1146.6" y2="1334.6" stroke="#454545" stroke-width="2.1"/>
<line x1="1141.2" y1="1300.7" x2="1152.0" y2="1300.7" stroke="#454545" stroke-width="2.1"/>
<line x1="1141.2" y1="1334.6" x2="1152.0" y2="1334.6" stroke="#454545" stroke-width="2.1"/>
<line x1="1149.8" y1="1264.3" x2="1149.8" y2="1301.5" stroke="#454545" stroke-width="2.1"/>
<line x1="1144.4" y1="1264.3" x2="1155.2" y2="1264.3" stroke="#454545" stroke-width="2.1"/>
<line x1="1144.4" y1="1301.5" x2="1155.2" y2="1301.5" stroke="#454545" stroke-width="2.1"/>
<line x1="1157.9" y1="1175.5" x2="1157.9" y2="1215.0" stroke="#454545" stroke-width="2.1"/>
<line x1="1152.5" y1="1175.5" x2="1163.3" y2="1175.5" stroke="#454545" stroke-width="2.1"/>
<line x1="1152.5" y1="1215.0" x2="1163.3" y2="1215.0" stroke="#454545" stroke-width="2.1"/>
<line x1="1174.0" y1="1021.9" x2="1174.0" y2="1054.3" stroke="#454545" stroke-width="2.1"/>
<line x1="1168.6" y1="1021.9" x2="1179.4" y2="1021.9" stroke="#454545" stroke-width="2.1"/>
<line x1="1168.6" y1="1054.3" x2="1179.4" y2="1054.3" stroke="#454545" stroke-width="2.1"/>
<line x1="1190.0" y1="910.8" x2="1190.0" y2="951.3" stroke="#454545" stroke-width="2.1"/>
<line x1="1184.6" y1="910.8" x2="1195.4" y2="910.8" stroke="#454545" stroke-width="2.1"/>
<line x1="1184.6" y1="951.3" x2="1195.4" y2="951.3" stroke="#454545" stroke-width="2.1"/>
<line x1="1222.2" y1="889.6" x2="1222.2" y2="921.2" stroke="#454545" stroke-width="2.1"/>
<line x1="1216.8" y1="889.6" x2="1227.6" y2="889.6" stroke="#454545" stroke-width="2.1"/>
<line x1="1216.8" y1="921.2" x2="1227.6" y2="921.2" stroke="#454545" stroke-width="2.1"/>
<line x1="1945.8" y1="817.2" x2="1945.8" y2="864.0" stroke="#454545" stroke-width="2.1"/>
<line x1="1940.4" y1="817.2" x2="1951.2" y2="817.2" stroke="#454545" stroke-width="2.1"/>
<line x1="1940.4" y1="864.0" x2="1951.2" y2="864.0" stroke="#454545" stroke-width="2.1"/>
<circle cx="1142.6" cy="1357.1" r="9.2" fill="#4472C4"/>
<circle cx="1143.4" cy="1341.3" r="9.2" fill="#4472C4"/>
<circle cx="1145.0" cy="1331.9" r="9.2" fill="#4472C4"/>
<circle cx="1146.6" cy="1317.7" r="9.2" fill="#4472C4"/>
<circle cx="1149.8" cy="1282.9" r="9.2" fill="#4472C4"/>
<circle cx="1157.9" cy="1195.2" r="9.2" fill="#4472C4"/>
<circle cx="1174.0" cy="1038.1" r="9.2" fill="#4472C4"/>
<circle cx="1190.0" cy="931.0" r="9.2" fill="#4472C4"/>
<circle cx="1222.2" cy="905.4" r="9.2" fill="#4472C4"/>
<circle cx="1945.8" cy="840.6" r="9.2" fill="#4472C4"/>
<line x1="1324.7" y1="975.4" x2="1324.7" y2="1298.5" stroke="#BFBFBF" stroke-width="1.8"/>
<line x1="1324.7" y1="1298.5" x2="1867" y2="1298.5" stroke="#BFBFBF" stroke-width="1.8"/>
<text x="1298.7" y="1308.0" font-family="'Liberation Serif', 'Times New Roman', serif" font-size="28" fill="#595959" text-anchor="end" textLength="15" lengthAdjust="spacingAndGlyphs"  stroke="#595959" stroke-width="0.45">0</text>
<line x1="1324.7" y1="1244.7" x2="1333.7" y2="1244.7" stroke="#BFBFBF" stroke-width="1.8"/>
<text x="1298.7" y="1254.2" font-family="'Liberation Serif', 'Times New Roman', serif" font-size="28" fill="#595959" text-anchor="end" textLength="32" lengthAdjust="spacingAndGlyphs"  stroke="#595959" stroke-width="0.45">10</text>
<line x1="1324.7" y1="1190.9" x2="1333.7" y2="1190.9" stroke="#BFBFBF" stroke-width="1.8"/>
<text x="1298.7" y="1200.4" font-family="'Liberation Serif', 'Times New Roman', serif" font-size="28" fill="#595959" text-anchor="end" textLength="32" lengthAdjust="spacingAndGlyphs"  stroke="#595959" stroke-width="0.45">20</text>
<line x1="1324.7" y1="1137.1" x2="1333.7" y2="1137.1" stroke="#BFBFBF" stroke-width="1.8"/>
<text x="1298.7" y="1146.6" font-family="'Liberation Serif', 'Times New Roman', serif" font-size="28" fill="#595959" text-anchor="end" textLength="32" lengthAdjust="spacingAndGlyphs"  stroke="#595959" stroke-width="0.45">30</text>
<line x1="1324.7" y1="1083.3" x2="1333.7" y2="1083.3" stroke="#BFBFBF" stroke-width="1.8"/>
<text x="1298.7" y="1092.8" font-family="'Liberation Serif', 'Times New Roman', serif" font-size="28" fill="#595959" text-anchor="end" textLength="32" lengthAdjust="spacingAndGlyphs"  stroke="#595959" stroke-width="0.45">40</text>
<line x1="1324.7" y1="1029.5" x2="1333.7" y2="1029.5" stroke="#BFBFBF" stroke-width="1.8"/>
<text x="1298.7" y="1039.0" font-family="'Liberation Serif', 'Times New Roman', serif" font-size="28" fill="#595959" text-anchor="end" textLength="32" lengthAdjust="spacingAndGlyphs"  stroke="#595959" stroke-width="0.45">50</text>
<line x1="1324.7" y1="975.7" x2="1333.7" y2="975.7" stroke="#BFBFBF" stroke-width="1.8"/>
<text x="1298.7" y="985.2" font-family="'Liberation Serif', 'Times New Roman', serif" font-size="28" fill="#595959" text-anchor="end" textLength="32" lengthAdjust="spacingAndGlyphs"  stroke="#595959" stroke-width="0.45">60</text>
<line x1="1355.7" y1="1298.5" x2="1355.7" y2="1292.0" stroke="#BFBFBF" stroke-width="1.8"/>
<line x1="1386.7" y1="1298.5" x2="1386.7" y2="1292.0" stroke="#BFBFBF" stroke-width="1.8"/>
<line x1="1417.8" y1="1298.5" x2="1417.8" y2="1292.0" stroke="#BFBFBF" stroke-width="1.8"/>
<line x1="1448.8" y1="1298.5" x2="1448.8" y2="1292.0" stroke="#BFBFBF" stroke-width="1.8"/>
<line x1="1479.8" y1="1298.5" x2="1479.8" y2="1292.0" stroke="#BFBFBF" stroke-width="1.8"/>
<line x1="1510.8" y1="1298.5" x2="1510.8" y2="1292.0" stroke="#BFBFBF" stroke-width="1.8"/>
<line x1="1541.8" y1="1298.5" x2="1541.8" y2="1292.0" stroke="#BFBFBF" stroke-width="1.8"/>
<line x1="1572.9" y1="1298.5" x2="1572.9" y2="1292.0" stroke="#BFBFBF" stroke-width="1.8"/>
<line x1="1603.9" y1="1298.5" x2="1603.9" y2="1292.0" stroke="#BFBFBF" stroke-width="1.8"/>
<line x1="1634.9" y1="1298.5" x2="1634.9" y2="1292.0" stroke="#BFBFBF" stroke-width="1.8"/>
<line x1="1665.9" y1="1298.5" x2="1665.9" y2="1292.0" stroke="#BFBFBF" stroke-width="1.8"/>
<line x1="1696.9" y1="1298.5" x2="1696.9" y2="1292.0" stroke="#BFBFBF" stroke-width="1.8"/>
<line x1="1728.0" y1="1298.5" x2="1728.0" y2="1292.0" stroke="#BFBFBF" stroke-width="1.8"/>
<line x1="1759.0" y1="1298.5" x2="1759.0" y2="1292.0" stroke="#BFBFBF" stroke-width="1.8"/>
<line x1="1790.0" y1="1298.5" x2="1790.0" y2="1292.0" stroke="#BFBFBF" stroke-width="1.8"/>
<line x1="1821.0" y1="1298.5" x2="1821.0" y2="1292.0" stroke="#BFBFBF" stroke-width="1.8"/>
<line x1="1852.0" y1="1298.5" x2="1852.0" y2="1292.0" stroke="#BFBFBF" stroke-width="1.8"/>
<text x="1324.7" y="1345.5" font-family="'Liberation Serif', 'Times New Roman', serif" font-size="28" fill="#595959" text-anchor="middle" textLength="15" lengthAdjust="spacingAndGlyphs"  stroke="#595959" stroke-width="0.45">0</text>
<text x="1479.8" y="1345.5" font-family="'Liberation Serif', 'Times New Roman', serif" font-size="28" fill="#595959" text-anchor="middle" textLength="32" lengthAdjust="spacingAndGlyphs"  stroke="#595959" stroke-width="0.45">20</text>
<text x="1634.9" y="1345.5" font-family="'Liberation Serif', 'Times New Roman', serif" font-size="28" fill="#595959" text-anchor="middle" textLength="32" lengthAdjust="spacingAndGlyphs"  stroke="#595959" stroke-width="0.45">40</text>
<text x="1790.0" y="1345.5" font-family="'Liberation Serif', 'Times New Roman', serif" font-size="28" fill="#595959" text-anchor="middle" textLength="32" lengthAdjust="spacingAndGlyphs"  stroke="#595959" stroke-width="0.45">60</text>
<line x1="1332.5" y1="1280.9" x2="1790.0" y2="983.2" stroke="#4472C4" stroke-width="3.2" stroke-dasharray="0.1 7" stroke-linecap="round"/>
<path d="M 1332.5 1286.1 C 1333.7 1284.2 1336.3 1277.6 1340.2 1274.8 C 1344.1 1272.0 1350.5 1272.0 1355.7 1269.4 C 1360.9 1266.8 1363.5 1264.9 1371.2 1259.2 C 1379.0 1253.6 1384.2 1249.4 1402.2 1235.6 C 1420.3 1221.7 1441.0 1204.2 1479.8 1176.4 C 1518.6 1148.6 1583.2 1098.8 1634.9 1068.8 C 1686.6 1038.7 1764.2 1008.2 1790.0 996.1" fill="none" stroke="#4472C4" stroke-width="8" stroke-linejoin="round" stroke-linecap="round"/>
<line x1="1332.5" y1="1276.4" x2="1332.5" y2="1295.8" stroke="#454545" stroke-width="1.7"/>
<line x1="1327.7" y1="1276.4" x2="1337.3" y2="1276.4" stroke="#454545" stroke-width="1.7"/>
<line x1="1327.7" y1="1295.8" x2="1337.3" y2="1295.8" stroke="#454545" stroke-width="1.7"/>
<line x1="1340.2" y1="1265.7" x2="1340.2" y2="1284.0" stroke="#454545" stroke-width="1.7"/>
<line x1="1335.4" y1="1265.7" x2="1345.0" y2="1265.7" stroke="#454545" stroke-width="1.7"/>
<line x1="1335.4" y1="1284.0" x2="1345.0" y2="1284.0" stroke="#454545" stroke-width="1.7"/>
<line x1="1355.7" y1="1258.7" x2="1355.7" y2="1280.2" stroke="#454545" stroke-width="1.7"/>
<line x1="1350.9" y1="1258.7" x2="1360.5" y2="1258.7" stroke="#454545" stroke-width="1.7"/>
<line x1="1350.9" y1="1280.2" x2="1360.5" y2="1280.2" stroke="#454545" stroke-width="1.7"/>
<line x1="1371.2" y1="1247.7" x2="1371.2" y2="1270.8" stroke="#454545" stroke-width="1.7"/>
<line x1="1366.4" y1="1247.7" x2="1376.0" y2="1247.7" stroke="#454545" stroke-width="1.7"/>
<line x1="1366.4" y1="1270.8" x2="1376.0" y2="1270.8" stroke="#454545" stroke-width="1.7"/>
<line x1="1402.2" y1="1222.6" x2="1402.2" y2="1248.5" stroke="#454545" stroke-width="1.7"/>
<line x1="1397.5" y1="1222.6" x2="1407.0" y2="1222.6" stroke="#454545" stroke-width="1.7"/>
<line x1="1397.5" y1="1248.5" x2="1407.0" y2="1248.5" stroke="#454545" stroke-width="1.7"/>
<line x1="1479.8" y1="1162.9" x2="1479.8" y2="1189.8" stroke="#454545" stroke-width="1.7"/>
<line x1="1475.0" y1="1162.9" x2="1484.6" y2="1162.9" stroke="#454545" stroke-width="1.7"/>
<line x1="1475.0" y1="1189.8" x2="1484.6" y2="1189.8" stroke="#454545" stroke-width="1.7"/>
<line x1="1634.9" y1="1058.0" x2="1634.9" y2="1079.5" stroke="#454545" stroke-width="1.7"/>
<line x1="1630.1" y1="1058.0" x2="1639.7" y2="1058.0" stroke="#454545" stroke-width="1.7"/>
<line x1="1630.1" y1="1079.5" x2="1639.7" y2="1079.5" stroke="#454545" stroke-width="1.7"/>
<line x1="1790.0" y1="982.2" x2="1790.0" y2="1010.1" stroke="#454545" stroke-width="1.7"/>
<line x1="1785.2" y1="982.2" x2="1794.8" y2="982.2" stroke="#454545" stroke-width="1.7"/>
<line x1="1785.2" y1="1010.1" x2="1794.8" y2="1010.1" stroke="#454545" stroke-width="1.7"/>
<circle cx="1332.5" cy="1286.1" r="8.5" fill="#4472C4"/>
<circle cx="1340.2" cy="1274.8" r="8.5" fill="#4472C4"/>
<circle cx="1355.7" cy="1269.4" r="8.5" fill="#4472C4"/>
<circle cx="1371.2" cy="1259.2" r="8.5" fill="#4472C4"/>
<circle cx="1402.2" cy="1235.6" r="8.5" fill="#4472C4"/>
<circle cx="1479.8" cy="1176.4" r="8.5" fill="#4472C4"/>
<circle cx="1634.9" cy="1068.8" r="8.5" fill="#4472C4"/>
<circle cx="1790.0" cy="996.1" r="8.5" fill="#4472C4"/>
<text x="1587.5" y="1000.2" font-family="'Liberation Serif', 'Times New Roman', serif" font-size="21" fill="#595959" text-anchor="middle" textLength="204" lengthAdjust="spacingAndGlyphs"  stroke="#595959" stroke-width="0.45">y = 0.9379x + 2.3248</text>
<text x="1587.8" y="1027" font-family="'Liberation Serif', 'Times New Roman', serif" font-size="21" fill="#595959" stroke="#595959" stroke-width="0.35" text-anchor="middle" textLength="113" lengthAdjust="spacingAndGlyphs">R<tspan font-size="14" dy="-8">2</tspan><tspan dy="8"> = 0.9938</tspan></text>
</g>
</svg>
</body></html>
